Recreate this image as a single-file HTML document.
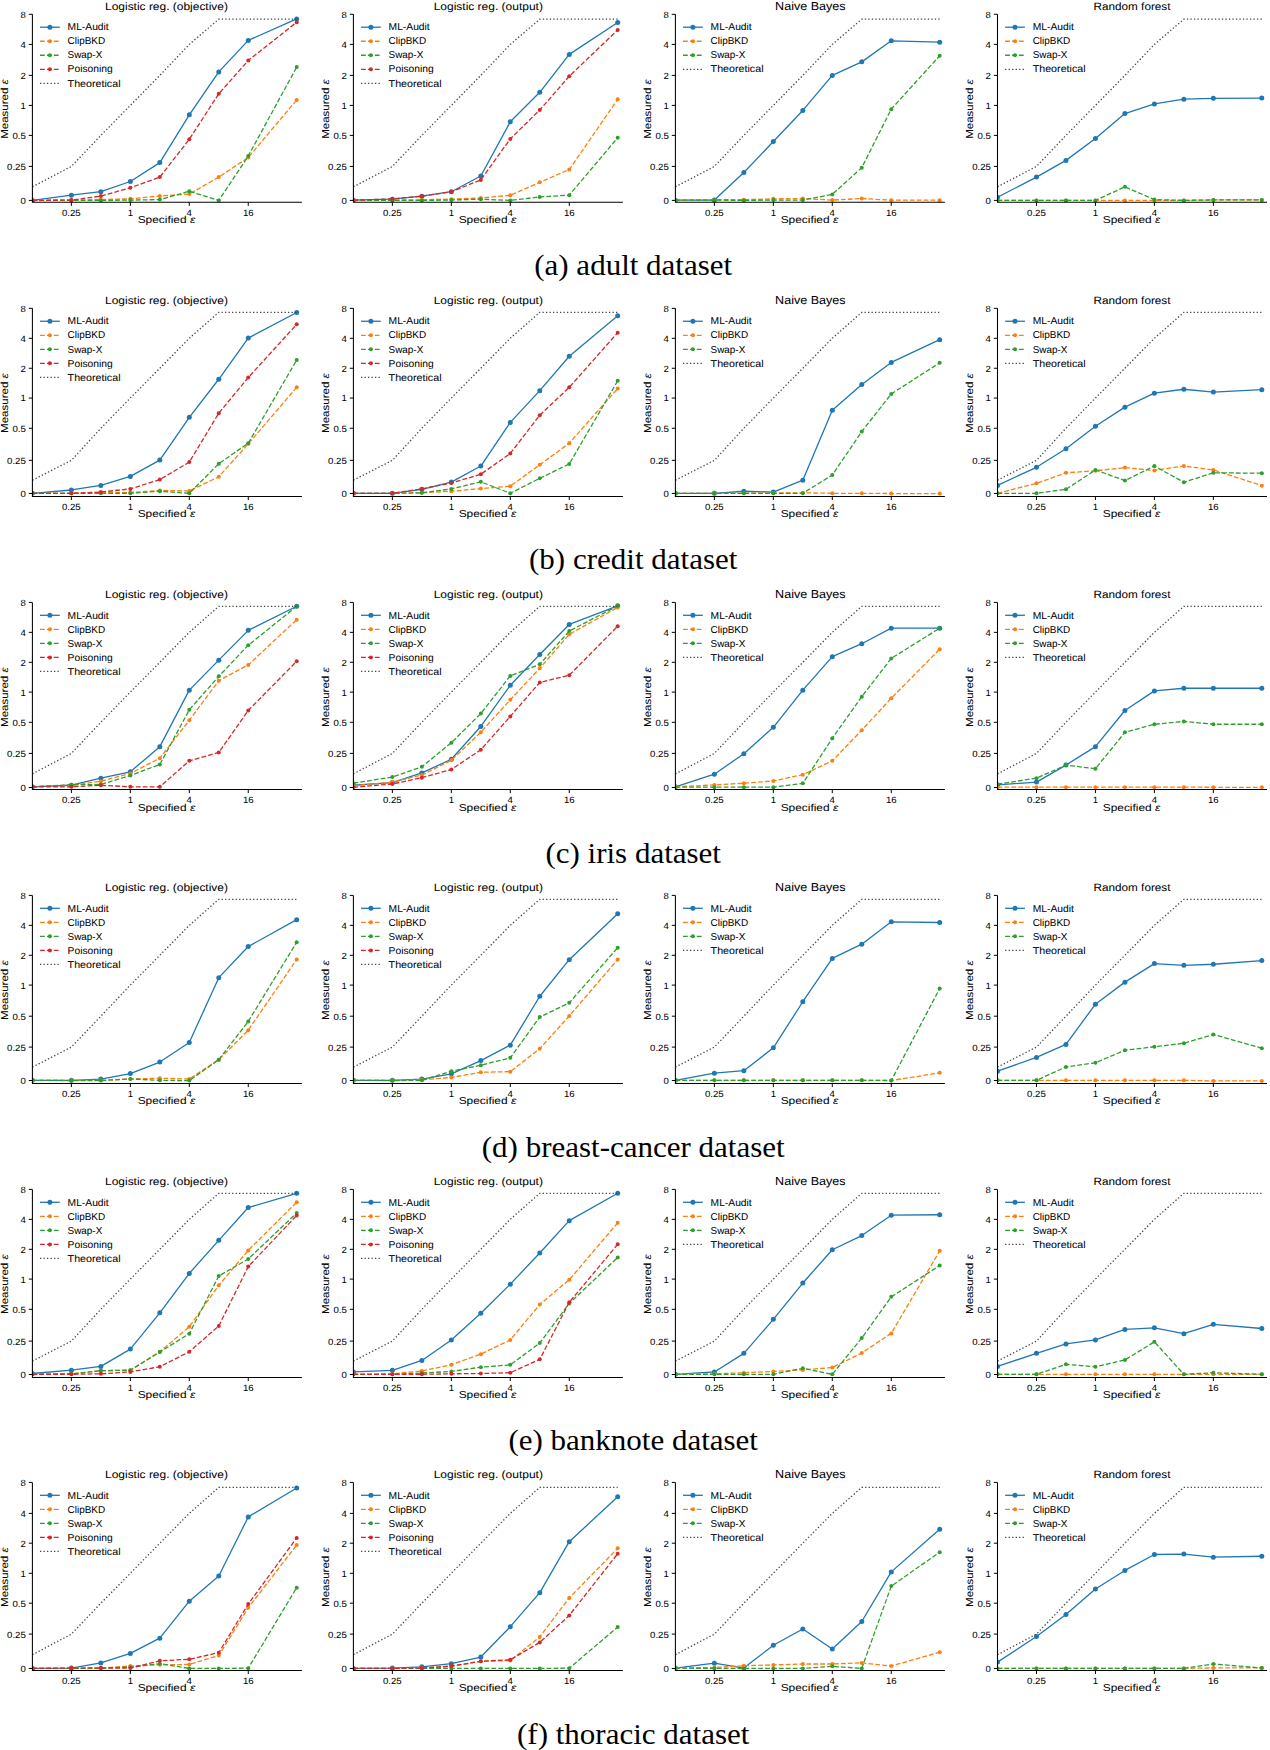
<!DOCTYPE html><html><head><meta charset="utf-8"><title>Figure</title><style>html,body{margin:0;padding:0;background:#fff;overflow:hidden}svg{display:block}.t text{stroke:#000;stroke-width:0.04px}</style></head><body>
<svg width="1270" height="1750" viewBox="0 0 1270 1750">
<rect width="1270" height="1750" fill="#fff"/>
<g class="t" font-family='"Liberation Sans", sans-serif' fill="#000" text-rendering="geometricPrecision"><clipPath id="k00"><rect x="32.4" y="14.3" width="269.5" height="188"/></clipPath><g clip-path="url(#k00)"><polyline points="32.4,200.4 71.37,195.2 100.85,191.7 130.33,181.5 159.81,162.6 189.29,114.8 218.77,71.9 248.25,40.4 296.71,18.9" fill="none" stroke="#1f77b4" stroke-width="1.3" stroke-linejoin="round"/><circle cx="32.4" cy="200.4" r="2.5" fill="#1f77b4"/><circle cx="71.37" cy="195.2" r="2.5" fill="#1f77b4"/><circle cx="100.85" cy="191.7" r="2.5" fill="#1f77b4"/><circle cx="130.33" cy="181.5" r="2.5" fill="#1f77b4"/><circle cx="159.81" cy="162.6" r="2.5" fill="#1f77b4"/><circle cx="189.29" cy="114.8" r="2.5" fill="#1f77b4"/><circle cx="218.77" cy="71.9" r="2.5" fill="#1f77b4"/><circle cx="248.25" cy="40.4" r="2.5" fill="#1f77b4"/><circle cx="296.71" cy="18.9" r="2.5" fill="#1f77b4"/><polyline points="32.4,200.4 71.37,200.1 100.85,199.6 130.33,198.8 159.81,196 189.29,194.1 218.77,177.1 248.25,157.5 296.71,99.9" fill="none" stroke="#ff7f0e" stroke-width="1.3" stroke-dasharray="4.8 2.1" stroke-linejoin="round"/><circle cx="32.4" cy="200.4" r="2.0" fill="#ff7f0e"/><circle cx="71.37" cy="200.1" r="2.0" fill="#ff7f0e"/><circle cx="100.85" cy="199.6" r="2.0" fill="#ff7f0e"/><circle cx="130.33" cy="198.8" r="2.0" fill="#ff7f0e"/><circle cx="159.81" cy="196" r="2.0" fill="#ff7f0e"/><circle cx="189.29" cy="194.1" r="2.0" fill="#ff7f0e"/><circle cx="218.77" cy="177.1" r="2.0" fill="#ff7f0e"/><circle cx="248.25" cy="157.5" r="2.0" fill="#ff7f0e"/><circle cx="296.71" cy="99.9" r="2.0" fill="#ff7f0e"/><polyline points="32.4,200.4 71.37,200.4 100.85,200.4 130.33,200.1 159.81,199.6 189.29,191.3 218.77,200.4 248.25,156 296.71,67.1" fill="none" stroke="#2ca02c" stroke-width="1.3" stroke-dasharray="4.8 2.1" stroke-linejoin="round"/><circle cx="32.4" cy="200.4" r="2.0" fill="#2ca02c"/><circle cx="71.37" cy="200.4" r="2.0" fill="#2ca02c"/><circle cx="100.85" cy="200.4" r="2.0" fill="#2ca02c"/><circle cx="130.33" cy="200.1" r="2.0" fill="#2ca02c"/><circle cx="159.81" cy="199.6" r="2.0" fill="#2ca02c"/><circle cx="189.29" cy="191.3" r="2.0" fill="#2ca02c"/><circle cx="218.77" cy="200.4" r="2.0" fill="#2ca02c"/><circle cx="248.25" cy="156" r="2.0" fill="#2ca02c"/><circle cx="296.71" cy="67.1" r="2.0" fill="#2ca02c"/><polyline points="32.4,200.4 71.37,200.1 100.85,196.1 130.33,187.8 159.81,177.1 189.29,139.3 218.77,93.8 248.25,60.5 296.71,22.2" fill="none" stroke="#d62728" stroke-width="1.3" stroke-dasharray="4.8 2.1" stroke-linejoin="round"/><circle cx="32.4" cy="200.4" r="2.0" fill="#d62728"/><circle cx="71.37" cy="200.1" r="2.0" fill="#d62728"/><circle cx="100.85" cy="196.1" r="2.0" fill="#d62728"/><circle cx="130.33" cy="187.8" r="2.0" fill="#d62728"/><circle cx="159.81" cy="177.1" r="2.0" fill="#d62728"/><circle cx="189.29" cy="139.3" r="2.0" fill="#d62728"/><circle cx="218.77" cy="93.8" r="2.0" fill="#d62728"/><circle cx="248.25" cy="60.5" r="2.0" fill="#d62728"/><circle cx="296.71" cy="22.2" r="2.0" fill="#d62728"/><polyline points="32.4,186.8 71.37,166.4 100.85,135.4 130.33,105.4 159.81,75.4 189.29,44.4 218.77,19.2 248.25,19.2 296.71,19.2" fill="none" stroke="#444444" stroke-width="1.3" stroke-dasharray="1.3 2.2"/></g><path d="M32.4,14.3V202.3H301.9" fill="none" stroke="#000" stroke-width="1.05"/><path d="M28.8,14.3H32.4M28.8,44.4H32.4M28.8,75.4H32.4M28.8,105.4H32.4M28.8,135.4H32.4M28.8,166.4H32.4M28.8,200.4H32.4M71.37,202.3V205.9M130.33,202.3V205.9M189.29,202.3V205.9M248.25,202.3V205.9" fill="none" stroke="#000" stroke-width="1"/><text x="25.8" y="17.7" text-anchor="end" font-size="9" textLength="5.34" lengthAdjust="spacingAndGlyphs">8</text><text x="25.8" y="47.8" text-anchor="end" font-size="9" textLength="5.34" lengthAdjust="spacingAndGlyphs">4</text><text x="25.8" y="78.8" text-anchor="end" font-size="9" textLength="5.34" lengthAdjust="spacingAndGlyphs">2</text><text x="25.8" y="108.8" text-anchor="end" font-size="9" textLength="5.34" lengthAdjust="spacingAndGlyphs">1</text><text x="25.8" y="138.8" text-anchor="end" font-size="9" textLength="13.36" lengthAdjust="spacingAndGlyphs">0.5</text><text x="25.8" y="169.8" text-anchor="end" font-size="9" textLength="18.70" lengthAdjust="spacingAndGlyphs">0.25</text><text x="25.8" y="203.8" text-anchor="end" font-size="9" textLength="5.34" lengthAdjust="spacingAndGlyphs">0</text><text x="71.37" y="215.6" text-anchor="middle" font-size="9" textLength="18.70" lengthAdjust="spacingAndGlyphs">0.25</text><text x="130.33" y="215.6" text-anchor="middle" font-size="9" textLength="5.34" lengthAdjust="spacingAndGlyphs">1</text><text x="189.29" y="215.6" text-anchor="middle" font-size="9" textLength="5.34" lengthAdjust="spacingAndGlyphs">4</text><text x="248.25" y="215.6" text-anchor="middle" font-size="9" textLength="10.69" lengthAdjust="spacingAndGlyphs">16</text><text x="166.5" y="9.8" text-anchor="middle" font-size="10.6" textLength="122.90" lengthAdjust="spacingAndGlyphs">Logistic reg. (objective)</text><text x="166.4" y="222.8" text-anchor="middle" font-size="10" textLength="57.50" lengthAdjust="spacingAndGlyphs">Specified <tspan font-style="italic">ε</tspan></text><text transform="translate(8,109.1) rotate(-90)" text-anchor="middle" font-size="10.2" textLength="59.50" lengthAdjust="spacingAndGlyphs">Measured <tspan font-style="italic">ε</tspan></text><path d="M40,27.2H59.8" stroke="#1f77b4" stroke-width="1.3"/><circle cx="49.9" cy="27.2" r="2.5" fill="#1f77b4"/><text x="67.6" y="30.4" font-size="10" textLength="41.11" lengthAdjust="spacingAndGlyphs">ML-Audit</text><path d="M40,41.23H59.8" stroke="#ff7f0e" stroke-width="1.3" stroke-dasharray="4.8 2.1"/><circle cx="49.9" cy="41.23" r="2.0" fill="#ff7f0e"/><text x="67.6" y="44.43" font-size="10" textLength="37.60" lengthAdjust="spacingAndGlyphs">ClipBKD</text><path d="M40,55.26H59.8" stroke="#2ca02c" stroke-width="1.3" stroke-dasharray="4.8 2.1"/><circle cx="49.9" cy="55.26" r="2.0" fill="#2ca02c"/><text x="67.6" y="58.46" font-size="10" textLength="34.67" lengthAdjust="spacingAndGlyphs">Swap-X</text><path d="M40,69.29H59.8" stroke="#d62728" stroke-width="1.3" stroke-dasharray="4.8 2.1"/><circle cx="49.9" cy="69.29" r="2.0" fill="#d62728"/><text x="67.6" y="72.49" font-size="10" textLength="45.03" lengthAdjust="spacingAndGlyphs">Poisoning</text><path d="M40,83.32H59.8" stroke="#444444" stroke-width="1.3" stroke-dasharray="1.3 2.2"/><text x="67.6" y="86.52" font-size="10" textLength="52.91" lengthAdjust="spacingAndGlyphs">Theoretical</text></g>
<g class="t" font-family='"Liberation Sans", sans-serif' fill="#000" text-rendering="geometricPrecision"><clipPath id="k01"><rect x="353.4" y="14.3" width="269.5" height="188"/></clipPath><g clip-path="url(#k01)"><polyline points="353.4,200.19 392.37,199.13 421.85,196.14 451.33,191.73 480.81,175.98 510.29,121.83 539.77,92.28 569.25,54.41 617.71,22.45" fill="none" stroke="#1f77b4" stroke-width="1.3" stroke-linejoin="round"/><circle cx="353.4" cy="200.19" r="2.5" fill="#1f77b4"/><circle cx="392.37" cy="199.13" r="2.5" fill="#1f77b4"/><circle cx="421.85" cy="196.14" r="2.5" fill="#1f77b4"/><circle cx="451.33" cy="191.73" r="2.5" fill="#1f77b4"/><circle cx="480.81" cy="175.98" r="2.5" fill="#1f77b4"/><circle cx="510.29" cy="121.83" r="2.5" fill="#1f77b4"/><circle cx="539.77" cy="92.28" r="2.5" fill="#1f77b4"/><circle cx="569.25" cy="54.41" r="2.5" fill="#1f77b4"/><circle cx="617.71" cy="22.45" r="2.5" fill="#1f77b4"/><polyline points="353.4,200.19 392.37,200.08 421.85,199.76 451.33,199.13 480.81,198.03 510.29,195.35 539.77,182.28 569.25,169.55 617.71,99.28" fill="none" stroke="#ff7f0e" stroke-width="1.3" stroke-dasharray="4.8 2.1" stroke-linejoin="round"/><circle cx="353.4" cy="200.19" r="2.0" fill="#ff7f0e"/><circle cx="392.37" cy="200.08" r="2.0" fill="#ff7f0e"/><circle cx="421.85" cy="199.76" r="2.0" fill="#ff7f0e"/><circle cx="451.33" cy="199.13" r="2.0" fill="#ff7f0e"/><circle cx="480.81" cy="198.03" r="2.0" fill="#ff7f0e"/><circle cx="510.29" cy="195.35" r="2.0" fill="#ff7f0e"/><circle cx="539.77" cy="182.28" r="2.0" fill="#ff7f0e"/><circle cx="569.25" cy="169.55" r="2.0" fill="#ff7f0e"/><circle cx="617.71" cy="99.28" r="2.0" fill="#ff7f0e"/><polyline points="353.4,200.19 392.37,200.39 421.85,200.39 451.33,200.08 480.81,199.13 510.29,200.39 539.77,196.93 569.25,195.16 617.71,137.81" fill="none" stroke="#2ca02c" stroke-width="1.3" stroke-dasharray="4.8 2.1" stroke-linejoin="round"/><circle cx="353.4" cy="200.19" r="2.0" fill="#2ca02c"/><circle cx="392.37" cy="200.39" r="2.0" fill="#2ca02c"/><circle cx="421.85" cy="200.39" r="2.0" fill="#2ca02c"/><circle cx="451.33" cy="200.08" r="2.0" fill="#2ca02c"/><circle cx="480.81" cy="199.13" r="2.0" fill="#2ca02c"/><circle cx="510.29" cy="200.39" r="2.0" fill="#2ca02c"/><circle cx="539.77" cy="196.93" r="2.0" fill="#2ca02c"/><circle cx="569.25" cy="195.16" r="2.0" fill="#2ca02c"/><circle cx="617.71" cy="137.81" r="2.0" fill="#2ca02c"/><polyline points="353.4,200.19 392.37,198.82 421.85,196.14 451.33,191.73 480.81,179.92 510.29,138.9 539.77,110.01 569.25,76.3 617.71,29.89" fill="none" stroke="#d62728" stroke-width="1.3" stroke-dasharray="4.8 2.1" stroke-linejoin="round"/><circle cx="353.4" cy="200.19" r="2.0" fill="#d62728"/><circle cx="392.37" cy="198.82" r="2.0" fill="#d62728"/><circle cx="421.85" cy="196.14" r="2.0" fill="#d62728"/><circle cx="451.33" cy="191.73" r="2.0" fill="#d62728"/><circle cx="480.81" cy="179.92" r="2.0" fill="#d62728"/><circle cx="510.29" cy="138.9" r="2.0" fill="#d62728"/><circle cx="539.77" cy="110.01" r="2.0" fill="#d62728"/><circle cx="569.25" cy="76.3" r="2.0" fill="#d62728"/><circle cx="617.71" cy="29.89" r="2.0" fill="#d62728"/><polyline points="353.4,186.8 392.37,166.4 421.85,135.4 451.33,105.4 480.81,75.4 510.29,44.4 539.77,19.2 569.25,19.2 617.71,19.2" fill="none" stroke="#444444" stroke-width="1.3" stroke-dasharray="1.3 2.2"/></g><path d="M353.4,14.3V202.3H622.9" fill="none" stroke="#000" stroke-width="1.05"/><path d="M349.8,14.3H353.4M349.8,44.4H353.4M349.8,75.4H353.4M349.8,105.4H353.4M349.8,135.4H353.4M349.8,166.4H353.4M349.8,200.4H353.4M392.37,202.3V205.9M451.33,202.3V205.9M510.29,202.3V205.9M569.25,202.3V205.9" fill="none" stroke="#000" stroke-width="1"/><text x="346.8" y="17.7" text-anchor="end" font-size="9" textLength="5.34" lengthAdjust="spacingAndGlyphs">8</text><text x="346.8" y="47.8" text-anchor="end" font-size="9" textLength="5.34" lengthAdjust="spacingAndGlyphs">4</text><text x="346.8" y="78.8" text-anchor="end" font-size="9" textLength="5.34" lengthAdjust="spacingAndGlyphs">2</text><text x="346.8" y="108.8" text-anchor="end" font-size="9" textLength="5.34" lengthAdjust="spacingAndGlyphs">1</text><text x="346.8" y="138.8" text-anchor="end" font-size="9" textLength="13.36" lengthAdjust="spacingAndGlyphs">0.5</text><text x="346.8" y="169.8" text-anchor="end" font-size="9" textLength="18.70" lengthAdjust="spacingAndGlyphs">0.25</text><text x="346.8" y="203.8" text-anchor="end" font-size="9" textLength="5.34" lengthAdjust="spacingAndGlyphs">0</text><text x="392.37" y="215.6" text-anchor="middle" font-size="9" textLength="18.70" lengthAdjust="spacingAndGlyphs">0.25</text><text x="451.33" y="215.6" text-anchor="middle" font-size="9" textLength="5.34" lengthAdjust="spacingAndGlyphs">1</text><text x="510.29" y="215.6" text-anchor="middle" font-size="9" textLength="5.34" lengthAdjust="spacingAndGlyphs">4</text><text x="569.25" y="215.6" text-anchor="middle" font-size="9" textLength="10.69" lengthAdjust="spacingAndGlyphs">16</text><text x="488.3" y="9.8" text-anchor="middle" font-size="10.6" textLength="109.30" lengthAdjust="spacingAndGlyphs">Logistic reg. (output)</text><text x="487.4" y="222.8" text-anchor="middle" font-size="10" textLength="57.50" lengthAdjust="spacingAndGlyphs">Specified <tspan font-style="italic">ε</tspan></text><text transform="translate(329,109.1) rotate(-90)" text-anchor="middle" font-size="10.2" textLength="59.50" lengthAdjust="spacingAndGlyphs">Measured <tspan font-style="italic">ε</tspan></text><path d="M361,27.2H380.8" stroke="#1f77b4" stroke-width="1.3"/><circle cx="370.9" cy="27.2" r="2.5" fill="#1f77b4"/><text x="388.6" y="30.4" font-size="10" textLength="41.11" lengthAdjust="spacingAndGlyphs">ML-Audit</text><path d="M361,41.23H380.8" stroke="#ff7f0e" stroke-width="1.3" stroke-dasharray="4.8 2.1"/><circle cx="370.9" cy="41.23" r="2.0" fill="#ff7f0e"/><text x="388.6" y="44.43" font-size="10" textLength="37.60" lengthAdjust="spacingAndGlyphs">ClipBKD</text><path d="M361,55.26H380.8" stroke="#2ca02c" stroke-width="1.3" stroke-dasharray="4.8 2.1"/><circle cx="370.9" cy="55.26" r="2.0" fill="#2ca02c"/><text x="388.6" y="58.46" font-size="10" textLength="34.67" lengthAdjust="spacingAndGlyphs">Swap-X</text><path d="M361,69.29H380.8" stroke="#d62728" stroke-width="1.3" stroke-dasharray="4.8 2.1"/><circle cx="370.9" cy="69.29" r="2.0" fill="#d62728"/><text x="388.6" y="72.49" font-size="10" textLength="45.03" lengthAdjust="spacingAndGlyphs">Poisoning</text><path d="M361,83.32H380.8" stroke="#444444" stroke-width="1.3" stroke-dasharray="1.3 2.2"/><text x="388.6" y="86.52" font-size="10" textLength="52.91" lengthAdjust="spacingAndGlyphs">Theoretical</text></g>
<g class="t" font-family='"Liberation Sans", sans-serif' fill="#000" text-rendering="geometricPrecision"><clipPath id="k02"><rect x="675.4" y="14.3" width="269.5" height="188"/></clipPath><g clip-path="url(#k02)"><polyline points="675.4,200.19 714.37,200.08 743.85,172.52 773.33,141.53 802.81,110.44 832.29,75.42 861.77,61.85 891.25,40.83 939.71,42.15" fill="none" stroke="#1f77b4" stroke-width="1.3" stroke-linejoin="round"/><circle cx="675.4" cy="200.19" r="2.5" fill="#1f77b4"/><circle cx="714.37" cy="200.08" r="2.5" fill="#1f77b4"/><circle cx="743.85" cy="172.52" r="2.5" fill="#1f77b4"/><circle cx="773.33" cy="141.53" r="2.5" fill="#1f77b4"/><circle cx="802.81" cy="110.44" r="2.5" fill="#1f77b4"/><circle cx="832.29" cy="75.42" r="2.5" fill="#1f77b4"/><circle cx="861.77" cy="61.85" r="2.5" fill="#1f77b4"/><circle cx="891.25" cy="40.83" r="2.5" fill="#1f77b4"/><circle cx="939.71" cy="42.15" r="2.5" fill="#1f77b4"/><polyline points="675.4,200.19 714.37,199.76 743.85,199.76 773.33,198.82 802.81,198.5 832.29,200.08 861.77,198.5 891.25,200.19 939.71,200.19" fill="none" stroke="#ff7f0e" stroke-width="1.3" stroke-dasharray="4.8 2.1" stroke-linejoin="round"/><circle cx="675.4" cy="200.19" r="2.0" fill="#ff7f0e"/><circle cx="714.37" cy="199.76" r="2.0" fill="#ff7f0e"/><circle cx="743.85" cy="199.76" r="2.0" fill="#ff7f0e"/><circle cx="773.33" cy="198.82" r="2.0" fill="#ff7f0e"/><circle cx="802.81" cy="198.5" r="2.0" fill="#ff7f0e"/><circle cx="832.29" cy="200.08" r="2.0" fill="#ff7f0e"/><circle cx="861.77" cy="198.5" r="2.0" fill="#ff7f0e"/><circle cx="891.25" cy="200.19" r="2.0" fill="#ff7f0e"/><circle cx="939.71" cy="200.19" r="2.0" fill="#ff7f0e"/><polyline points="675.4,200.08 714.37,200.08 743.85,200.39 773.33,200.08 802.81,200.08 832.29,194.41 861.77,167.64 891.25,109.13 939.71,55.72" fill="none" stroke="#2ca02c" stroke-width="1.3" stroke-dasharray="4.8 2.1" stroke-linejoin="round"/><circle cx="675.4" cy="200.08" r="2.0" fill="#2ca02c"/><circle cx="714.37" cy="200.08" r="2.0" fill="#2ca02c"/><circle cx="743.85" cy="200.39" r="2.0" fill="#2ca02c"/><circle cx="773.33" cy="200.08" r="2.0" fill="#2ca02c"/><circle cx="802.81" cy="200.08" r="2.0" fill="#2ca02c"/><circle cx="832.29" cy="194.41" r="2.0" fill="#2ca02c"/><circle cx="861.77" cy="167.64" r="2.0" fill="#2ca02c"/><circle cx="891.25" cy="109.13" r="2.0" fill="#2ca02c"/><circle cx="939.71" cy="55.72" r="2.0" fill="#2ca02c"/><polyline points="675.4,186.8 714.37,166.4 743.85,135.4 773.33,105.4 802.81,75.4 832.29,44.4 861.77,19.2 891.25,19.2 939.71,19.2" fill="none" stroke="#444444" stroke-width="1.3" stroke-dasharray="1.3 2.2"/></g><path d="M675.4,14.3V202.3H944.9" fill="none" stroke="#000" stroke-width="1.05"/><path d="M671.8,14.3H675.4M671.8,44.4H675.4M671.8,75.4H675.4M671.8,105.4H675.4M671.8,135.4H675.4M671.8,166.4H675.4M671.8,200.4H675.4M714.37,202.3V205.9M773.33,202.3V205.9M832.29,202.3V205.9M891.25,202.3V205.9" fill="none" stroke="#000" stroke-width="1"/><text x="668.8" y="17.7" text-anchor="end" font-size="9" textLength="5.34" lengthAdjust="spacingAndGlyphs">8</text><text x="668.8" y="47.8" text-anchor="end" font-size="9" textLength="5.34" lengthAdjust="spacingAndGlyphs">4</text><text x="668.8" y="78.8" text-anchor="end" font-size="9" textLength="5.34" lengthAdjust="spacingAndGlyphs">2</text><text x="668.8" y="108.8" text-anchor="end" font-size="9" textLength="5.34" lengthAdjust="spacingAndGlyphs">1</text><text x="668.8" y="138.8" text-anchor="end" font-size="9" textLength="13.36" lengthAdjust="spacingAndGlyphs">0.5</text><text x="668.8" y="169.8" text-anchor="end" font-size="9" textLength="18.70" lengthAdjust="spacingAndGlyphs">0.25</text><text x="668.8" y="203.8" text-anchor="end" font-size="9" textLength="5.34" lengthAdjust="spacingAndGlyphs">0</text><text x="714.37" y="215.6" text-anchor="middle" font-size="9" textLength="18.70" lengthAdjust="spacingAndGlyphs">0.25</text><text x="773.33" y="215.6" text-anchor="middle" font-size="9" textLength="5.34" lengthAdjust="spacingAndGlyphs">1</text><text x="832.29" y="215.6" text-anchor="middle" font-size="9" textLength="5.34" lengthAdjust="spacingAndGlyphs">4</text><text x="891.25" y="215.6" text-anchor="middle" font-size="9" textLength="10.69" lengthAdjust="spacingAndGlyphs">16</text><text x="810.35" y="9.8" text-anchor="middle" font-size="11.6" textLength="70.50" lengthAdjust="spacingAndGlyphs">Naive Bayes</text><text x="809.4" y="222.8" text-anchor="middle" font-size="10" textLength="57.50" lengthAdjust="spacingAndGlyphs">Specified <tspan font-style="italic">ε</tspan></text><text transform="translate(651,109.1) rotate(-90)" text-anchor="middle" font-size="10.2" textLength="59.50" lengthAdjust="spacingAndGlyphs">Measured <tspan font-style="italic">ε</tspan></text><path d="M683,27.2H702.8" stroke="#1f77b4" stroke-width="1.3"/><circle cx="692.9" cy="27.2" r="2.5" fill="#1f77b4"/><text x="710.6" y="30.4" font-size="10" textLength="41.11" lengthAdjust="spacingAndGlyphs">ML-Audit</text><path d="M683,41.23H702.8" stroke="#ff7f0e" stroke-width="1.3" stroke-dasharray="4.8 2.1"/><circle cx="692.9" cy="41.23" r="2.0" fill="#ff7f0e"/><text x="710.6" y="44.43" font-size="10" textLength="37.60" lengthAdjust="spacingAndGlyphs">ClipBKD</text><path d="M683,55.26H702.8" stroke="#2ca02c" stroke-width="1.3" stroke-dasharray="4.8 2.1"/><circle cx="692.9" cy="55.26" r="2.0" fill="#2ca02c"/><text x="710.6" y="58.46" font-size="10" textLength="34.67" lengthAdjust="spacingAndGlyphs">Swap-X</text><path d="M683,69.29H702.8" stroke="#444444" stroke-width="1.3" stroke-dasharray="1.3 2.2"/><text x="710.6" y="72.49" font-size="10" textLength="52.91" lengthAdjust="spacingAndGlyphs">Theoretical</text></g>
<g class="t" font-family='"Liberation Sans", sans-serif' fill="#000" text-rendering="geometricPrecision"><clipPath id="k03"><rect x="997.5" y="14.3" width="269.5" height="188"/></clipPath><g clip-path="url(#k03)"><polyline points="997.5,197.24 1036.47,177.09 1065.95,160.39 1095.43,138.43 1124.91,113.57 1154.39,103.97 1183.87,99.17 1213.35,98.3 1261.81,98.08" fill="none" stroke="#1f77b4" stroke-width="1.3" stroke-linejoin="round"/><circle cx="997.5" cy="197.24" r="2.5" fill="#1f77b4"/><circle cx="1036.47" cy="177.09" r="2.5" fill="#1f77b4"/><circle cx="1065.95" cy="160.39" r="2.5" fill="#1f77b4"/><circle cx="1095.43" cy="138.43" r="2.5" fill="#1f77b4"/><circle cx="1124.91" cy="113.57" r="2.5" fill="#1f77b4"/><circle cx="1154.39" cy="103.97" r="2.5" fill="#1f77b4"/><circle cx="1183.87" cy="99.17" r="2.5" fill="#1f77b4"/><circle cx="1213.35" cy="98.3" r="2.5" fill="#1f77b4"/><circle cx="1261.81" cy="98.08" r="2.5" fill="#1f77b4"/><polyline points="997.5,200.39 1036.47,200.39 1065.95,200.39 1095.43,200.39 1124.91,200.39 1154.39,200.39 1183.87,200.39 1213.35,199.94 1261.81,199.94" fill="none" stroke="#ff7f0e" stroke-width="1.3" stroke-dasharray="4.8 2.1" stroke-linejoin="round"/><circle cx="997.5" cy="200.39" r="2.0" fill="#ff7f0e"/><circle cx="1036.47" cy="200.39" r="2.0" fill="#ff7f0e"/><circle cx="1065.95" cy="200.39" r="2.0" fill="#ff7f0e"/><circle cx="1095.43" cy="200.39" r="2.0" fill="#ff7f0e"/><circle cx="1124.91" cy="200.39" r="2.0" fill="#ff7f0e"/><circle cx="1154.39" cy="200.39" r="2.0" fill="#ff7f0e"/><circle cx="1183.87" cy="200.39" r="2.0" fill="#ff7f0e"/><circle cx="1213.35" cy="199.94" r="2.0" fill="#ff7f0e"/><circle cx="1261.81" cy="199.94" r="2.0" fill="#ff7f0e"/><polyline points="997.5,200.39 1036.47,200.39 1065.95,200.39 1095.43,200.39 1124.91,186.85 1154.39,199.61 1183.87,200.39 1213.35,199.94 1261.81,199.94" fill="none" stroke="#2ca02c" stroke-width="1.3" stroke-dasharray="4.8 2.1" stroke-linejoin="round"/><circle cx="997.5" cy="200.39" r="2.0" fill="#2ca02c"/><circle cx="1036.47" cy="200.39" r="2.0" fill="#2ca02c"/><circle cx="1065.95" cy="200.39" r="2.0" fill="#2ca02c"/><circle cx="1095.43" cy="200.39" r="2.0" fill="#2ca02c"/><circle cx="1124.91" cy="186.85" r="2.0" fill="#2ca02c"/><circle cx="1154.39" cy="199.61" r="2.0" fill="#2ca02c"/><circle cx="1183.87" cy="200.39" r="2.0" fill="#2ca02c"/><circle cx="1213.35" cy="199.94" r="2.0" fill="#2ca02c"/><circle cx="1261.81" cy="199.94" r="2.0" fill="#2ca02c"/><polyline points="997.5,186.8 1036.47,166.4 1065.95,135.4 1095.43,105.4 1124.91,75.4 1154.39,44.4 1183.87,19.2 1213.35,19.2 1261.81,19.2" fill="none" stroke="#444444" stroke-width="1.3" stroke-dasharray="1.3 2.2"/></g><path d="M997.5,14.3V202.3H1267" fill="none" stroke="#000" stroke-width="1.05"/><path d="M993.9,14.3H997.5M993.9,44.4H997.5M993.9,75.4H997.5M993.9,105.4H997.5M993.9,135.4H997.5M993.9,166.4H997.5M993.9,200.4H997.5M1036.47,202.3V205.9M1095.43,202.3V205.9M1154.39,202.3V205.9M1213.35,202.3V205.9" fill="none" stroke="#000" stroke-width="1"/><text x="990.9" y="17.7" text-anchor="end" font-size="9" textLength="5.34" lengthAdjust="spacingAndGlyphs">8</text><text x="990.9" y="47.8" text-anchor="end" font-size="9" textLength="5.34" lengthAdjust="spacingAndGlyphs">4</text><text x="990.9" y="78.8" text-anchor="end" font-size="9" textLength="5.34" lengthAdjust="spacingAndGlyphs">2</text><text x="990.9" y="108.8" text-anchor="end" font-size="9" textLength="5.34" lengthAdjust="spacingAndGlyphs">1</text><text x="990.9" y="138.8" text-anchor="end" font-size="9" textLength="13.36" lengthAdjust="spacingAndGlyphs">0.5</text><text x="990.9" y="169.8" text-anchor="end" font-size="9" textLength="18.70" lengthAdjust="spacingAndGlyphs">0.25</text><text x="990.9" y="203.8" text-anchor="end" font-size="9" textLength="5.34" lengthAdjust="spacingAndGlyphs">0</text><text x="1036.47" y="215.6" text-anchor="middle" font-size="9" textLength="18.70" lengthAdjust="spacingAndGlyphs">0.25</text><text x="1095.43" y="215.6" text-anchor="middle" font-size="9" textLength="5.34" lengthAdjust="spacingAndGlyphs">1</text><text x="1154.39" y="215.6" text-anchor="middle" font-size="9" textLength="5.34" lengthAdjust="spacingAndGlyphs">4</text><text x="1213.35" y="215.6" text-anchor="middle" font-size="9" textLength="10.69" lengthAdjust="spacingAndGlyphs">16</text><text x="1132" y="9.8" text-anchor="middle" font-size="10.6" textLength="76.90" lengthAdjust="spacingAndGlyphs">Random forest</text><text x="1131.5" y="222.8" text-anchor="middle" font-size="10" textLength="57.50" lengthAdjust="spacingAndGlyphs">Specified <tspan font-style="italic">ε</tspan></text><text transform="translate(973.1,109.1) rotate(-90)" text-anchor="middle" font-size="10.2" textLength="59.50" lengthAdjust="spacingAndGlyphs">Measured <tspan font-style="italic">ε</tspan></text><path d="M1005.1,27.2H1024.9" stroke="#1f77b4" stroke-width="1.3"/><circle cx="1015" cy="27.2" r="2.5" fill="#1f77b4"/><text x="1032.7" y="30.4" font-size="10" textLength="41.11" lengthAdjust="spacingAndGlyphs">ML-Audit</text><path d="M1005.1,41.23H1024.9" stroke="#ff7f0e" stroke-width="1.3" stroke-dasharray="4.8 2.1"/><circle cx="1015" cy="41.23" r="2.0" fill="#ff7f0e"/><text x="1032.7" y="44.43" font-size="10" textLength="37.60" lengthAdjust="spacingAndGlyphs">ClipBKD</text><path d="M1005.1,55.26H1024.9" stroke="#2ca02c" stroke-width="1.3" stroke-dasharray="4.8 2.1"/><circle cx="1015" cy="55.26" r="2.0" fill="#2ca02c"/><text x="1032.7" y="58.46" font-size="10" textLength="34.67" lengthAdjust="spacingAndGlyphs">Swap-X</text><path d="M1005.1,69.29H1024.9" stroke="#444444" stroke-width="1.3" stroke-dasharray="1.3 2.2"/><text x="1032.7" y="72.49" font-size="10" textLength="52.91" lengthAdjust="spacingAndGlyphs">Theoretical</text></g>
<g class="t" font-family='"Liberation Sans", sans-serif' fill="#000" text-rendering="geometricPrecision"><clipPath id="k10"><rect x="32.4" y="308.35" width="269.5" height="188.07"/></clipPath><g clip-path="url(#k10)"><polyline points="32.4,493.29 71.37,489.98 100.85,485.42 130.33,476.44 159.81,460.06 189.29,417.36 218.77,379.27 248.25,338.12 296.71,312.51" fill="none" stroke="#1f77b4" stroke-width="1.3" stroke-linejoin="round"/><circle cx="32.4" cy="493.29" r="2.5" fill="#1f77b4"/><circle cx="71.37" cy="489.98" r="2.5" fill="#1f77b4"/><circle cx="100.85" cy="485.42" r="2.5" fill="#1f77b4"/><circle cx="130.33" cy="476.44" r="2.5" fill="#1f77b4"/><circle cx="159.81" cy="460.06" r="2.5" fill="#1f77b4"/><circle cx="189.29" cy="417.36" r="2.5" fill="#1f77b4"/><circle cx="218.77" cy="379.27" r="2.5" fill="#1f77b4"/><circle cx="248.25" cy="338.12" r="2.5" fill="#1f77b4"/><circle cx="296.71" cy="312.51" r="2.5" fill="#1f77b4"/><polyline points="32.4,493.29 71.37,493.29 100.85,492.82 130.33,492.5 159.81,490.46 189.29,490.93 218.77,476.76 248.25,443.85 296.71,387.37" fill="none" stroke="#ff7f0e" stroke-width="1.3" stroke-dasharray="4.8 2.1" stroke-linejoin="round"/><circle cx="32.4" cy="493.29" r="2.0" fill="#ff7f0e"/><circle cx="71.37" cy="493.29" r="2.0" fill="#ff7f0e"/><circle cx="100.85" cy="492.82" r="2.0" fill="#ff7f0e"/><circle cx="130.33" cy="492.5" r="2.0" fill="#ff7f0e"/><circle cx="159.81" cy="490.46" r="2.0" fill="#ff7f0e"/><circle cx="189.29" cy="490.93" r="2.0" fill="#ff7f0e"/><circle cx="218.77" cy="476.76" r="2.0" fill="#ff7f0e"/><circle cx="248.25" cy="443.85" r="2.0" fill="#ff7f0e"/><circle cx="296.71" cy="387.37" r="2.0" fill="#ff7f0e"/><polyline points="32.4,493.29 71.37,493.29 100.85,493.29 130.33,493.29 159.81,491.24 189.29,493.29 218.77,463.69 248.25,443.19 296.71,360.01" fill="none" stroke="#2ca02c" stroke-width="1.3" stroke-dasharray="4.8 2.1" stroke-linejoin="round"/><circle cx="32.4" cy="493.29" r="2.0" fill="#2ca02c"/><circle cx="71.37" cy="493.29" r="2.0" fill="#2ca02c"/><circle cx="100.85" cy="493.29" r="2.0" fill="#2ca02c"/><circle cx="130.33" cy="493.29" r="2.0" fill="#2ca02c"/><circle cx="159.81" cy="491.24" r="2.0" fill="#2ca02c"/><circle cx="189.29" cy="493.29" r="2.0" fill="#2ca02c"/><circle cx="218.77" cy="463.69" r="2.0" fill="#2ca02c"/><circle cx="248.25" cy="443.19" r="2.0" fill="#2ca02c"/><circle cx="296.71" cy="360.01" r="2.0" fill="#2ca02c"/><polyline points="32.4,493.29 71.37,493.29 100.85,492.03 130.33,488.88 159.81,479.59 189.29,462.11 218.77,413.2 248.25,377.52 296.71,324.33" fill="none" stroke="#d62728" stroke-width="1.3" stroke-dasharray="4.8 2.1" stroke-linejoin="round"/><circle cx="32.4" cy="493.29" r="2.0" fill="#d62728"/><circle cx="71.37" cy="493.29" r="2.0" fill="#d62728"/><circle cx="100.85" cy="492.03" r="2.0" fill="#d62728"/><circle cx="130.33" cy="488.88" r="2.0" fill="#d62728"/><circle cx="159.81" cy="479.59" r="2.0" fill="#d62728"/><circle cx="189.29" cy="462.11" r="2.0" fill="#d62728"/><circle cx="218.77" cy="413.2" r="2.0" fill="#d62728"/><circle cx="248.25" cy="377.52" r="2.0" fill="#d62728"/><circle cx="296.71" cy="324.33" r="2.0" fill="#d62728"/><polyline points="32.4,480.21 71.37,460.35 100.85,428.25 130.33,398.05 159.81,368.25 189.29,338.3 218.77,312.3 248.25,312.3 296.71,312.3" fill="none" stroke="#444444" stroke-width="1.3" stroke-dasharray="1.3 2.2"/></g><path d="M32.4,308.35V496.42H301.9" fill="none" stroke="#000" stroke-width="1.05"/><path d="M28.8,308.35H32.4M28.8,338.3H32.4M28.8,368.25H32.4M28.8,398.05H32.4M28.8,428.25H32.4M28.8,460.35H32.4M28.8,493.45H32.4M71.37,496.42V500.02M130.33,496.42V500.02M189.29,496.42V500.02M248.25,496.42V500.02" fill="none" stroke="#000" stroke-width="1"/><text x="25.8" y="311.75" text-anchor="end" font-size="9" textLength="5.34" lengthAdjust="spacingAndGlyphs">8</text><text x="25.8" y="341.7" text-anchor="end" font-size="9" textLength="5.34" lengthAdjust="spacingAndGlyphs">4</text><text x="25.8" y="371.65" text-anchor="end" font-size="9" textLength="5.34" lengthAdjust="spacingAndGlyphs">2</text><text x="25.8" y="401.45" text-anchor="end" font-size="9" textLength="5.34" lengthAdjust="spacingAndGlyphs">1</text><text x="25.8" y="431.65" text-anchor="end" font-size="9" textLength="13.36" lengthAdjust="spacingAndGlyphs">0.5</text><text x="25.8" y="463.75" text-anchor="end" font-size="9" textLength="18.70" lengthAdjust="spacingAndGlyphs">0.25</text><text x="25.8" y="496.85" text-anchor="end" font-size="9" textLength="5.34" lengthAdjust="spacingAndGlyphs">0</text><text x="71.37" y="509.72" text-anchor="middle" font-size="9" textLength="18.70" lengthAdjust="spacingAndGlyphs">0.25</text><text x="130.33" y="509.72" text-anchor="middle" font-size="9" textLength="5.34" lengthAdjust="spacingAndGlyphs">1</text><text x="189.29" y="509.72" text-anchor="middle" font-size="9" textLength="5.34" lengthAdjust="spacingAndGlyphs">4</text><text x="248.25" y="509.72" text-anchor="middle" font-size="9" textLength="10.69" lengthAdjust="spacingAndGlyphs">16</text><text x="166.5" y="303.85" text-anchor="middle" font-size="10.6" textLength="122.90" lengthAdjust="spacingAndGlyphs">Logistic reg. (objective)</text><text x="166.4" y="516.85" text-anchor="middle" font-size="10" textLength="57.50" lengthAdjust="spacingAndGlyphs">Specified <tspan font-style="italic">ε</tspan></text><text transform="translate(8,403.15) rotate(-90)" text-anchor="middle" font-size="10.2" textLength="59.50" lengthAdjust="spacingAndGlyphs">Measured <tspan font-style="italic">ε</tspan></text><path d="M40,321.25H59.8" stroke="#1f77b4" stroke-width="1.3"/><circle cx="49.9" cy="321.25" r="2.5" fill="#1f77b4"/><text x="67.6" y="324.45" font-size="10" textLength="41.11" lengthAdjust="spacingAndGlyphs">ML-Audit</text><path d="M40,335.28H59.8" stroke="#ff7f0e" stroke-width="1.3" stroke-dasharray="4.8 2.1"/><circle cx="49.9" cy="335.28" r="2.0" fill="#ff7f0e"/><text x="67.6" y="338.48" font-size="10" textLength="37.60" lengthAdjust="spacingAndGlyphs">ClipBKD</text><path d="M40,349.31H59.8" stroke="#2ca02c" stroke-width="1.3" stroke-dasharray="4.8 2.1"/><circle cx="49.9" cy="349.31" r="2.0" fill="#2ca02c"/><text x="67.6" y="352.51" font-size="10" textLength="34.67" lengthAdjust="spacingAndGlyphs">Swap-X</text><path d="M40,363.34H59.8" stroke="#d62728" stroke-width="1.3" stroke-dasharray="4.8 2.1"/><circle cx="49.9" cy="363.34" r="2.0" fill="#d62728"/><text x="67.6" y="366.54" font-size="10" textLength="45.03" lengthAdjust="spacingAndGlyphs">Poisoning</text><path d="M40,377.37H59.8" stroke="#444444" stroke-width="1.3" stroke-dasharray="1.3 2.2"/><text x="67.6" y="380.57" font-size="10" textLength="52.91" lengthAdjust="spacingAndGlyphs">Theoretical</text></g>
<g class="t" font-family='"Liberation Sans", sans-serif' fill="#000" text-rendering="geometricPrecision"><clipPath id="k11"><rect x="353.4" y="308.35" width="269.5" height="188.07"/></clipPath><g clip-path="url(#k11)"><polyline points="353.4,493.29 392.37,493.29 421.85,489.35 451.33,482.11 480.81,466.05 510.29,422.39 539.77,390.65 569.25,356.29 617.71,315.79" fill="none" stroke="#1f77b4" stroke-width="1.3" stroke-linejoin="round"/><circle cx="353.4" cy="493.29" r="2.5" fill="#1f77b4"/><circle cx="392.37" cy="493.29" r="2.5" fill="#1f77b4"/><circle cx="421.85" cy="489.35" r="2.5" fill="#1f77b4"/><circle cx="451.33" cy="482.11" r="2.5" fill="#1f77b4"/><circle cx="480.81" cy="466.05" r="2.5" fill="#1f77b4"/><circle cx="510.29" cy="422.39" r="2.5" fill="#1f77b4"/><circle cx="539.77" cy="390.65" r="2.5" fill="#1f77b4"/><circle cx="569.25" cy="356.29" r="2.5" fill="#1f77b4"/><circle cx="617.71" cy="315.79" r="2.5" fill="#1f77b4"/><polyline points="353.4,493.29 392.37,493.29 421.85,492.82 451.33,491.24 480.81,488.57 510.29,486.2 539.77,464.79 569.25,443.19 617.71,388.46" fill="none" stroke="#ff7f0e" stroke-width="1.3" stroke-dasharray="4.8 2.1" stroke-linejoin="round"/><circle cx="353.4" cy="493.29" r="2.0" fill="#ff7f0e"/><circle cx="392.37" cy="493.29" r="2.0" fill="#ff7f0e"/><circle cx="421.85" cy="492.82" r="2.0" fill="#ff7f0e"/><circle cx="451.33" cy="491.24" r="2.0" fill="#ff7f0e"/><circle cx="480.81" cy="488.57" r="2.0" fill="#ff7f0e"/><circle cx="510.29" cy="486.2" r="2.0" fill="#ff7f0e"/><circle cx="539.77" cy="464.79" r="2.0" fill="#ff7f0e"/><circle cx="569.25" cy="443.19" r="2.0" fill="#ff7f0e"/><circle cx="617.71" cy="388.46" r="2.0" fill="#ff7f0e"/><polyline points="353.4,493.29 392.37,493.29 421.85,492.82 451.33,488.88 480.81,481.8 510.29,493.29 539.77,478.33 569.25,463.98 617.71,380.8" fill="none" stroke="#2ca02c" stroke-width="1.3" stroke-dasharray="4.8 2.1" stroke-linejoin="round"/><circle cx="353.4" cy="493.29" r="2.0" fill="#2ca02c"/><circle cx="392.37" cy="493.29" r="2.0" fill="#2ca02c"/><circle cx="421.85" cy="492.82" r="2.0" fill="#2ca02c"/><circle cx="451.33" cy="488.88" r="2.0" fill="#2ca02c"/><circle cx="480.81" cy="481.8" r="2.0" fill="#2ca02c"/><circle cx="510.29" cy="493.29" r="2.0" fill="#2ca02c"/><circle cx="539.77" cy="478.33" r="2.0" fill="#2ca02c"/><circle cx="569.25" cy="463.98" r="2.0" fill="#2ca02c"/><circle cx="617.71" cy="380.8" r="2.0" fill="#2ca02c"/><polyline points="353.4,493.29 392.37,493.29 421.85,488.88 451.33,483.06 480.81,474.24 510.29,453.45 539.77,415.17 569.25,387.37 617.71,332.65" fill="none" stroke="#d62728" stroke-width="1.3" stroke-dasharray="4.8 2.1" stroke-linejoin="round"/><circle cx="353.4" cy="493.29" r="2.0" fill="#d62728"/><circle cx="392.37" cy="493.29" r="2.0" fill="#d62728"/><circle cx="421.85" cy="488.88" r="2.0" fill="#d62728"/><circle cx="451.33" cy="483.06" r="2.0" fill="#d62728"/><circle cx="480.81" cy="474.24" r="2.0" fill="#d62728"/><circle cx="510.29" cy="453.45" r="2.0" fill="#d62728"/><circle cx="539.77" cy="415.17" r="2.0" fill="#d62728"/><circle cx="569.25" cy="387.37" r="2.0" fill="#d62728"/><circle cx="617.71" cy="332.65" r="2.0" fill="#d62728"/><polyline points="353.4,480.21 392.37,460.35 421.85,428.25 451.33,398.05 480.81,368.25 510.29,338.3 539.77,312.3 569.25,312.3 617.71,312.3" fill="none" stroke="#444444" stroke-width="1.3" stroke-dasharray="1.3 2.2"/></g><path d="M353.4,308.35V496.42H622.9" fill="none" stroke="#000" stroke-width="1.05"/><path d="M349.8,308.35H353.4M349.8,338.3H353.4M349.8,368.25H353.4M349.8,398.05H353.4M349.8,428.25H353.4M349.8,460.35H353.4M349.8,493.45H353.4M392.37,496.42V500.02M451.33,496.42V500.02M510.29,496.42V500.02M569.25,496.42V500.02" fill="none" stroke="#000" stroke-width="1"/><text x="346.8" y="311.75" text-anchor="end" font-size="9" textLength="5.34" lengthAdjust="spacingAndGlyphs">8</text><text x="346.8" y="341.7" text-anchor="end" font-size="9" textLength="5.34" lengthAdjust="spacingAndGlyphs">4</text><text x="346.8" y="371.65" text-anchor="end" font-size="9" textLength="5.34" lengthAdjust="spacingAndGlyphs">2</text><text x="346.8" y="401.45" text-anchor="end" font-size="9" textLength="5.34" lengthAdjust="spacingAndGlyphs">1</text><text x="346.8" y="431.65" text-anchor="end" font-size="9" textLength="13.36" lengthAdjust="spacingAndGlyphs">0.5</text><text x="346.8" y="463.75" text-anchor="end" font-size="9" textLength="18.70" lengthAdjust="spacingAndGlyphs">0.25</text><text x="346.8" y="496.85" text-anchor="end" font-size="9" textLength="5.34" lengthAdjust="spacingAndGlyphs">0</text><text x="392.37" y="509.72" text-anchor="middle" font-size="9" textLength="18.70" lengthAdjust="spacingAndGlyphs">0.25</text><text x="451.33" y="509.72" text-anchor="middle" font-size="9" textLength="5.34" lengthAdjust="spacingAndGlyphs">1</text><text x="510.29" y="509.72" text-anchor="middle" font-size="9" textLength="5.34" lengthAdjust="spacingAndGlyphs">4</text><text x="569.25" y="509.72" text-anchor="middle" font-size="9" textLength="10.69" lengthAdjust="spacingAndGlyphs">16</text><text x="488.3" y="303.85" text-anchor="middle" font-size="10.6" textLength="109.30" lengthAdjust="spacingAndGlyphs">Logistic reg. (output)</text><text x="487.4" y="516.85" text-anchor="middle" font-size="10" textLength="57.50" lengthAdjust="spacingAndGlyphs">Specified <tspan font-style="italic">ε</tspan></text><text transform="translate(329,403.15) rotate(-90)" text-anchor="middle" font-size="10.2" textLength="59.50" lengthAdjust="spacingAndGlyphs">Measured <tspan font-style="italic">ε</tspan></text><path d="M361,321.25H380.8" stroke="#1f77b4" stroke-width="1.3"/><circle cx="370.9" cy="321.25" r="2.5" fill="#1f77b4"/><text x="388.6" y="324.45" font-size="10" textLength="41.11" lengthAdjust="spacingAndGlyphs">ML-Audit</text><path d="M361,335.28H380.8" stroke="#ff7f0e" stroke-width="1.3" stroke-dasharray="4.8 2.1"/><circle cx="370.9" cy="335.28" r="2.0" fill="#ff7f0e"/><text x="388.6" y="338.48" font-size="10" textLength="37.60" lengthAdjust="spacingAndGlyphs">ClipBKD</text><path d="M361,349.31H380.8" stroke="#2ca02c" stroke-width="1.3" stroke-dasharray="4.8 2.1"/><circle cx="370.9" cy="349.31" r="2.0" fill="#2ca02c"/><text x="388.6" y="352.51" font-size="10" textLength="34.67" lengthAdjust="spacingAndGlyphs">Swap-X</text><path d="M361,363.34H380.8" stroke="#d62728" stroke-width="1.3" stroke-dasharray="4.8 2.1"/><circle cx="370.9" cy="363.34" r="2.0" fill="#d62728"/><text x="388.6" y="366.54" font-size="10" textLength="45.03" lengthAdjust="spacingAndGlyphs">Poisoning</text><path d="M361,377.37H380.8" stroke="#444444" stroke-width="1.3" stroke-dasharray="1.3 2.2"/><text x="388.6" y="380.57" font-size="10" textLength="52.91" lengthAdjust="spacingAndGlyphs">Theoretical</text></g>
<g class="t" font-family='"Liberation Sans", sans-serif' fill="#000" text-rendering="geometricPrecision"><clipPath id="k12"><rect x="675.4" y="308.35" width="269.5" height="188.07"/></clipPath><g clip-path="url(#k12)"><polyline points="675.4,493.29 714.37,493.29 743.85,491.24 773.33,492.03 802.81,480.22 832.29,410.35 861.77,384.52 891.25,362.42 939.71,339.65" fill="none" stroke="#1f77b4" stroke-width="1.3" stroke-linejoin="round"/><circle cx="675.4" cy="493.29" r="2.5" fill="#1f77b4"/><circle cx="714.37" cy="493.29" r="2.5" fill="#1f77b4"/><circle cx="743.85" cy="491.24" r="2.5" fill="#1f77b4"/><circle cx="773.33" cy="492.03" r="2.5" fill="#1f77b4"/><circle cx="802.81" cy="480.22" r="2.5" fill="#1f77b4"/><circle cx="832.29" cy="410.35" r="2.5" fill="#1f77b4"/><circle cx="861.77" cy="384.52" r="2.5" fill="#1f77b4"/><circle cx="891.25" cy="362.42" r="2.5" fill="#1f77b4"/><circle cx="939.71" cy="339.65" r="2.5" fill="#1f77b4"/><polyline points="675.4,493.29 714.37,493.29 743.85,493.29 773.33,492.98 802.81,492.82 832.29,493.29 861.77,493.29 891.25,493.54 939.71,493.54" fill="none" stroke="#ff7f0e" stroke-width="1.3" stroke-dasharray="4.8 2.1" stroke-linejoin="round"/><circle cx="675.4" cy="493.29" r="2.0" fill="#ff7f0e"/><circle cx="714.37" cy="493.29" r="2.0" fill="#ff7f0e"/><circle cx="743.85" cy="493.29" r="2.0" fill="#ff7f0e"/><circle cx="773.33" cy="492.98" r="2.0" fill="#ff7f0e"/><circle cx="802.81" cy="492.82" r="2.0" fill="#ff7f0e"/><circle cx="832.29" cy="493.29" r="2.0" fill="#ff7f0e"/><circle cx="861.77" cy="493.29" r="2.0" fill="#ff7f0e"/><circle cx="891.25" cy="493.54" r="2.0" fill="#ff7f0e"/><circle cx="939.71" cy="493.54" r="2.0" fill="#ff7f0e"/><polyline points="675.4,493.29 714.37,493.29 743.85,493.29 773.33,493.29 802.81,493.29 832.29,475.02 861.77,431.59 891.25,393.94 939.71,362.85" fill="none" stroke="#2ca02c" stroke-width="1.3" stroke-dasharray="4.8 2.1" stroke-linejoin="round"/><circle cx="675.4" cy="493.29" r="2.0" fill="#2ca02c"/><circle cx="714.37" cy="493.29" r="2.0" fill="#2ca02c"/><circle cx="743.85" cy="493.29" r="2.0" fill="#2ca02c"/><circle cx="773.33" cy="493.29" r="2.0" fill="#2ca02c"/><circle cx="802.81" cy="493.29" r="2.0" fill="#2ca02c"/><circle cx="832.29" cy="475.02" r="2.0" fill="#2ca02c"/><circle cx="861.77" cy="431.59" r="2.0" fill="#2ca02c"/><circle cx="891.25" cy="393.94" r="2.0" fill="#2ca02c"/><circle cx="939.71" cy="362.85" r="2.0" fill="#2ca02c"/><polyline points="675.4,480.21 714.37,460.35 743.85,428.25 773.33,398.05 802.81,368.25 832.29,338.3 861.77,312.3 891.25,312.3 939.71,312.3" fill="none" stroke="#444444" stroke-width="1.3" stroke-dasharray="1.3 2.2"/></g><path d="M675.4,308.35V496.42H944.9" fill="none" stroke="#000" stroke-width="1.05"/><path d="M671.8,308.35H675.4M671.8,338.3H675.4M671.8,368.25H675.4M671.8,398.05H675.4M671.8,428.25H675.4M671.8,460.35H675.4M671.8,493.45H675.4M714.37,496.42V500.02M773.33,496.42V500.02M832.29,496.42V500.02M891.25,496.42V500.02" fill="none" stroke="#000" stroke-width="1"/><text x="668.8" y="311.75" text-anchor="end" font-size="9" textLength="5.34" lengthAdjust="spacingAndGlyphs">8</text><text x="668.8" y="341.7" text-anchor="end" font-size="9" textLength="5.34" lengthAdjust="spacingAndGlyphs">4</text><text x="668.8" y="371.65" text-anchor="end" font-size="9" textLength="5.34" lengthAdjust="spacingAndGlyphs">2</text><text x="668.8" y="401.45" text-anchor="end" font-size="9" textLength="5.34" lengthAdjust="spacingAndGlyphs">1</text><text x="668.8" y="431.65" text-anchor="end" font-size="9" textLength="13.36" lengthAdjust="spacingAndGlyphs">0.5</text><text x="668.8" y="463.75" text-anchor="end" font-size="9" textLength="18.70" lengthAdjust="spacingAndGlyphs">0.25</text><text x="668.8" y="496.85" text-anchor="end" font-size="9" textLength="5.34" lengthAdjust="spacingAndGlyphs">0</text><text x="714.37" y="509.72" text-anchor="middle" font-size="9" textLength="18.70" lengthAdjust="spacingAndGlyphs">0.25</text><text x="773.33" y="509.72" text-anchor="middle" font-size="9" textLength="5.34" lengthAdjust="spacingAndGlyphs">1</text><text x="832.29" y="509.72" text-anchor="middle" font-size="9" textLength="5.34" lengthAdjust="spacingAndGlyphs">4</text><text x="891.25" y="509.72" text-anchor="middle" font-size="9" textLength="10.69" lengthAdjust="spacingAndGlyphs">16</text><text x="810.35" y="303.85" text-anchor="middle" font-size="11.6" textLength="70.50" lengthAdjust="spacingAndGlyphs">Naive Bayes</text><text x="809.4" y="516.85" text-anchor="middle" font-size="10" textLength="57.50" lengthAdjust="spacingAndGlyphs">Specified <tspan font-style="italic">ε</tspan></text><text transform="translate(651,403.15) rotate(-90)" text-anchor="middle" font-size="10.2" textLength="59.50" lengthAdjust="spacingAndGlyphs">Measured <tspan font-style="italic">ε</tspan></text><path d="M683,321.25H702.8" stroke="#1f77b4" stroke-width="1.3"/><circle cx="692.9" cy="321.25" r="2.5" fill="#1f77b4"/><text x="710.6" y="324.45" font-size="10" textLength="41.11" lengthAdjust="spacingAndGlyphs">ML-Audit</text><path d="M683,335.28H702.8" stroke="#ff7f0e" stroke-width="1.3" stroke-dasharray="4.8 2.1"/><circle cx="692.9" cy="335.28" r="2.0" fill="#ff7f0e"/><text x="710.6" y="338.48" font-size="10" textLength="37.60" lengthAdjust="spacingAndGlyphs">ClipBKD</text><path d="M683,349.31H702.8" stroke="#2ca02c" stroke-width="1.3" stroke-dasharray="4.8 2.1"/><circle cx="692.9" cy="349.31" r="2.0" fill="#2ca02c"/><text x="710.6" y="352.51" font-size="10" textLength="34.67" lengthAdjust="spacingAndGlyphs">Swap-X</text><path d="M683,363.34H702.8" stroke="#444444" stroke-width="1.3" stroke-dasharray="1.3 2.2"/><text x="710.6" y="366.54" font-size="10" textLength="52.91" lengthAdjust="spacingAndGlyphs">Theoretical</text></g>
<g class="t" font-family='"Liberation Sans", sans-serif' fill="#000" text-rendering="geometricPrecision"><clipPath id="k13"><rect x="997.5" y="308.35" width="269.5" height="188.07"/></clipPath><g clip-path="url(#k13)"><polyline points="997.5,485.42 1036.47,467.31 1065.95,448.72 1095.43,426.32 1124.91,407.13 1154.39,393.17 1183.87,389.24 1213.35,392.08 1261.81,389.68" fill="none" stroke="#1f77b4" stroke-width="1.3" stroke-linejoin="round"/><circle cx="997.5" cy="485.42" r="2.5" fill="#1f77b4"/><circle cx="1036.47" cy="467.31" r="2.5" fill="#1f77b4"/><circle cx="1065.95" cy="448.72" r="2.5" fill="#1f77b4"/><circle cx="1095.43" cy="426.32" r="2.5" fill="#1f77b4"/><circle cx="1124.91" cy="407.13" r="2.5" fill="#1f77b4"/><circle cx="1154.39" cy="393.17" r="2.5" fill="#1f77b4"/><circle cx="1183.87" cy="389.24" r="2.5" fill="#1f77b4"/><circle cx="1213.35" cy="392.08" r="2.5" fill="#1f77b4"/><circle cx="1261.81" cy="389.68" r="2.5" fill="#1f77b4"/><polyline points="997.5,493.29 1036.47,483.37 1065.95,472.82 1095.43,470.77 1124.91,467.62 1154.39,470.46 1183.87,466.05 1213.35,469.94 1261.81,485.65" fill="none" stroke="#ff7f0e" stroke-width="1.3" stroke-dasharray="4.8 2.1" stroke-linejoin="round"/><circle cx="997.5" cy="493.29" r="2.0" fill="#ff7f0e"/><circle cx="1036.47" cy="483.37" r="2.0" fill="#ff7f0e"/><circle cx="1065.95" cy="472.82" r="2.0" fill="#ff7f0e"/><circle cx="1095.43" cy="470.77" r="2.0" fill="#ff7f0e"/><circle cx="1124.91" cy="467.62" r="2.0" fill="#ff7f0e"/><circle cx="1154.39" cy="470.46" r="2.0" fill="#ff7f0e"/><circle cx="1183.87" cy="466.05" r="2.0" fill="#ff7f0e"/><circle cx="1213.35" cy="469.94" r="2.0" fill="#ff7f0e"/><circle cx="1261.81" cy="485.65" r="2.0" fill="#ff7f0e"/><polyline points="997.5,493.29 1036.47,493.29 1065.95,489.35 1095.43,469.98 1124.91,480.54 1154.39,466.05 1183.87,482.27 1213.35,472.78 1261.81,473.22" fill="none" stroke="#2ca02c" stroke-width="1.3" stroke-dasharray="4.8 2.1" stroke-linejoin="round"/><circle cx="997.5" cy="493.29" r="2.0" fill="#2ca02c"/><circle cx="1036.47" cy="493.29" r="2.0" fill="#2ca02c"/><circle cx="1065.95" cy="489.35" r="2.0" fill="#2ca02c"/><circle cx="1095.43" cy="469.98" r="2.0" fill="#2ca02c"/><circle cx="1124.91" cy="480.54" r="2.0" fill="#2ca02c"/><circle cx="1154.39" cy="466.05" r="2.0" fill="#2ca02c"/><circle cx="1183.87" cy="482.27" r="2.0" fill="#2ca02c"/><circle cx="1213.35" cy="472.78" r="2.0" fill="#2ca02c"/><circle cx="1261.81" cy="473.22" r="2.0" fill="#2ca02c"/><polyline points="997.5,480.21 1036.47,460.35 1065.95,428.25 1095.43,398.05 1124.91,368.25 1154.39,338.3 1183.87,312.3 1213.35,312.3 1261.81,312.3" fill="none" stroke="#444444" stroke-width="1.3" stroke-dasharray="1.3 2.2"/></g><path d="M997.5,308.35V496.42H1267" fill="none" stroke="#000" stroke-width="1.05"/><path d="M993.9,308.35H997.5M993.9,338.3H997.5M993.9,368.25H997.5M993.9,398.05H997.5M993.9,428.25H997.5M993.9,460.35H997.5M993.9,493.45H997.5M1036.47,496.42V500.02M1095.43,496.42V500.02M1154.39,496.42V500.02M1213.35,496.42V500.02" fill="none" stroke="#000" stroke-width="1"/><text x="990.9" y="311.75" text-anchor="end" font-size="9" textLength="5.34" lengthAdjust="spacingAndGlyphs">8</text><text x="990.9" y="341.7" text-anchor="end" font-size="9" textLength="5.34" lengthAdjust="spacingAndGlyphs">4</text><text x="990.9" y="371.65" text-anchor="end" font-size="9" textLength="5.34" lengthAdjust="spacingAndGlyphs">2</text><text x="990.9" y="401.45" text-anchor="end" font-size="9" textLength="5.34" lengthAdjust="spacingAndGlyphs">1</text><text x="990.9" y="431.65" text-anchor="end" font-size="9" textLength="13.36" lengthAdjust="spacingAndGlyphs">0.5</text><text x="990.9" y="463.75" text-anchor="end" font-size="9" textLength="18.70" lengthAdjust="spacingAndGlyphs">0.25</text><text x="990.9" y="496.85" text-anchor="end" font-size="9" textLength="5.34" lengthAdjust="spacingAndGlyphs">0</text><text x="1036.47" y="509.72" text-anchor="middle" font-size="9" textLength="18.70" lengthAdjust="spacingAndGlyphs">0.25</text><text x="1095.43" y="509.72" text-anchor="middle" font-size="9" textLength="5.34" lengthAdjust="spacingAndGlyphs">1</text><text x="1154.39" y="509.72" text-anchor="middle" font-size="9" textLength="5.34" lengthAdjust="spacingAndGlyphs">4</text><text x="1213.35" y="509.72" text-anchor="middle" font-size="9" textLength="10.69" lengthAdjust="spacingAndGlyphs">16</text><text x="1132" y="303.85" text-anchor="middle" font-size="10.6" textLength="76.90" lengthAdjust="spacingAndGlyphs">Random forest</text><text x="1131.5" y="516.85" text-anchor="middle" font-size="10" textLength="57.50" lengthAdjust="spacingAndGlyphs">Specified <tspan font-style="italic">ε</tspan></text><text transform="translate(973.1,403.15) rotate(-90)" text-anchor="middle" font-size="10.2" textLength="59.50" lengthAdjust="spacingAndGlyphs">Measured <tspan font-style="italic">ε</tspan></text><path d="M1005.1,321.25H1024.9" stroke="#1f77b4" stroke-width="1.3"/><circle cx="1015" cy="321.25" r="2.5" fill="#1f77b4"/><text x="1032.7" y="324.45" font-size="10" textLength="41.11" lengthAdjust="spacingAndGlyphs">ML-Audit</text><path d="M1005.1,335.28H1024.9" stroke="#ff7f0e" stroke-width="1.3" stroke-dasharray="4.8 2.1"/><circle cx="1015" cy="335.28" r="2.0" fill="#ff7f0e"/><text x="1032.7" y="338.48" font-size="10" textLength="37.60" lengthAdjust="spacingAndGlyphs">ClipBKD</text><path d="M1005.1,349.31H1024.9" stroke="#2ca02c" stroke-width="1.3" stroke-dasharray="4.8 2.1"/><circle cx="1015" cy="349.31" r="2.0" fill="#2ca02c"/><text x="1032.7" y="352.51" font-size="10" textLength="34.67" lengthAdjust="spacingAndGlyphs">Swap-X</text><path d="M1005.1,363.34H1024.9" stroke="#444444" stroke-width="1.3" stroke-dasharray="1.3 2.2"/><text x="1032.7" y="366.54" font-size="10" textLength="52.91" lengthAdjust="spacingAndGlyphs">Theoretical</text></g>
<g class="t" font-family='"Liberation Sans", sans-serif' fill="#000" text-rendering="geometricPrecision"><clipPath id="k20"><rect x="32.4" y="602.4" width="269.5" height="187.1"/></clipPath><g clip-path="url(#k20)"><polyline points="32.4,786.82 71.37,785.24 100.85,778.16 130.33,771.86 159.81,746.66 189.29,690.13 218.77,660.14 248.25,630.37 296.71,606.29" fill="none" stroke="#1f77b4" stroke-width="1.3" stroke-linejoin="round"/><circle cx="32.4" cy="786.82" r="2.5" fill="#1f77b4"/><circle cx="71.37" cy="785.24" r="2.5" fill="#1f77b4"/><circle cx="100.85" cy="778.16" r="2.5" fill="#1f77b4"/><circle cx="130.33" cy="771.86" r="2.5" fill="#1f77b4"/><circle cx="159.81" cy="746.66" r="2.5" fill="#1f77b4"/><circle cx="189.29" cy="690.13" r="2.5" fill="#1f77b4"/><circle cx="218.77" cy="660.14" r="2.5" fill="#1f77b4"/><circle cx="248.25" cy="630.37" r="2.5" fill="#1f77b4"/><circle cx="296.71" cy="606.29" r="2.5" fill="#1f77b4"/><polyline points="32.4,786.5 71.37,785.24 100.85,781.31 130.33,773.43 159.81,758.16 189.29,720.33 218.77,680.71 248.25,664.95 296.71,619.64" fill="none" stroke="#ff7f0e" stroke-width="1.3" stroke-dasharray="4.8 2.1" stroke-linejoin="round"/><circle cx="32.4" cy="786.5" r="2.0" fill="#ff7f0e"/><circle cx="71.37" cy="785.24" r="2.0" fill="#ff7f0e"/><circle cx="100.85" cy="781.31" r="2.0" fill="#ff7f0e"/><circle cx="130.33" cy="773.43" r="2.0" fill="#ff7f0e"/><circle cx="159.81" cy="758.16" r="2.0" fill="#ff7f0e"/><circle cx="189.29" cy="720.33" r="2.0" fill="#ff7f0e"/><circle cx="218.77" cy="680.71" r="2.0" fill="#ff7f0e"/><circle cx="248.25" cy="664.95" r="2.0" fill="#ff7f0e"/><circle cx="296.71" cy="619.64" r="2.0" fill="#ff7f0e"/><polyline points="32.4,786.82 71.37,784.77 100.85,784.46 130.33,775.48 159.81,764.46 189.29,709.83 218.77,676.34 248.25,645.25 296.71,606.29" fill="none" stroke="#2ca02c" stroke-width="1.3" stroke-dasharray="4.8 2.1" stroke-linejoin="round"/><circle cx="32.4" cy="786.82" r="2.0" fill="#2ca02c"/><circle cx="71.37" cy="784.77" r="2.0" fill="#2ca02c"/><circle cx="100.85" cy="784.46" r="2.0" fill="#2ca02c"/><circle cx="130.33" cy="775.48" r="2.0" fill="#2ca02c"/><circle cx="159.81" cy="764.46" r="2.0" fill="#2ca02c"/><circle cx="189.29" cy="709.83" r="2.0" fill="#2ca02c"/><circle cx="218.77" cy="676.34" r="2.0" fill="#2ca02c"/><circle cx="248.25" cy="645.25" r="2.0" fill="#2ca02c"/><circle cx="296.71" cy="606.29" r="2.0" fill="#2ca02c"/><polyline points="32.4,786.82 71.37,786.82 100.85,785.24 130.33,786.82 159.81,786.82 189.29,760.83 218.77,752.49 248.25,710.48 296.71,661.23" fill="none" stroke="#d62728" stroke-width="1.3" stroke-dasharray="4.8 2.1" stroke-linejoin="round"/><circle cx="32.4" cy="786.82" r="2.0" fill="#d62728"/><circle cx="71.37" cy="786.82" r="2.0" fill="#d62728"/><circle cx="100.85" cy="785.24" r="2.0" fill="#d62728"/><circle cx="130.33" cy="786.82" r="2.0" fill="#d62728"/><circle cx="159.81" cy="786.82" r="2.0" fill="#d62728"/><circle cx="189.29" cy="760.83" r="2.0" fill="#d62728"/><circle cx="218.77" cy="752.49" r="2.0" fill="#d62728"/><circle cx="248.25" cy="710.48" r="2.0" fill="#d62728"/><circle cx="296.71" cy="661.23" r="2.0" fill="#d62728"/><polyline points="32.4,773.86 71.37,753.4 100.85,722.3 130.33,692.1 159.81,662.3 189.29,632.35 218.77,606.3 248.25,606.3 296.71,606.3" fill="none" stroke="#444444" stroke-width="1.3" stroke-dasharray="1.3 2.2"/></g><path d="M32.4,602.4V789.5H301.9" fill="none" stroke="#000" stroke-width="1.05"/><path d="M28.8,602.4H32.4M28.8,632.35H32.4M28.8,662.3H32.4M28.8,692.1H32.4M28.8,722.3H32.4M28.8,753.4H32.4M28.8,787.5H32.4M71.37,789.5V793.1M130.33,789.5V793.1M189.29,789.5V793.1M248.25,789.5V793.1" fill="none" stroke="#000" stroke-width="1"/><text x="25.8" y="605.8" text-anchor="end" font-size="9" textLength="5.34" lengthAdjust="spacingAndGlyphs">8</text><text x="25.8" y="635.75" text-anchor="end" font-size="9" textLength="5.34" lengthAdjust="spacingAndGlyphs">4</text><text x="25.8" y="665.7" text-anchor="end" font-size="9" textLength="5.34" lengthAdjust="spacingAndGlyphs">2</text><text x="25.8" y="695.5" text-anchor="end" font-size="9" textLength="5.34" lengthAdjust="spacingAndGlyphs">1</text><text x="25.8" y="725.7" text-anchor="end" font-size="9" textLength="13.36" lengthAdjust="spacingAndGlyphs">0.5</text><text x="25.8" y="756.8" text-anchor="end" font-size="9" textLength="18.70" lengthAdjust="spacingAndGlyphs">0.25</text><text x="25.8" y="790.9" text-anchor="end" font-size="9" textLength="5.34" lengthAdjust="spacingAndGlyphs">0</text><text x="71.37" y="802.8" text-anchor="middle" font-size="9" textLength="18.70" lengthAdjust="spacingAndGlyphs">0.25</text><text x="130.33" y="802.8" text-anchor="middle" font-size="9" textLength="5.34" lengthAdjust="spacingAndGlyphs">1</text><text x="189.29" y="802.8" text-anchor="middle" font-size="9" textLength="5.34" lengthAdjust="spacingAndGlyphs">4</text><text x="248.25" y="802.8" text-anchor="middle" font-size="9" textLength="10.69" lengthAdjust="spacingAndGlyphs">16</text><text x="166.5" y="597.9" text-anchor="middle" font-size="10.6" textLength="122.90" lengthAdjust="spacingAndGlyphs">Logistic reg. (objective)</text><text x="166.4" y="810.9" text-anchor="middle" font-size="10" textLength="57.50" lengthAdjust="spacingAndGlyphs">Specified <tspan font-style="italic">ε</tspan></text><text transform="translate(8,697.2) rotate(-90)" text-anchor="middle" font-size="10.2" textLength="59.50" lengthAdjust="spacingAndGlyphs">Measured <tspan font-style="italic">ε</tspan></text><path d="M40,615.3H59.8" stroke="#1f77b4" stroke-width="1.3"/><circle cx="49.9" cy="615.3" r="2.5" fill="#1f77b4"/><text x="67.6" y="618.5" font-size="10" textLength="41.11" lengthAdjust="spacingAndGlyphs">ML-Audit</text><path d="M40,629.33H59.8" stroke="#ff7f0e" stroke-width="1.3" stroke-dasharray="4.8 2.1"/><circle cx="49.9" cy="629.33" r="2.0" fill="#ff7f0e"/><text x="67.6" y="632.53" font-size="10" textLength="37.60" lengthAdjust="spacingAndGlyphs">ClipBKD</text><path d="M40,643.36H59.8" stroke="#2ca02c" stroke-width="1.3" stroke-dasharray="4.8 2.1"/><circle cx="49.9" cy="643.36" r="2.0" fill="#2ca02c"/><text x="67.6" y="646.56" font-size="10" textLength="34.67" lengthAdjust="spacingAndGlyphs">Swap-X</text><path d="M40,657.39H59.8" stroke="#d62728" stroke-width="1.3" stroke-dasharray="4.8 2.1"/><circle cx="49.9" cy="657.39" r="2.0" fill="#d62728"/><text x="67.6" y="660.59" font-size="10" textLength="45.03" lengthAdjust="spacingAndGlyphs">Poisoning</text><path d="M40,671.42H59.8" stroke="#444444" stroke-width="1.3" stroke-dasharray="1.3 2.2"/><text x="67.6" y="674.62" font-size="10" textLength="52.91" lengthAdjust="spacingAndGlyphs">Theoretical</text></g>
<g class="t" font-family='"Liberation Sans", sans-serif' fill="#000" text-rendering="geometricPrecision"><clipPath id="k21"><rect x="353.4" y="602.4" width="269.5" height="187.1"/></clipPath><g clip-path="url(#k21)"><polyline points="353.4,785.24 392.37,782.57 421.85,772.96 451.33,759.26 480.81,726.46 510.29,685.31 539.77,654.45 569.25,624.46 617.71,605.85" fill="none" stroke="#1f77b4" stroke-width="1.3" stroke-linejoin="round"/><circle cx="353.4" cy="785.24" r="2.5" fill="#1f77b4"/><circle cx="392.37" cy="782.57" r="2.5" fill="#1f77b4"/><circle cx="421.85" cy="772.96" r="2.5" fill="#1f77b4"/><circle cx="451.33" cy="759.26" r="2.5" fill="#1f77b4"/><circle cx="480.81" cy="726.46" r="2.5" fill="#1f77b4"/><circle cx="510.29" cy="685.31" r="2.5" fill="#1f77b4"/><circle cx="539.77" cy="654.45" r="2.5" fill="#1f77b4"/><circle cx="569.25" cy="624.46" r="2.5" fill="#1f77b4"/><circle cx="617.71" cy="605.85" r="2.5" fill="#1f77b4"/><polyline points="353.4,785.72 392.37,782.09 421.85,775.01 451.33,760.36 480.81,732.15 510.29,699.76 539.77,668.24 569.25,634.31 617.71,607.38" fill="none" stroke="#ff7f0e" stroke-width="1.3" stroke-dasharray="4.8 2.1" stroke-linejoin="round"/><circle cx="353.4" cy="785.72" r="2.0" fill="#ff7f0e"/><circle cx="392.37" cy="782.09" r="2.0" fill="#ff7f0e"/><circle cx="421.85" cy="775.01" r="2.0" fill="#ff7f0e"/><circle cx="451.33" cy="760.36" r="2.0" fill="#ff7f0e"/><circle cx="480.81" cy="732.15" r="2.0" fill="#ff7f0e"/><circle cx="510.29" cy="699.76" r="2.0" fill="#ff7f0e"/><circle cx="539.77" cy="668.24" r="2.0" fill="#ff7f0e"/><circle cx="569.25" cy="634.31" r="2.0" fill="#ff7f0e"/><circle cx="617.71" cy="607.38" r="2.0" fill="#ff7f0e"/><polyline points="353.4,783.2 392.37,777.06 421.85,766.82 451.33,742.72 480.81,713.55 510.29,675.9 539.77,664.3 569.25,631.02 617.71,605.85" fill="none" stroke="#2ca02c" stroke-width="1.3" stroke-dasharray="4.8 2.1" stroke-linejoin="round"/><circle cx="353.4" cy="783.2" r="2.0" fill="#2ca02c"/><circle cx="392.37" cy="777.06" r="2.0" fill="#2ca02c"/><circle cx="421.85" cy="766.82" r="2.0" fill="#2ca02c"/><circle cx="451.33" cy="742.72" r="2.0" fill="#2ca02c"/><circle cx="480.81" cy="713.55" r="2.0" fill="#2ca02c"/><circle cx="510.29" cy="675.9" r="2.0" fill="#2ca02c"/><circle cx="539.77" cy="664.3" r="2.0" fill="#2ca02c"/><circle cx="569.25" cy="631.02" r="2.0" fill="#2ca02c"/><circle cx="617.71" cy="605.85" r="2.0" fill="#2ca02c"/><polyline points="353.4,787.29 392.37,783.98 421.85,777.69 451.33,769.5 480.81,749.81 510.29,716.39 539.77,682.46 569.25,675.24 617.71,626.21" fill="none" stroke="#d62728" stroke-width="1.3" stroke-dasharray="4.8 2.1" stroke-linejoin="round"/><circle cx="353.4" cy="787.29" r="2.0" fill="#d62728"/><circle cx="392.37" cy="783.98" r="2.0" fill="#d62728"/><circle cx="421.85" cy="777.69" r="2.0" fill="#d62728"/><circle cx="451.33" cy="769.5" r="2.0" fill="#d62728"/><circle cx="480.81" cy="749.81" r="2.0" fill="#d62728"/><circle cx="510.29" cy="716.39" r="2.0" fill="#d62728"/><circle cx="539.77" cy="682.46" r="2.0" fill="#d62728"/><circle cx="569.25" cy="675.24" r="2.0" fill="#d62728"/><circle cx="617.71" cy="626.21" r="2.0" fill="#d62728"/><polyline points="353.4,773.86 392.37,753.4 421.85,722.3 451.33,692.1 480.81,662.3 510.29,632.35 539.77,606.3 569.25,606.3 617.71,606.3" fill="none" stroke="#444444" stroke-width="1.3" stroke-dasharray="1.3 2.2"/></g><path d="M353.4,602.4V789.5H622.9" fill="none" stroke="#000" stroke-width="1.05"/><path d="M349.8,602.4H353.4M349.8,632.35H353.4M349.8,662.3H353.4M349.8,692.1H353.4M349.8,722.3H353.4M349.8,753.4H353.4M349.8,787.5H353.4M392.37,789.5V793.1M451.33,789.5V793.1M510.29,789.5V793.1M569.25,789.5V793.1" fill="none" stroke="#000" stroke-width="1"/><text x="346.8" y="605.8" text-anchor="end" font-size="9" textLength="5.34" lengthAdjust="spacingAndGlyphs">8</text><text x="346.8" y="635.75" text-anchor="end" font-size="9" textLength="5.34" lengthAdjust="spacingAndGlyphs">4</text><text x="346.8" y="665.7" text-anchor="end" font-size="9" textLength="5.34" lengthAdjust="spacingAndGlyphs">2</text><text x="346.8" y="695.5" text-anchor="end" font-size="9" textLength="5.34" lengthAdjust="spacingAndGlyphs">1</text><text x="346.8" y="725.7" text-anchor="end" font-size="9" textLength="13.36" lengthAdjust="spacingAndGlyphs">0.5</text><text x="346.8" y="756.8" text-anchor="end" font-size="9" textLength="18.70" lengthAdjust="spacingAndGlyphs">0.25</text><text x="346.8" y="790.9" text-anchor="end" font-size="9" textLength="5.34" lengthAdjust="spacingAndGlyphs">0</text><text x="392.37" y="802.8" text-anchor="middle" font-size="9" textLength="18.70" lengthAdjust="spacingAndGlyphs">0.25</text><text x="451.33" y="802.8" text-anchor="middle" font-size="9" textLength="5.34" lengthAdjust="spacingAndGlyphs">1</text><text x="510.29" y="802.8" text-anchor="middle" font-size="9" textLength="5.34" lengthAdjust="spacingAndGlyphs">4</text><text x="569.25" y="802.8" text-anchor="middle" font-size="9" textLength="10.69" lengthAdjust="spacingAndGlyphs">16</text><text x="488.3" y="597.9" text-anchor="middle" font-size="10.6" textLength="109.30" lengthAdjust="spacingAndGlyphs">Logistic reg. (output)</text><text x="487.4" y="810.9" text-anchor="middle" font-size="10" textLength="57.50" lengthAdjust="spacingAndGlyphs">Specified <tspan font-style="italic">ε</tspan></text><text transform="translate(329,697.2) rotate(-90)" text-anchor="middle" font-size="10.2" textLength="59.50" lengthAdjust="spacingAndGlyphs">Measured <tspan font-style="italic">ε</tspan></text><path d="M361,615.3H380.8" stroke="#1f77b4" stroke-width="1.3"/><circle cx="370.9" cy="615.3" r="2.5" fill="#1f77b4"/><text x="388.6" y="618.5" font-size="10" textLength="41.11" lengthAdjust="spacingAndGlyphs">ML-Audit</text><path d="M361,629.33H380.8" stroke="#ff7f0e" stroke-width="1.3" stroke-dasharray="4.8 2.1"/><circle cx="370.9" cy="629.33" r="2.0" fill="#ff7f0e"/><text x="388.6" y="632.53" font-size="10" textLength="37.60" lengthAdjust="spacingAndGlyphs">ClipBKD</text><path d="M361,643.36H380.8" stroke="#2ca02c" stroke-width="1.3" stroke-dasharray="4.8 2.1"/><circle cx="370.9" cy="643.36" r="2.0" fill="#2ca02c"/><text x="388.6" y="646.56" font-size="10" textLength="34.67" lengthAdjust="spacingAndGlyphs">Swap-X</text><path d="M361,657.39H380.8" stroke="#d62728" stroke-width="1.3" stroke-dasharray="4.8 2.1"/><circle cx="370.9" cy="657.39" r="2.0" fill="#d62728"/><text x="388.6" y="660.59" font-size="10" textLength="45.03" lengthAdjust="spacingAndGlyphs">Poisoning</text><path d="M361,671.42H380.8" stroke="#444444" stroke-width="1.3" stroke-dasharray="1.3 2.2"/><text x="388.6" y="674.62" font-size="10" textLength="52.91" lengthAdjust="spacingAndGlyphs">Theoretical</text></g>
<g class="t" font-family='"Liberation Sans", sans-serif' fill="#000" text-rendering="geometricPrecision"><clipPath id="k22"><rect x="675.4" y="602.4" width="269.5" height="187.1"/></clipPath><g clip-path="url(#k22)"><polyline points="675.4,786.82 714.37,774.22 743.85,753.75 773.33,727.34 802.81,690.13 832.29,656.63 861.77,643.72 891.25,628.18 939.71,628.18" fill="none" stroke="#1f77b4" stroke-width="1.3" stroke-linejoin="round"/><circle cx="675.4" cy="786.82" r="2.5" fill="#1f77b4"/><circle cx="714.37" cy="774.22" r="2.5" fill="#1f77b4"/><circle cx="743.85" cy="753.75" r="2.5" fill="#1f77b4"/><circle cx="773.33" cy="727.34" r="2.5" fill="#1f77b4"/><circle cx="802.81" cy="690.13" r="2.5" fill="#1f77b4"/><circle cx="832.29" cy="656.63" r="2.5" fill="#1f77b4"/><circle cx="861.77" cy="643.72" r="2.5" fill="#1f77b4"/><circle cx="891.25" cy="628.18" r="2.5" fill="#1f77b4"/><circle cx="939.71" cy="628.18" r="2.5" fill="#1f77b4"/><polyline points="675.4,786.82 714.37,784.93 743.85,783.2 773.33,780.99 802.81,774.69 832.29,760.83 861.77,730.18 891.25,698.23 939.71,649.19" fill="none" stroke="#ff7f0e" stroke-width="1.3" stroke-dasharray="4.8 2.1" stroke-linejoin="round"/><circle cx="675.4" cy="786.82" r="2.0" fill="#ff7f0e"/><circle cx="714.37" cy="784.93" r="2.0" fill="#ff7f0e"/><circle cx="743.85" cy="783.2" r="2.0" fill="#ff7f0e"/><circle cx="773.33" cy="780.99" r="2.0" fill="#ff7f0e"/><circle cx="802.81" cy="774.69" r="2.0" fill="#ff7f0e"/><circle cx="832.29" cy="760.83" r="2.0" fill="#ff7f0e"/><circle cx="861.77" cy="730.18" r="2.0" fill="#ff7f0e"/><circle cx="891.25" cy="698.23" r="2.0" fill="#ff7f0e"/><circle cx="939.71" cy="649.19" r="2.0" fill="#ff7f0e"/><polyline points="675.4,787.13 714.37,787.13 743.85,787.13 773.33,787.13 802.81,783.35 832.29,738.28 861.77,696.69 891.25,658.39 939.71,628.18" fill="none" stroke="#2ca02c" stroke-width="1.3" stroke-dasharray="4.8 2.1" stroke-linejoin="round"/><circle cx="675.4" cy="787.13" r="2.0" fill="#2ca02c"/><circle cx="714.37" cy="787.13" r="2.0" fill="#2ca02c"/><circle cx="743.85" cy="787.13" r="2.0" fill="#2ca02c"/><circle cx="773.33" cy="787.13" r="2.0" fill="#2ca02c"/><circle cx="802.81" cy="783.35" r="2.0" fill="#2ca02c"/><circle cx="832.29" cy="738.28" r="2.0" fill="#2ca02c"/><circle cx="861.77" cy="696.69" r="2.0" fill="#2ca02c"/><circle cx="891.25" cy="658.39" r="2.0" fill="#2ca02c"/><circle cx="939.71" cy="628.18" r="2.0" fill="#2ca02c"/><polyline points="675.4,773.86 714.37,753.4 743.85,722.3 773.33,692.1 802.81,662.3 832.29,632.35 861.77,606.3 891.25,606.3 939.71,606.3" fill="none" stroke="#444444" stroke-width="1.3" stroke-dasharray="1.3 2.2"/></g><path d="M675.4,602.4V789.5H944.9" fill="none" stroke="#000" stroke-width="1.05"/><path d="M671.8,602.4H675.4M671.8,632.35H675.4M671.8,662.3H675.4M671.8,692.1H675.4M671.8,722.3H675.4M671.8,753.4H675.4M671.8,787.5H675.4M714.37,789.5V793.1M773.33,789.5V793.1M832.29,789.5V793.1M891.25,789.5V793.1" fill="none" stroke="#000" stroke-width="1"/><text x="668.8" y="605.8" text-anchor="end" font-size="9" textLength="5.34" lengthAdjust="spacingAndGlyphs">8</text><text x="668.8" y="635.75" text-anchor="end" font-size="9" textLength="5.34" lengthAdjust="spacingAndGlyphs">4</text><text x="668.8" y="665.7" text-anchor="end" font-size="9" textLength="5.34" lengthAdjust="spacingAndGlyphs">2</text><text x="668.8" y="695.5" text-anchor="end" font-size="9" textLength="5.34" lengthAdjust="spacingAndGlyphs">1</text><text x="668.8" y="725.7" text-anchor="end" font-size="9" textLength="13.36" lengthAdjust="spacingAndGlyphs">0.5</text><text x="668.8" y="756.8" text-anchor="end" font-size="9" textLength="18.70" lengthAdjust="spacingAndGlyphs">0.25</text><text x="668.8" y="790.9" text-anchor="end" font-size="9" textLength="5.34" lengthAdjust="spacingAndGlyphs">0</text><text x="714.37" y="802.8" text-anchor="middle" font-size="9" textLength="18.70" lengthAdjust="spacingAndGlyphs">0.25</text><text x="773.33" y="802.8" text-anchor="middle" font-size="9" textLength="5.34" lengthAdjust="spacingAndGlyphs">1</text><text x="832.29" y="802.8" text-anchor="middle" font-size="9" textLength="5.34" lengthAdjust="spacingAndGlyphs">4</text><text x="891.25" y="802.8" text-anchor="middle" font-size="9" textLength="10.69" lengthAdjust="spacingAndGlyphs">16</text><text x="810.35" y="597.9" text-anchor="middle" font-size="11.6" textLength="70.50" lengthAdjust="spacingAndGlyphs">Naive Bayes</text><text x="809.4" y="810.9" text-anchor="middle" font-size="10" textLength="57.50" lengthAdjust="spacingAndGlyphs">Specified <tspan font-style="italic">ε</tspan></text><text transform="translate(651,697.2) rotate(-90)" text-anchor="middle" font-size="10.2" textLength="59.50" lengthAdjust="spacingAndGlyphs">Measured <tspan font-style="italic">ε</tspan></text><path d="M683,615.3H702.8" stroke="#1f77b4" stroke-width="1.3"/><circle cx="692.9" cy="615.3" r="2.5" fill="#1f77b4"/><text x="710.6" y="618.5" font-size="10" textLength="41.11" lengthAdjust="spacingAndGlyphs">ML-Audit</text><path d="M683,629.33H702.8" stroke="#ff7f0e" stroke-width="1.3" stroke-dasharray="4.8 2.1"/><circle cx="692.9" cy="629.33" r="2.0" fill="#ff7f0e"/><text x="710.6" y="632.53" font-size="10" textLength="37.60" lengthAdjust="spacingAndGlyphs">ClipBKD</text><path d="M683,643.36H702.8" stroke="#2ca02c" stroke-width="1.3" stroke-dasharray="4.8 2.1"/><circle cx="692.9" cy="643.36" r="2.0" fill="#2ca02c"/><text x="710.6" y="646.56" font-size="10" textLength="34.67" lengthAdjust="spacingAndGlyphs">Swap-X</text><path d="M683,657.39H702.8" stroke="#444444" stroke-width="1.3" stroke-dasharray="1.3 2.2"/><text x="710.6" y="660.59" font-size="10" textLength="52.91" lengthAdjust="spacingAndGlyphs">Theoretical</text></g>
<g class="t" font-family='"Liberation Sans", sans-serif' fill="#000" text-rendering="geometricPrecision"><clipPath id="k23"><rect x="997.5" y="602.4" width="269.5" height="187.1"/></clipPath><g clip-path="url(#k23)"><polyline points="997.5,784.93 1036.47,782.09 1065.95,765.09 1095.43,746.66 1124.91,710.51 1154.39,690.88 1183.87,688.26 1213.35,688.26 1261.81,688.26" fill="none" stroke="#1f77b4" stroke-width="1.3" stroke-linejoin="round"/><circle cx="997.5" cy="784.93" r="2.5" fill="#1f77b4"/><circle cx="1036.47" cy="782.09" r="2.5" fill="#1f77b4"/><circle cx="1065.95" cy="765.09" r="2.5" fill="#1f77b4"/><circle cx="1095.43" cy="746.66" r="2.5" fill="#1f77b4"/><circle cx="1124.91" cy="710.51" r="2.5" fill="#1f77b4"/><circle cx="1154.39" cy="690.88" r="2.5" fill="#1f77b4"/><circle cx="1183.87" cy="688.26" r="2.5" fill="#1f77b4"/><circle cx="1213.35" cy="688.26" r="2.5" fill="#1f77b4"/><circle cx="1261.81" cy="688.26" r="2.5" fill="#1f77b4"/><polyline points="997.5,787.13 1036.47,787.13 1065.95,787.13 1095.43,787.13 1124.91,787.13 1154.39,787.13 1183.87,787.13 1213.35,787.28 1261.81,787.28" fill="none" stroke="#ff7f0e" stroke-width="1.3" stroke-dasharray="4.8 2.1" stroke-linejoin="round"/><circle cx="997.5" cy="787.13" r="2.0" fill="#ff7f0e"/><circle cx="1036.47" cy="787.13" r="2.0" fill="#ff7f0e"/><circle cx="1065.95" cy="787.13" r="2.0" fill="#ff7f0e"/><circle cx="1095.43" cy="787.13" r="2.0" fill="#ff7f0e"/><circle cx="1124.91" cy="787.13" r="2.0" fill="#ff7f0e"/><circle cx="1154.39" cy="787.13" r="2.0" fill="#ff7f0e"/><circle cx="1183.87" cy="787.13" r="2.0" fill="#ff7f0e"/><circle cx="1213.35" cy="787.28" r="2.0" fill="#ff7f0e"/><circle cx="1261.81" cy="787.28" r="2.0" fill="#ff7f0e"/><polyline points="997.5,784.14 1036.47,778.16 1065.95,765.09 1095.43,768.71 1124.91,732.32 1154.39,724.25 1183.87,721.41 1213.35,724.25 1261.81,724.25" fill="none" stroke="#2ca02c" stroke-width="1.3" stroke-dasharray="4.8 2.1" stroke-linejoin="round"/><circle cx="997.5" cy="784.14" r="2.0" fill="#2ca02c"/><circle cx="1036.47" cy="778.16" r="2.0" fill="#2ca02c"/><circle cx="1065.95" cy="765.09" r="2.0" fill="#2ca02c"/><circle cx="1095.43" cy="768.71" r="2.0" fill="#2ca02c"/><circle cx="1124.91" cy="732.32" r="2.0" fill="#2ca02c"/><circle cx="1154.39" cy="724.25" r="2.0" fill="#2ca02c"/><circle cx="1183.87" cy="721.41" r="2.0" fill="#2ca02c"/><circle cx="1213.35" cy="724.25" r="2.0" fill="#2ca02c"/><circle cx="1261.81" cy="724.25" r="2.0" fill="#2ca02c"/><polyline points="997.5,773.86 1036.47,753.4 1065.95,722.3 1095.43,692.1 1124.91,662.3 1154.39,632.35 1183.87,606.3 1213.35,606.3 1261.81,606.3" fill="none" stroke="#444444" stroke-width="1.3" stroke-dasharray="1.3 2.2"/></g><path d="M997.5,602.4V789.5H1267" fill="none" stroke="#000" stroke-width="1.05"/><path d="M993.9,602.4H997.5M993.9,632.35H997.5M993.9,662.3H997.5M993.9,692.1H997.5M993.9,722.3H997.5M993.9,753.4H997.5M993.9,787.5H997.5M1036.47,789.5V793.1M1095.43,789.5V793.1M1154.39,789.5V793.1M1213.35,789.5V793.1" fill="none" stroke="#000" stroke-width="1"/><text x="990.9" y="605.8" text-anchor="end" font-size="9" textLength="5.34" lengthAdjust="spacingAndGlyphs">8</text><text x="990.9" y="635.75" text-anchor="end" font-size="9" textLength="5.34" lengthAdjust="spacingAndGlyphs">4</text><text x="990.9" y="665.7" text-anchor="end" font-size="9" textLength="5.34" lengthAdjust="spacingAndGlyphs">2</text><text x="990.9" y="695.5" text-anchor="end" font-size="9" textLength="5.34" lengthAdjust="spacingAndGlyphs">1</text><text x="990.9" y="725.7" text-anchor="end" font-size="9" textLength="13.36" lengthAdjust="spacingAndGlyphs">0.5</text><text x="990.9" y="756.8" text-anchor="end" font-size="9" textLength="18.70" lengthAdjust="spacingAndGlyphs">0.25</text><text x="990.9" y="790.9" text-anchor="end" font-size="9" textLength="5.34" lengthAdjust="spacingAndGlyphs">0</text><text x="1036.47" y="802.8" text-anchor="middle" font-size="9" textLength="18.70" lengthAdjust="spacingAndGlyphs">0.25</text><text x="1095.43" y="802.8" text-anchor="middle" font-size="9" textLength="5.34" lengthAdjust="spacingAndGlyphs">1</text><text x="1154.39" y="802.8" text-anchor="middle" font-size="9" textLength="5.34" lengthAdjust="spacingAndGlyphs">4</text><text x="1213.35" y="802.8" text-anchor="middle" font-size="9" textLength="10.69" lengthAdjust="spacingAndGlyphs">16</text><text x="1132" y="597.9" text-anchor="middle" font-size="10.6" textLength="76.90" lengthAdjust="spacingAndGlyphs">Random forest</text><text x="1131.5" y="810.9" text-anchor="middle" font-size="10" textLength="57.50" lengthAdjust="spacingAndGlyphs">Specified <tspan font-style="italic">ε</tspan></text><text transform="translate(973.1,697.2) rotate(-90)" text-anchor="middle" font-size="10.2" textLength="59.50" lengthAdjust="spacingAndGlyphs">Measured <tspan font-style="italic">ε</tspan></text><path d="M1005.1,615.3H1024.9" stroke="#1f77b4" stroke-width="1.3"/><circle cx="1015" cy="615.3" r="2.5" fill="#1f77b4"/><text x="1032.7" y="618.5" font-size="10" textLength="41.11" lengthAdjust="spacingAndGlyphs">ML-Audit</text><path d="M1005.1,629.33H1024.9" stroke="#ff7f0e" stroke-width="1.3" stroke-dasharray="4.8 2.1"/><circle cx="1015" cy="629.33" r="2.0" fill="#ff7f0e"/><text x="1032.7" y="632.53" font-size="10" textLength="37.60" lengthAdjust="spacingAndGlyphs">ClipBKD</text><path d="M1005.1,643.36H1024.9" stroke="#2ca02c" stroke-width="1.3" stroke-dasharray="4.8 2.1"/><circle cx="1015" cy="643.36" r="2.0" fill="#2ca02c"/><text x="1032.7" y="646.56" font-size="10" textLength="34.67" lengthAdjust="spacingAndGlyphs">Swap-X</text><path d="M1005.1,657.39H1024.9" stroke="#444444" stroke-width="1.3" stroke-dasharray="1.3 2.2"/><text x="1032.7" y="660.59" font-size="10" textLength="52.91" lengthAdjust="spacingAndGlyphs">Theoretical</text></g>
<g class="t" font-family='"Liberation Sans", sans-serif' fill="#000" text-rendering="geometricPrecision"><clipPath id="k30"><rect x="32.4" y="895.4" width="269.5" height="188.07"/></clipPath><g clip-path="url(#k30)"><polyline points="32.4,1080.29 71.37,1080.29 100.85,1079.03 130.33,1073.52 159.81,1062.02 189.29,1042.5 218.77,977.65 248.25,946.57 296.71,919.65" fill="none" stroke="#1f77b4" stroke-width="1.3" stroke-linejoin="round"/><circle cx="32.4" cy="1080.29" r="2.5" fill="#1f77b4"/><circle cx="71.37" cy="1080.29" r="2.5" fill="#1f77b4"/><circle cx="100.85" cy="1079.03" r="2.5" fill="#1f77b4"/><circle cx="130.33" cy="1073.52" r="2.5" fill="#1f77b4"/><circle cx="159.81" cy="1062.02" r="2.5" fill="#1f77b4"/><circle cx="189.29" cy="1042.5" r="2.5" fill="#1f77b4"/><circle cx="218.77" cy="977.65" r="2.5" fill="#1f77b4"/><circle cx="248.25" cy="946.57" r="2.5" fill="#1f77b4"/><circle cx="296.71" cy="919.65" r="2.5" fill="#1f77b4"/><polyline points="32.4,1080.29 71.37,1080.29 100.85,1080.29 130.33,1079.03 159.81,1078.24 189.29,1079.03 218.77,1059.66 248.25,1030.19 296.71,959.49" fill="none" stroke="#ff7f0e" stroke-width="1.3" stroke-dasharray="4.8 2.1" stroke-linejoin="round"/><circle cx="32.4" cy="1080.29" r="2.0" fill="#ff7f0e"/><circle cx="71.37" cy="1080.29" r="2.0" fill="#ff7f0e"/><circle cx="100.85" cy="1080.29" r="2.0" fill="#ff7f0e"/><circle cx="130.33" cy="1079.03" r="2.0" fill="#ff7f0e"/><circle cx="159.81" cy="1078.24" r="2.0" fill="#ff7f0e"/><circle cx="189.29" cy="1079.03" r="2.0" fill="#ff7f0e"/><circle cx="218.77" cy="1059.66" r="2.0" fill="#ff7f0e"/><circle cx="248.25" cy="1030.19" r="2.0" fill="#ff7f0e"/><circle cx="296.71" cy="959.49" r="2.0" fill="#ff7f0e"/><polyline points="32.4,1080.29 71.37,1080.61 100.85,1080.61 130.33,1079.03 159.81,1080.29 189.29,1080.61 218.77,1059.66 248.25,1021.43 296.71,942.19" fill="none" stroke="#2ca02c" stroke-width="1.3" stroke-dasharray="4.8 2.1" stroke-linejoin="round"/><circle cx="32.4" cy="1080.29" r="2.0" fill="#2ca02c"/><circle cx="71.37" cy="1080.61" r="2.0" fill="#2ca02c"/><circle cx="100.85" cy="1080.61" r="2.0" fill="#2ca02c"/><circle cx="130.33" cy="1079.03" r="2.0" fill="#2ca02c"/><circle cx="159.81" cy="1080.29" r="2.0" fill="#2ca02c"/><circle cx="189.29" cy="1080.61" r="2.0" fill="#2ca02c"/><circle cx="218.77" cy="1059.66" r="2.0" fill="#2ca02c"/><circle cx="248.25" cy="1021.43" r="2.0" fill="#2ca02c"/><circle cx="296.71" cy="942.19" r="2.0" fill="#2ca02c"/><polyline points="32.4,1067.14 71.37,1047.1 100.85,1016.2 130.33,985.1 159.81,955.3 189.29,925.35 218.77,899.3 248.25,899.3 296.71,899.3" fill="none" stroke="#444444" stroke-width="1.3" stroke-dasharray="1.3 2.2"/></g><path d="M32.4,895.4V1083.47H301.9" fill="none" stroke="#000" stroke-width="1.05"/><path d="M28.8,895.4H32.4M28.8,925.35H32.4M28.8,955.3H32.4M28.8,985.1H32.4M28.8,1016.2H32.4M28.8,1047.1H32.4M28.8,1080.5H32.4M71.37,1083.47V1087.07M130.33,1083.47V1087.07M189.29,1083.47V1087.07M248.25,1083.47V1087.07" fill="none" stroke="#000" stroke-width="1"/><text x="25.8" y="898.8" text-anchor="end" font-size="9" textLength="5.34" lengthAdjust="spacingAndGlyphs">8</text><text x="25.8" y="928.75" text-anchor="end" font-size="9" textLength="5.34" lengthAdjust="spacingAndGlyphs">4</text><text x="25.8" y="958.7" text-anchor="end" font-size="9" textLength="5.34" lengthAdjust="spacingAndGlyphs">2</text><text x="25.8" y="988.5" text-anchor="end" font-size="9" textLength="5.34" lengthAdjust="spacingAndGlyphs">1</text><text x="25.8" y="1019.6" text-anchor="end" font-size="9" textLength="13.36" lengthAdjust="spacingAndGlyphs">0.5</text><text x="25.8" y="1050.5" text-anchor="end" font-size="9" textLength="18.70" lengthAdjust="spacingAndGlyphs">0.25</text><text x="25.8" y="1083.9" text-anchor="end" font-size="9" textLength="5.34" lengthAdjust="spacingAndGlyphs">0</text><text x="71.37" y="1096.77" text-anchor="middle" font-size="9" textLength="18.70" lengthAdjust="spacingAndGlyphs">0.25</text><text x="130.33" y="1096.77" text-anchor="middle" font-size="9" textLength="5.34" lengthAdjust="spacingAndGlyphs">1</text><text x="189.29" y="1096.77" text-anchor="middle" font-size="9" textLength="5.34" lengthAdjust="spacingAndGlyphs">4</text><text x="248.25" y="1096.77" text-anchor="middle" font-size="9" textLength="10.69" lengthAdjust="spacingAndGlyphs">16</text><text x="166.5" y="890.9" text-anchor="middle" font-size="10.6" textLength="122.90" lengthAdjust="spacingAndGlyphs">Logistic reg. (objective)</text><text x="166.4" y="1103.9" text-anchor="middle" font-size="10" textLength="57.50" lengthAdjust="spacingAndGlyphs">Specified <tspan font-style="italic">ε</tspan></text><text transform="translate(8,990.2) rotate(-90)" text-anchor="middle" font-size="10.2" textLength="59.50" lengthAdjust="spacingAndGlyphs">Measured <tspan font-style="italic">ε</tspan></text><path d="M40,908.3H59.8" stroke="#1f77b4" stroke-width="1.3"/><circle cx="49.9" cy="908.3" r="2.5" fill="#1f77b4"/><text x="67.6" y="911.5" font-size="10" textLength="41.11" lengthAdjust="spacingAndGlyphs">ML-Audit</text><path d="M40,922.33H59.8" stroke="#ff7f0e" stroke-width="1.3" stroke-dasharray="4.8 2.1"/><circle cx="49.9" cy="922.33" r="2.0" fill="#ff7f0e"/><text x="67.6" y="925.53" font-size="10" textLength="37.60" lengthAdjust="spacingAndGlyphs">ClipBKD</text><path d="M40,936.36H59.8" stroke="#2ca02c" stroke-width="1.3" stroke-dasharray="4.8 2.1"/><circle cx="49.9" cy="936.36" r="2.0" fill="#2ca02c"/><text x="67.6" y="939.56" font-size="10" textLength="34.67" lengthAdjust="spacingAndGlyphs">Swap-X</text><path d="M40,950.39H59.8" stroke="#d62728" stroke-width="1.3" stroke-dasharray="4.8 2.1"/><circle cx="49.9" cy="950.39" r="2.0" fill="#d62728"/><text x="67.6" y="953.59" font-size="10" textLength="45.03" lengthAdjust="spacingAndGlyphs">Poisoning</text><path d="M40,964.42H59.8" stroke="#444444" stroke-width="1.3" stroke-dasharray="1.3 2.2"/><text x="67.6" y="967.62" font-size="10" textLength="52.91" lengthAdjust="spacingAndGlyphs">Theoretical</text></g>
<g class="t" font-family='"Liberation Sans", sans-serif' fill="#000" text-rendering="geometricPrecision"><clipPath id="k31"><rect x="353.4" y="895.4" width="269.5" height="188.07"/></clipPath><g clip-path="url(#k31)"><polyline points="353.4,1080.29 392.37,1080.29 421.85,1079.03 451.33,1073.83 480.81,1060.61 510.29,1045.17 539.77,996.26 569.25,959.7 617.71,913.74" fill="none" stroke="#1f77b4" stroke-width="1.3" stroke-linejoin="round"/><circle cx="353.4" cy="1080.29" r="2.5" fill="#1f77b4"/><circle cx="392.37" cy="1080.29" r="2.5" fill="#1f77b4"/><circle cx="421.85" cy="1079.03" r="2.5" fill="#1f77b4"/><circle cx="451.33" cy="1073.83" r="2.5" fill="#1f77b4"/><circle cx="480.81" cy="1060.61" r="2.5" fill="#1f77b4"/><circle cx="510.29" cy="1045.17" r="2.5" fill="#1f77b4"/><circle cx="539.77" cy="996.26" r="2.5" fill="#1f77b4"/><circle cx="569.25" cy="959.7" r="2.5" fill="#1f77b4"/><circle cx="617.71" cy="913.74" r="2.5" fill="#1f77b4"/><polyline points="353.4,1080.29 392.37,1080.29 421.85,1079.82 451.33,1077.46 480.81,1072.26 510.29,1071.63 539.77,1048.64 569.25,1015.96 617.71,959.49" fill="none" stroke="#ff7f0e" stroke-width="1.3" stroke-dasharray="4.8 2.1" stroke-linejoin="round"/><circle cx="353.4" cy="1080.29" r="2.0" fill="#ff7f0e"/><circle cx="392.37" cy="1080.29" r="2.0" fill="#ff7f0e"/><circle cx="421.85" cy="1079.82" r="2.0" fill="#ff7f0e"/><circle cx="451.33" cy="1077.46" r="2.0" fill="#ff7f0e"/><circle cx="480.81" cy="1072.26" r="2.0" fill="#ff7f0e"/><circle cx="510.29" cy="1071.63" r="2.0" fill="#ff7f0e"/><circle cx="539.77" cy="1048.64" r="2.0" fill="#ff7f0e"/><circle cx="569.25" cy="1015.96" r="2.0" fill="#ff7f0e"/><circle cx="617.71" cy="959.49" r="2.0" fill="#ff7f0e"/><polyline points="353.4,1080.29 392.37,1080.61 421.85,1080.29 451.33,1071.16 480.81,1065.33 510.29,1057.77 539.77,1017.06 569.25,1002.83 617.71,947.66" fill="none" stroke="#2ca02c" stroke-width="1.3" stroke-dasharray="4.8 2.1" stroke-linejoin="round"/><circle cx="353.4" cy="1080.29" r="2.0" fill="#2ca02c"/><circle cx="392.37" cy="1080.61" r="2.0" fill="#2ca02c"/><circle cx="421.85" cy="1080.29" r="2.0" fill="#2ca02c"/><circle cx="451.33" cy="1071.16" r="2.0" fill="#2ca02c"/><circle cx="480.81" cy="1065.33" r="2.0" fill="#2ca02c"/><circle cx="510.29" cy="1057.77" r="2.0" fill="#2ca02c"/><circle cx="539.77" cy="1017.06" r="2.0" fill="#2ca02c"/><circle cx="569.25" cy="1002.83" r="2.0" fill="#2ca02c"/><circle cx="617.71" cy="947.66" r="2.0" fill="#2ca02c"/><polyline points="353.4,1067.14 392.37,1047.1 421.85,1016.2 451.33,985.1 480.81,955.3 510.29,925.35 539.77,899.3 569.25,899.3 617.71,899.3" fill="none" stroke="#444444" stroke-width="1.3" stroke-dasharray="1.3 2.2"/></g><path d="M353.4,895.4V1083.47H622.9" fill="none" stroke="#000" stroke-width="1.05"/><path d="M349.8,895.4H353.4M349.8,925.35H353.4M349.8,955.3H353.4M349.8,985.1H353.4M349.8,1016.2H353.4M349.8,1047.1H353.4M349.8,1080.5H353.4M392.37,1083.47V1087.07M451.33,1083.47V1087.07M510.29,1083.47V1087.07M569.25,1083.47V1087.07" fill="none" stroke="#000" stroke-width="1"/><text x="346.8" y="898.8" text-anchor="end" font-size="9" textLength="5.34" lengthAdjust="spacingAndGlyphs">8</text><text x="346.8" y="928.75" text-anchor="end" font-size="9" textLength="5.34" lengthAdjust="spacingAndGlyphs">4</text><text x="346.8" y="958.7" text-anchor="end" font-size="9" textLength="5.34" lengthAdjust="spacingAndGlyphs">2</text><text x="346.8" y="988.5" text-anchor="end" font-size="9" textLength="5.34" lengthAdjust="spacingAndGlyphs">1</text><text x="346.8" y="1019.6" text-anchor="end" font-size="9" textLength="13.36" lengthAdjust="spacingAndGlyphs">0.5</text><text x="346.8" y="1050.5" text-anchor="end" font-size="9" textLength="18.70" lengthAdjust="spacingAndGlyphs">0.25</text><text x="346.8" y="1083.9" text-anchor="end" font-size="9" textLength="5.34" lengthAdjust="spacingAndGlyphs">0</text><text x="392.37" y="1096.77" text-anchor="middle" font-size="9" textLength="18.70" lengthAdjust="spacingAndGlyphs">0.25</text><text x="451.33" y="1096.77" text-anchor="middle" font-size="9" textLength="5.34" lengthAdjust="spacingAndGlyphs">1</text><text x="510.29" y="1096.77" text-anchor="middle" font-size="9" textLength="5.34" lengthAdjust="spacingAndGlyphs">4</text><text x="569.25" y="1096.77" text-anchor="middle" font-size="9" textLength="10.69" lengthAdjust="spacingAndGlyphs">16</text><text x="488.3" y="890.9" text-anchor="middle" font-size="10.6" textLength="109.30" lengthAdjust="spacingAndGlyphs">Logistic reg. (output)</text><text x="487.4" y="1103.9" text-anchor="middle" font-size="10" textLength="57.50" lengthAdjust="spacingAndGlyphs">Specified <tspan font-style="italic">ε</tspan></text><text transform="translate(329,990.2) rotate(-90)" text-anchor="middle" font-size="10.2" textLength="59.50" lengthAdjust="spacingAndGlyphs">Measured <tspan font-style="italic">ε</tspan></text><path d="M361,908.3H380.8" stroke="#1f77b4" stroke-width="1.3"/><circle cx="370.9" cy="908.3" r="2.5" fill="#1f77b4"/><text x="388.6" y="911.5" font-size="10" textLength="41.11" lengthAdjust="spacingAndGlyphs">ML-Audit</text><path d="M361,922.33H380.8" stroke="#ff7f0e" stroke-width="1.3" stroke-dasharray="4.8 2.1"/><circle cx="370.9" cy="922.33" r="2.0" fill="#ff7f0e"/><text x="388.6" y="925.53" font-size="10" textLength="37.60" lengthAdjust="spacingAndGlyphs">ClipBKD</text><path d="M361,936.36H380.8" stroke="#2ca02c" stroke-width="1.3" stroke-dasharray="4.8 2.1"/><circle cx="370.9" cy="936.36" r="2.0" fill="#2ca02c"/><text x="388.6" y="939.56" font-size="10" textLength="34.67" lengthAdjust="spacingAndGlyphs">Swap-X</text><path d="M361,950.39H380.8" stroke="#d62728" stroke-width="1.3" stroke-dasharray="4.8 2.1"/><circle cx="370.9" cy="950.39" r="2.0" fill="#d62728"/><text x="388.6" y="953.59" font-size="10" textLength="45.03" lengthAdjust="spacingAndGlyphs">Poisoning</text><path d="M361,964.42H380.8" stroke="#444444" stroke-width="1.3" stroke-dasharray="1.3 2.2"/><text x="388.6" y="967.62" font-size="10" textLength="52.91" lengthAdjust="spacingAndGlyphs">Theoretical</text></g>
<g class="t" font-family='"Liberation Sans", sans-serif' fill="#000" text-rendering="geometricPrecision"><clipPath id="k32"><rect x="675.4" y="895.4" width="269.5" height="188.07"/></clipPath><g clip-path="url(#k32)"><polyline points="675.4,1080.29 714.37,1073.2 743.85,1070.69 773.33,1047.85 802.81,1001.73 832.29,958.39 861.77,944.16 891.25,921.83 939.71,922.49" fill="none" stroke="#1f77b4" stroke-width="1.3" stroke-linejoin="round"/><circle cx="675.4" cy="1080.29" r="2.5" fill="#1f77b4"/><circle cx="714.37" cy="1073.2" r="2.5" fill="#1f77b4"/><circle cx="743.85" cy="1070.69" r="2.5" fill="#1f77b4"/><circle cx="773.33" cy="1047.85" r="2.5" fill="#1f77b4"/><circle cx="802.81" cy="1001.73" r="2.5" fill="#1f77b4"/><circle cx="832.29" cy="958.39" r="2.5" fill="#1f77b4"/><circle cx="861.77" cy="944.16" r="2.5" fill="#1f77b4"/><circle cx="891.25" cy="921.83" r="2.5" fill="#1f77b4"/><circle cx="939.71" cy="922.49" r="2.5" fill="#1f77b4"/><polyline points="675.4,1080.29 714.37,1080.29 743.85,1080.29 773.33,1080.29 802.81,1080.29 832.29,1080.29 861.77,1080.29 891.25,1080.54 939.71,1072.87" fill="none" stroke="#ff7f0e" stroke-width="1.3" stroke-dasharray="4.8 2.1" stroke-linejoin="round"/><circle cx="675.4" cy="1080.29" r="2.0" fill="#ff7f0e"/><circle cx="714.37" cy="1080.29" r="2.0" fill="#ff7f0e"/><circle cx="743.85" cy="1080.29" r="2.0" fill="#ff7f0e"/><circle cx="773.33" cy="1080.29" r="2.0" fill="#ff7f0e"/><circle cx="802.81" cy="1080.29" r="2.0" fill="#ff7f0e"/><circle cx="832.29" cy="1080.29" r="2.0" fill="#ff7f0e"/><circle cx="861.77" cy="1080.29" r="2.0" fill="#ff7f0e"/><circle cx="891.25" cy="1080.54" r="2.0" fill="#ff7f0e"/><circle cx="939.71" cy="1072.87" r="2.0" fill="#ff7f0e"/><polyline points="675.4,1080.29 714.37,1080.29 743.85,1080.29 773.33,1080.29 802.81,1080.29 832.29,1080.29 861.77,1080.29 891.25,1080.54 939.71,988.6" fill="none" stroke="#2ca02c" stroke-width="1.3" stroke-dasharray="4.8 2.1" stroke-linejoin="round"/><circle cx="675.4" cy="1080.29" r="2.0" fill="#2ca02c"/><circle cx="714.37" cy="1080.29" r="2.0" fill="#2ca02c"/><circle cx="743.85" cy="1080.29" r="2.0" fill="#2ca02c"/><circle cx="773.33" cy="1080.29" r="2.0" fill="#2ca02c"/><circle cx="802.81" cy="1080.29" r="2.0" fill="#2ca02c"/><circle cx="832.29" cy="1080.29" r="2.0" fill="#2ca02c"/><circle cx="861.77" cy="1080.29" r="2.0" fill="#2ca02c"/><circle cx="891.25" cy="1080.54" r="2.0" fill="#2ca02c"/><circle cx="939.71" cy="988.6" r="2.0" fill="#2ca02c"/><polyline points="675.4,1067.14 714.37,1047.1 743.85,1016.2 773.33,985.1 802.81,955.3 832.29,925.35 861.77,899.3 891.25,899.3 939.71,899.3" fill="none" stroke="#444444" stroke-width="1.3" stroke-dasharray="1.3 2.2"/></g><path d="M675.4,895.4V1083.47H944.9" fill="none" stroke="#000" stroke-width="1.05"/><path d="M671.8,895.4H675.4M671.8,925.35H675.4M671.8,955.3H675.4M671.8,985.1H675.4M671.8,1016.2H675.4M671.8,1047.1H675.4M671.8,1080.5H675.4M714.37,1083.47V1087.07M773.33,1083.47V1087.07M832.29,1083.47V1087.07M891.25,1083.47V1087.07" fill="none" stroke="#000" stroke-width="1"/><text x="668.8" y="898.8" text-anchor="end" font-size="9" textLength="5.34" lengthAdjust="spacingAndGlyphs">8</text><text x="668.8" y="928.75" text-anchor="end" font-size="9" textLength="5.34" lengthAdjust="spacingAndGlyphs">4</text><text x="668.8" y="958.7" text-anchor="end" font-size="9" textLength="5.34" lengthAdjust="spacingAndGlyphs">2</text><text x="668.8" y="988.5" text-anchor="end" font-size="9" textLength="5.34" lengthAdjust="spacingAndGlyphs">1</text><text x="668.8" y="1019.6" text-anchor="end" font-size="9" textLength="13.36" lengthAdjust="spacingAndGlyphs">0.5</text><text x="668.8" y="1050.5" text-anchor="end" font-size="9" textLength="18.70" lengthAdjust="spacingAndGlyphs">0.25</text><text x="668.8" y="1083.9" text-anchor="end" font-size="9" textLength="5.34" lengthAdjust="spacingAndGlyphs">0</text><text x="714.37" y="1096.77" text-anchor="middle" font-size="9" textLength="18.70" lengthAdjust="spacingAndGlyphs">0.25</text><text x="773.33" y="1096.77" text-anchor="middle" font-size="9" textLength="5.34" lengthAdjust="spacingAndGlyphs">1</text><text x="832.29" y="1096.77" text-anchor="middle" font-size="9" textLength="5.34" lengthAdjust="spacingAndGlyphs">4</text><text x="891.25" y="1096.77" text-anchor="middle" font-size="9" textLength="10.69" lengthAdjust="spacingAndGlyphs">16</text><text x="810.35" y="890.9" text-anchor="middle" font-size="11.6" textLength="70.50" lengthAdjust="spacingAndGlyphs">Naive Bayes</text><text x="809.4" y="1103.9" text-anchor="middle" font-size="10" textLength="57.50" lengthAdjust="spacingAndGlyphs">Specified <tspan font-style="italic">ε</tspan></text><text transform="translate(651,990.2) rotate(-90)" text-anchor="middle" font-size="10.2" textLength="59.50" lengthAdjust="spacingAndGlyphs">Measured <tspan font-style="italic">ε</tspan></text><path d="M683,908.3H702.8" stroke="#1f77b4" stroke-width="1.3"/><circle cx="692.9" cy="908.3" r="2.5" fill="#1f77b4"/><text x="710.6" y="911.5" font-size="10" textLength="41.11" lengthAdjust="spacingAndGlyphs">ML-Audit</text><path d="M683,922.33H702.8" stroke="#ff7f0e" stroke-width="1.3" stroke-dasharray="4.8 2.1"/><circle cx="692.9" cy="922.33" r="2.0" fill="#ff7f0e"/><text x="710.6" y="925.53" font-size="10" textLength="37.60" lengthAdjust="spacingAndGlyphs">ClipBKD</text><path d="M683,936.36H702.8" stroke="#2ca02c" stroke-width="1.3" stroke-dasharray="4.8 2.1"/><circle cx="692.9" cy="936.36" r="2.0" fill="#2ca02c"/><text x="710.6" y="939.56" font-size="10" textLength="34.67" lengthAdjust="spacingAndGlyphs">Swap-X</text><path d="M683,950.39H702.8" stroke="#444444" stroke-width="1.3" stroke-dasharray="1.3 2.2"/><text x="710.6" y="953.59" font-size="10" textLength="52.91" lengthAdjust="spacingAndGlyphs">Theoretical</text></g>
<g class="t" font-family='"Liberation Sans", sans-serif' fill="#000" text-rendering="geometricPrecision"><clipPath id="k33"><rect x="997.5" y="895.4" width="269.5" height="188.07"/></clipPath><g clip-path="url(#k33)"><polyline points="997.5,1071.16 1036.47,1057.46 1065.95,1044.39 1095.43,1004.16 1124.91,982.13 1154.39,963.59 1183.87,965.34 1213.35,964.25 1261.81,960.54" fill="none" stroke="#1f77b4" stroke-width="1.3" stroke-linejoin="round"/><circle cx="997.5" cy="1071.16" r="2.5" fill="#1f77b4"/><circle cx="1036.47" cy="1057.46" r="2.5" fill="#1f77b4"/><circle cx="1065.95" cy="1044.39" r="2.5" fill="#1f77b4"/><circle cx="1095.43" cy="1004.16" r="2.5" fill="#1f77b4"/><circle cx="1124.91" cy="982.13" r="2.5" fill="#1f77b4"/><circle cx="1154.39" cy="963.59" r="2.5" fill="#1f77b4"/><circle cx="1183.87" cy="965.34" r="2.5" fill="#1f77b4"/><circle cx="1213.35" cy="964.25" r="2.5" fill="#1f77b4"/><circle cx="1261.81" cy="960.54" r="2.5" fill="#1f77b4"/><polyline points="997.5,1080.29 1036.47,1080.29 1065.95,1080.29 1095.43,1080.29 1124.91,1080.29 1154.39,1080.29 1183.87,1080.29 1213.35,1080.94 1261.81,1080.94" fill="none" stroke="#ff7f0e" stroke-width="1.3" stroke-dasharray="4.8 2.1" stroke-linejoin="round"/><circle cx="997.5" cy="1080.29" r="2.0" fill="#ff7f0e"/><circle cx="1036.47" cy="1080.29" r="2.0" fill="#ff7f0e"/><circle cx="1065.95" cy="1080.29" r="2.0" fill="#ff7f0e"/><circle cx="1095.43" cy="1080.29" r="2.0" fill="#ff7f0e"/><circle cx="1124.91" cy="1080.29" r="2.0" fill="#ff7f0e"/><circle cx="1154.39" cy="1080.29" r="2.0" fill="#ff7f0e"/><circle cx="1183.87" cy="1080.29" r="2.0" fill="#ff7f0e"/><circle cx="1213.35" cy="1080.94" r="2.0" fill="#ff7f0e"/><circle cx="1261.81" cy="1080.94" r="2.0" fill="#ff7f0e"/><polyline points="997.5,1080.29 1036.47,1080.29 1065.95,1066.91 1095.43,1062.81 1124.91,1050.21 1154.39,1046.75 1183.87,1043.28 1213.35,1034.48 1261.81,1048.22" fill="none" stroke="#2ca02c" stroke-width="1.3" stroke-dasharray="4.8 2.1" stroke-linejoin="round"/><circle cx="997.5" cy="1080.29" r="2.0" fill="#2ca02c"/><circle cx="1036.47" cy="1080.29" r="2.0" fill="#2ca02c"/><circle cx="1065.95" cy="1066.91" r="2.0" fill="#2ca02c"/><circle cx="1095.43" cy="1062.81" r="2.0" fill="#2ca02c"/><circle cx="1124.91" cy="1050.21" r="2.0" fill="#2ca02c"/><circle cx="1154.39" cy="1046.75" r="2.0" fill="#2ca02c"/><circle cx="1183.87" cy="1043.28" r="2.0" fill="#2ca02c"/><circle cx="1213.35" cy="1034.48" r="2.0" fill="#2ca02c"/><circle cx="1261.81" cy="1048.22" r="2.0" fill="#2ca02c"/><polyline points="997.5,1067.14 1036.47,1047.1 1065.95,1016.2 1095.43,985.1 1124.91,955.3 1154.39,925.35 1183.87,899.3 1213.35,899.3 1261.81,899.3" fill="none" stroke="#444444" stroke-width="1.3" stroke-dasharray="1.3 2.2"/></g><path d="M997.5,895.4V1083.47H1267" fill="none" stroke="#000" stroke-width="1.05"/><path d="M993.9,895.4H997.5M993.9,925.35H997.5M993.9,955.3H997.5M993.9,985.1H997.5M993.9,1016.2H997.5M993.9,1047.1H997.5M993.9,1080.5H997.5M1036.47,1083.47V1087.07M1095.43,1083.47V1087.07M1154.39,1083.47V1087.07M1213.35,1083.47V1087.07" fill="none" stroke="#000" stroke-width="1"/><text x="990.9" y="898.8" text-anchor="end" font-size="9" textLength="5.34" lengthAdjust="spacingAndGlyphs">8</text><text x="990.9" y="928.75" text-anchor="end" font-size="9" textLength="5.34" lengthAdjust="spacingAndGlyphs">4</text><text x="990.9" y="958.7" text-anchor="end" font-size="9" textLength="5.34" lengthAdjust="spacingAndGlyphs">2</text><text x="990.9" y="988.5" text-anchor="end" font-size="9" textLength="5.34" lengthAdjust="spacingAndGlyphs">1</text><text x="990.9" y="1019.6" text-anchor="end" font-size="9" textLength="13.36" lengthAdjust="spacingAndGlyphs">0.5</text><text x="990.9" y="1050.5" text-anchor="end" font-size="9" textLength="18.70" lengthAdjust="spacingAndGlyphs">0.25</text><text x="990.9" y="1083.9" text-anchor="end" font-size="9" textLength="5.34" lengthAdjust="spacingAndGlyphs">0</text><text x="1036.47" y="1096.77" text-anchor="middle" font-size="9" textLength="18.70" lengthAdjust="spacingAndGlyphs">0.25</text><text x="1095.43" y="1096.77" text-anchor="middle" font-size="9" textLength="5.34" lengthAdjust="spacingAndGlyphs">1</text><text x="1154.39" y="1096.77" text-anchor="middle" font-size="9" textLength="5.34" lengthAdjust="spacingAndGlyphs">4</text><text x="1213.35" y="1096.77" text-anchor="middle" font-size="9" textLength="10.69" lengthAdjust="spacingAndGlyphs">16</text><text x="1132" y="890.9" text-anchor="middle" font-size="10.6" textLength="76.90" lengthAdjust="spacingAndGlyphs">Random forest</text><text x="1131.5" y="1103.9" text-anchor="middle" font-size="10" textLength="57.50" lengthAdjust="spacingAndGlyphs">Specified <tspan font-style="italic">ε</tspan></text><text transform="translate(973.1,990.2) rotate(-90)" text-anchor="middle" font-size="10.2" textLength="59.50" lengthAdjust="spacingAndGlyphs">Measured <tspan font-style="italic">ε</tspan></text><path d="M1005.1,908.3H1024.9" stroke="#1f77b4" stroke-width="1.3"/><circle cx="1015" cy="908.3" r="2.5" fill="#1f77b4"/><text x="1032.7" y="911.5" font-size="10" textLength="41.11" lengthAdjust="spacingAndGlyphs">ML-Audit</text><path d="M1005.1,922.33H1024.9" stroke="#ff7f0e" stroke-width="1.3" stroke-dasharray="4.8 2.1"/><circle cx="1015" cy="922.33" r="2.0" fill="#ff7f0e"/><text x="1032.7" y="925.53" font-size="10" textLength="37.60" lengthAdjust="spacingAndGlyphs">ClipBKD</text><path d="M1005.1,936.36H1024.9" stroke="#2ca02c" stroke-width="1.3" stroke-dasharray="4.8 2.1"/><circle cx="1015" cy="936.36" r="2.0" fill="#2ca02c"/><text x="1032.7" y="939.56" font-size="10" textLength="34.67" lengthAdjust="spacingAndGlyphs">Swap-X</text><path d="M1005.1,950.39H1024.9" stroke="#444444" stroke-width="1.3" stroke-dasharray="1.3 2.2"/><text x="1032.7" y="953.59" font-size="10" textLength="52.91" lengthAdjust="spacingAndGlyphs">Theoretical</text></g>
<g class="t" font-family='"Liberation Sans", sans-serif' fill="#000" text-rendering="geometricPrecision"><clipPath id="k40"><rect x="32.4" y="1189.4" width="269.5" height="188.07"/></clipPath><g clip-path="url(#k40)"><polyline points="32.4,1373.5 71.37,1370.2 100.85,1366.42 130.33,1349.09 159.81,1312.81 189.29,1273.4 218.77,1240.35 248.25,1207.52 296.71,1193.29" fill="none" stroke="#1f77b4" stroke-width="1.3" stroke-linejoin="round"/><circle cx="32.4" cy="1373.5" r="2.5" fill="#1f77b4"/><circle cx="71.37" cy="1370.2" r="2.5" fill="#1f77b4"/><circle cx="100.85" cy="1366.42" r="2.5" fill="#1f77b4"/><circle cx="130.33" cy="1349.09" r="2.5" fill="#1f77b4"/><circle cx="159.81" cy="1312.81" r="2.5" fill="#1f77b4"/><circle cx="189.29" cy="1273.4" r="2.5" fill="#1f77b4"/><circle cx="218.77" cy="1240.35" r="2.5" fill="#1f77b4"/><circle cx="248.25" cy="1207.52" r="2.5" fill="#1f77b4"/><circle cx="296.71" cy="1193.29" r="2.5" fill="#1f77b4"/><polyline points="32.4,1374.29 71.37,1373.82 100.85,1370.67 130.33,1370.2 159.81,1351.77 189.29,1326.82 218.77,1285.23 248.25,1250.42 296.71,1202.26" fill="none" stroke="#ff7f0e" stroke-width="1.3" stroke-dasharray="4.8 2.1" stroke-linejoin="round"/><circle cx="32.4" cy="1374.29" r="2.0" fill="#ff7f0e"/><circle cx="71.37" cy="1373.82" r="2.0" fill="#ff7f0e"/><circle cx="100.85" cy="1370.67" r="2.0" fill="#ff7f0e"/><circle cx="130.33" cy="1370.2" r="2.0" fill="#ff7f0e"/><circle cx="159.81" cy="1351.77" r="2.0" fill="#ff7f0e"/><circle cx="189.29" cy="1326.82" r="2.0" fill="#ff7f0e"/><circle cx="218.77" cy="1285.23" r="2.0" fill="#ff7f0e"/><circle cx="248.25" cy="1250.42" r="2.0" fill="#ff7f0e"/><circle cx="296.71" cy="1202.26" r="2.0" fill="#ff7f0e"/><polyline points="32.4,1374.29 71.37,1373.82 100.85,1370.67 130.33,1370.2 159.81,1352.09 189.29,1333.66 218.77,1276.03 248.25,1258.96 296.71,1212.99" fill="none" stroke="#2ca02c" stroke-width="1.3" stroke-dasharray="4.8 2.1" stroke-linejoin="round"/><circle cx="32.4" cy="1374.29" r="2.0" fill="#2ca02c"/><circle cx="71.37" cy="1373.82" r="2.0" fill="#2ca02c"/><circle cx="100.85" cy="1370.67" r="2.0" fill="#2ca02c"/><circle cx="130.33" cy="1370.2" r="2.0" fill="#2ca02c"/><circle cx="159.81" cy="1352.09" r="2.0" fill="#2ca02c"/><circle cx="189.29" cy="1333.66" r="2.0" fill="#2ca02c"/><circle cx="218.77" cy="1276.03" r="2.0" fill="#2ca02c"/><circle cx="248.25" cy="1258.96" r="2.0" fill="#2ca02c"/><circle cx="296.71" cy="1212.99" r="2.0" fill="#2ca02c"/><polyline points="32.4,1374.29 71.37,1374.29 100.85,1373.82 130.33,1371.93 159.81,1366.73 189.29,1351.77 218.77,1325.94 248.25,1266.62 296.71,1215.4" fill="none" stroke="#d62728" stroke-width="1.3" stroke-dasharray="4.8 2.1" stroke-linejoin="round"/><circle cx="32.4" cy="1374.29" r="2.0" fill="#d62728"/><circle cx="71.37" cy="1374.29" r="2.0" fill="#d62728"/><circle cx="100.85" cy="1373.82" r="2.0" fill="#d62728"/><circle cx="130.33" cy="1371.93" r="2.0" fill="#d62728"/><circle cx="159.81" cy="1366.73" r="2.0" fill="#d62728"/><circle cx="189.29" cy="1351.77" r="2.0" fill="#d62728"/><circle cx="218.77" cy="1325.94" r="2.0" fill="#d62728"/><circle cx="248.25" cy="1266.62" r="2.0" fill="#d62728"/><circle cx="296.71" cy="1215.4" r="2.0" fill="#d62728"/><polyline points="32.4,1361.14 71.37,1341.1 100.85,1309.3 130.33,1279.1 159.81,1249.3 189.29,1219.35 218.77,1193.3 248.25,1193.3 296.71,1193.3" fill="none" stroke="#444444" stroke-width="1.3" stroke-dasharray="1.3 2.2"/></g><path d="M32.4,1189.4V1377.47H301.9" fill="none" stroke="#000" stroke-width="1.05"/><path d="M28.8,1189.4H32.4M28.8,1219.35H32.4M28.8,1249.3H32.4M28.8,1279.1H32.4M28.8,1309.3H32.4M28.8,1341.1H32.4M28.8,1374.5H32.4M71.37,1377.47V1381.07M130.33,1377.47V1381.07M189.29,1377.47V1381.07M248.25,1377.47V1381.07" fill="none" stroke="#000" stroke-width="1"/><text x="25.8" y="1192.8" text-anchor="end" font-size="9" textLength="5.34" lengthAdjust="spacingAndGlyphs">8</text><text x="25.8" y="1222.75" text-anchor="end" font-size="9" textLength="5.34" lengthAdjust="spacingAndGlyphs">4</text><text x="25.8" y="1252.7" text-anchor="end" font-size="9" textLength="5.34" lengthAdjust="spacingAndGlyphs">2</text><text x="25.8" y="1282.5" text-anchor="end" font-size="9" textLength="5.34" lengthAdjust="spacingAndGlyphs">1</text><text x="25.8" y="1312.7" text-anchor="end" font-size="9" textLength="13.36" lengthAdjust="spacingAndGlyphs">0.5</text><text x="25.8" y="1344.5" text-anchor="end" font-size="9" textLength="18.70" lengthAdjust="spacingAndGlyphs">0.25</text><text x="25.8" y="1377.9" text-anchor="end" font-size="9" textLength="5.34" lengthAdjust="spacingAndGlyphs">0</text><text x="71.37" y="1390.77" text-anchor="middle" font-size="9" textLength="18.70" lengthAdjust="spacingAndGlyphs">0.25</text><text x="130.33" y="1390.77" text-anchor="middle" font-size="9" textLength="5.34" lengthAdjust="spacingAndGlyphs">1</text><text x="189.29" y="1390.77" text-anchor="middle" font-size="9" textLength="5.34" lengthAdjust="spacingAndGlyphs">4</text><text x="248.25" y="1390.77" text-anchor="middle" font-size="9" textLength="10.69" lengthAdjust="spacingAndGlyphs">16</text><text x="166.5" y="1184.9" text-anchor="middle" font-size="10.6" textLength="122.90" lengthAdjust="spacingAndGlyphs">Logistic reg. (objective)</text><text x="166.4" y="1397.9" text-anchor="middle" font-size="10" textLength="57.50" lengthAdjust="spacingAndGlyphs">Specified <tspan font-style="italic">ε</tspan></text><text transform="translate(8,1284.2) rotate(-90)" text-anchor="middle" font-size="10.2" textLength="59.50" lengthAdjust="spacingAndGlyphs">Measured <tspan font-style="italic">ε</tspan></text><path d="M40,1202.3H59.8" stroke="#1f77b4" stroke-width="1.3"/><circle cx="49.9" cy="1202.3" r="2.5" fill="#1f77b4"/><text x="67.6" y="1205.5" font-size="10" textLength="41.11" lengthAdjust="spacingAndGlyphs">ML-Audit</text><path d="M40,1216.33H59.8" stroke="#ff7f0e" stroke-width="1.3" stroke-dasharray="4.8 2.1"/><circle cx="49.9" cy="1216.33" r="2.0" fill="#ff7f0e"/><text x="67.6" y="1219.53" font-size="10" textLength="37.60" lengthAdjust="spacingAndGlyphs">ClipBKD</text><path d="M40,1230.36H59.8" stroke="#2ca02c" stroke-width="1.3" stroke-dasharray="4.8 2.1"/><circle cx="49.9" cy="1230.36" r="2.0" fill="#2ca02c"/><text x="67.6" y="1233.56" font-size="10" textLength="34.67" lengthAdjust="spacingAndGlyphs">Swap-X</text><path d="M40,1244.39H59.8" stroke="#d62728" stroke-width="1.3" stroke-dasharray="4.8 2.1"/><circle cx="49.9" cy="1244.39" r="2.0" fill="#d62728"/><text x="67.6" y="1247.59" font-size="10" textLength="45.03" lengthAdjust="spacingAndGlyphs">Poisoning</text><path d="M40,1258.42H59.8" stroke="#444444" stroke-width="1.3" stroke-dasharray="1.3 2.2"/><text x="67.6" y="1261.62" font-size="10" textLength="52.91" lengthAdjust="spacingAndGlyphs">Theoretical</text></g>
<g class="t" font-family='"Liberation Sans", sans-serif' fill="#000" text-rendering="geometricPrecision"><clipPath id="k41"><rect x="353.4" y="1189.4" width="269.5" height="188.07"/></clipPath><g clip-path="url(#k41)"><polyline points="353.4,1371.93 392.37,1370.35 421.85,1360.43 451.33,1339.96 480.81,1313.24 510.29,1284.13 539.77,1253.05 569.25,1220.65 617.71,1193.29" fill="none" stroke="#1f77b4" stroke-width="1.3" stroke-linejoin="round"/><circle cx="353.4" cy="1371.93" r="2.5" fill="#1f77b4"/><circle cx="392.37" cy="1370.35" r="2.5" fill="#1f77b4"/><circle cx="421.85" cy="1360.43" r="2.5" fill="#1f77b4"/><circle cx="451.33" cy="1339.96" r="2.5" fill="#1f77b4"/><circle cx="480.81" cy="1313.24" r="2.5" fill="#1f77b4"/><circle cx="510.29" cy="1284.13" r="2.5" fill="#1f77b4"/><circle cx="539.77" cy="1253.05" r="2.5" fill="#1f77b4"/><circle cx="569.25" cy="1220.65" r="2.5" fill="#1f77b4"/><circle cx="617.71" cy="1193.29" r="2.5" fill="#1f77b4"/><polyline points="353.4,1374.29 392.37,1373.82 421.85,1370.98 451.33,1364.69 480.81,1354.13 510.29,1339.96 539.77,1304.49 569.25,1279.75 617.71,1222.84" fill="none" stroke="#ff7f0e" stroke-width="1.3" stroke-dasharray="4.8 2.1" stroke-linejoin="round"/><circle cx="353.4" cy="1374.29" r="2.0" fill="#ff7f0e"/><circle cx="392.37" cy="1373.82" r="2.0" fill="#ff7f0e"/><circle cx="421.85" cy="1370.98" r="2.0" fill="#ff7f0e"/><circle cx="451.33" cy="1364.69" r="2.0" fill="#ff7f0e"/><circle cx="480.81" cy="1354.13" r="2.0" fill="#ff7f0e"/><circle cx="510.29" cy="1339.96" r="2.0" fill="#ff7f0e"/><circle cx="539.77" cy="1304.49" r="2.0" fill="#ff7f0e"/><circle cx="569.25" cy="1279.75" r="2.0" fill="#ff7f0e"/><circle cx="617.71" cy="1222.84" r="2.0" fill="#ff7f0e"/><polyline points="353.4,1374.29 392.37,1374.29 421.85,1373.03 451.33,1371.46 480.81,1367.2 510.29,1364.84 539.77,1343.11 569.25,1303.39 617.71,1257.43" fill="none" stroke="#2ca02c" stroke-width="1.3" stroke-dasharray="4.8 2.1" stroke-linejoin="round"/><circle cx="353.4" cy="1374.29" r="2.0" fill="#2ca02c"/><circle cx="392.37" cy="1374.29" r="2.0" fill="#2ca02c"/><circle cx="421.85" cy="1373.03" r="2.0" fill="#2ca02c"/><circle cx="451.33" cy="1371.46" r="2.0" fill="#2ca02c"/><circle cx="480.81" cy="1367.2" r="2.0" fill="#2ca02c"/><circle cx="510.29" cy="1364.84" r="2.0" fill="#2ca02c"/><circle cx="539.77" cy="1343.11" r="2.0" fill="#2ca02c"/><circle cx="569.25" cy="1303.39" r="2.0" fill="#2ca02c"/><circle cx="617.71" cy="1257.43" r="2.0" fill="#2ca02c"/><polyline points="353.4,1374.29 392.37,1374.29 421.85,1374.29 451.33,1373.82 480.81,1373.5 510.29,1372.72 539.77,1359.33 569.25,1302.3 617.71,1244.29" fill="none" stroke="#d62728" stroke-width="1.3" stroke-dasharray="4.8 2.1" stroke-linejoin="round"/><circle cx="353.4" cy="1374.29" r="2.0" fill="#d62728"/><circle cx="392.37" cy="1374.29" r="2.0" fill="#d62728"/><circle cx="421.85" cy="1374.29" r="2.0" fill="#d62728"/><circle cx="451.33" cy="1373.82" r="2.0" fill="#d62728"/><circle cx="480.81" cy="1373.5" r="2.0" fill="#d62728"/><circle cx="510.29" cy="1372.72" r="2.0" fill="#d62728"/><circle cx="539.77" cy="1359.33" r="2.0" fill="#d62728"/><circle cx="569.25" cy="1302.3" r="2.0" fill="#d62728"/><circle cx="617.71" cy="1244.29" r="2.0" fill="#d62728"/><polyline points="353.4,1361.14 392.37,1341.1 421.85,1309.3 451.33,1279.1 480.81,1249.3 510.29,1219.35 539.77,1193.3 569.25,1193.3 617.71,1193.3" fill="none" stroke="#444444" stroke-width="1.3" stroke-dasharray="1.3 2.2"/></g><path d="M353.4,1189.4V1377.47H622.9" fill="none" stroke="#000" stroke-width="1.05"/><path d="M349.8,1189.4H353.4M349.8,1219.35H353.4M349.8,1249.3H353.4M349.8,1279.1H353.4M349.8,1309.3H353.4M349.8,1341.1H353.4M349.8,1374.5H353.4M392.37,1377.47V1381.07M451.33,1377.47V1381.07M510.29,1377.47V1381.07M569.25,1377.47V1381.07" fill="none" stroke="#000" stroke-width="1"/><text x="346.8" y="1192.8" text-anchor="end" font-size="9" textLength="5.34" lengthAdjust="spacingAndGlyphs">8</text><text x="346.8" y="1222.75" text-anchor="end" font-size="9" textLength="5.34" lengthAdjust="spacingAndGlyphs">4</text><text x="346.8" y="1252.7" text-anchor="end" font-size="9" textLength="5.34" lengthAdjust="spacingAndGlyphs">2</text><text x="346.8" y="1282.5" text-anchor="end" font-size="9" textLength="5.34" lengthAdjust="spacingAndGlyphs">1</text><text x="346.8" y="1312.7" text-anchor="end" font-size="9" textLength="13.36" lengthAdjust="spacingAndGlyphs">0.5</text><text x="346.8" y="1344.5" text-anchor="end" font-size="9" textLength="18.70" lengthAdjust="spacingAndGlyphs">0.25</text><text x="346.8" y="1377.9" text-anchor="end" font-size="9" textLength="5.34" lengthAdjust="spacingAndGlyphs">0</text><text x="392.37" y="1390.77" text-anchor="middle" font-size="9" textLength="18.70" lengthAdjust="spacingAndGlyphs">0.25</text><text x="451.33" y="1390.77" text-anchor="middle" font-size="9" textLength="5.34" lengthAdjust="spacingAndGlyphs">1</text><text x="510.29" y="1390.77" text-anchor="middle" font-size="9" textLength="5.34" lengthAdjust="spacingAndGlyphs">4</text><text x="569.25" y="1390.77" text-anchor="middle" font-size="9" textLength="10.69" lengthAdjust="spacingAndGlyphs">16</text><text x="488.3" y="1184.9" text-anchor="middle" font-size="10.6" textLength="109.30" lengthAdjust="spacingAndGlyphs">Logistic reg. (output)</text><text x="487.4" y="1397.9" text-anchor="middle" font-size="10" textLength="57.50" lengthAdjust="spacingAndGlyphs">Specified <tspan font-style="italic">ε</tspan></text><text transform="translate(329,1284.2) rotate(-90)" text-anchor="middle" font-size="10.2" textLength="59.50" lengthAdjust="spacingAndGlyphs">Measured <tspan font-style="italic">ε</tspan></text><path d="M361,1202.3H380.8" stroke="#1f77b4" stroke-width="1.3"/><circle cx="370.9" cy="1202.3" r="2.5" fill="#1f77b4"/><text x="388.6" y="1205.5" font-size="10" textLength="41.11" lengthAdjust="spacingAndGlyphs">ML-Audit</text><path d="M361,1216.33H380.8" stroke="#ff7f0e" stroke-width="1.3" stroke-dasharray="4.8 2.1"/><circle cx="370.9" cy="1216.33" r="2.0" fill="#ff7f0e"/><text x="388.6" y="1219.53" font-size="10" textLength="37.60" lengthAdjust="spacingAndGlyphs">ClipBKD</text><path d="M361,1230.36H380.8" stroke="#2ca02c" stroke-width="1.3" stroke-dasharray="4.8 2.1"/><circle cx="370.9" cy="1230.36" r="2.0" fill="#2ca02c"/><text x="388.6" y="1233.56" font-size="10" textLength="34.67" lengthAdjust="spacingAndGlyphs">Swap-X</text><path d="M361,1244.39H380.8" stroke="#d62728" stroke-width="1.3" stroke-dasharray="4.8 2.1"/><circle cx="370.9" cy="1244.39" r="2.0" fill="#d62728"/><text x="388.6" y="1247.59" font-size="10" textLength="45.03" lengthAdjust="spacingAndGlyphs">Poisoning</text><path d="M361,1258.42H380.8" stroke="#444444" stroke-width="1.3" stroke-dasharray="1.3 2.2"/><text x="388.6" y="1261.62" font-size="10" textLength="52.91" lengthAdjust="spacingAndGlyphs">Theoretical</text></g>
<g class="t" font-family='"Liberation Sans", sans-serif' fill="#000" text-rendering="geometricPrecision"><clipPath id="k42"><rect x="675.4" y="1189.4" width="269.5" height="188.07"/></clipPath><g clip-path="url(#k42)"><polyline points="675.4,1374.29 714.37,1371.93 743.85,1353.35 773.33,1319.37 802.81,1283.04 832.29,1249.76 861.77,1235.54 891.25,1215.18 939.71,1214.74" fill="none" stroke="#1f77b4" stroke-width="1.3" stroke-linejoin="round"/><circle cx="675.4" cy="1374.29" r="2.5" fill="#1f77b4"/><circle cx="714.37" cy="1371.93" r="2.5" fill="#1f77b4"/><circle cx="743.85" cy="1353.35" r="2.5" fill="#1f77b4"/><circle cx="773.33" cy="1319.37" r="2.5" fill="#1f77b4"/><circle cx="802.81" cy="1283.04" r="2.5" fill="#1f77b4"/><circle cx="832.29" cy="1249.76" r="2.5" fill="#1f77b4"/><circle cx="861.77" cy="1235.54" r="2.5" fill="#1f77b4"/><circle cx="891.25" cy="1215.18" r="2.5" fill="#1f77b4"/><circle cx="939.71" cy="1214.74" r="2.5" fill="#1f77b4"/><polyline points="675.4,1374.29 714.37,1373.82 743.85,1372.72 773.33,1371.46 802.81,1369.88 832.29,1367.52 861.77,1353.03 891.25,1333.38 939.71,1250.86" fill="none" stroke="#ff7f0e" stroke-width="1.3" stroke-dasharray="4.8 2.1" stroke-linejoin="round"/><circle cx="675.4" cy="1374.29" r="2.0" fill="#ff7f0e"/><circle cx="714.37" cy="1373.82" r="2.0" fill="#ff7f0e"/><circle cx="743.85" cy="1372.72" r="2.0" fill="#ff7f0e"/><circle cx="773.33" cy="1371.46" r="2.0" fill="#ff7f0e"/><circle cx="802.81" cy="1369.88" r="2.0" fill="#ff7f0e"/><circle cx="832.29" cy="1367.52" r="2.0" fill="#ff7f0e"/><circle cx="861.77" cy="1353.03" r="2.0" fill="#ff7f0e"/><circle cx="891.25" cy="1333.38" r="2.0" fill="#ff7f0e"/><circle cx="939.71" cy="1250.86" r="2.0" fill="#ff7f0e"/><polyline points="675.4,1374.29 714.37,1374.29 743.85,1374.29 773.33,1374.29 802.81,1368.31 832.29,1374.29 861.77,1338.07 891.25,1296.83 939.71,1265.52" fill="none" stroke="#2ca02c" stroke-width="1.3" stroke-dasharray="4.8 2.1" stroke-linejoin="round"/><circle cx="675.4" cy="1374.29" r="2.0" fill="#2ca02c"/><circle cx="714.37" cy="1374.29" r="2.0" fill="#2ca02c"/><circle cx="743.85" cy="1374.29" r="2.0" fill="#2ca02c"/><circle cx="773.33" cy="1374.29" r="2.0" fill="#2ca02c"/><circle cx="802.81" cy="1368.31" r="2.0" fill="#2ca02c"/><circle cx="832.29" cy="1374.29" r="2.0" fill="#2ca02c"/><circle cx="861.77" cy="1338.07" r="2.0" fill="#2ca02c"/><circle cx="891.25" cy="1296.83" r="2.0" fill="#2ca02c"/><circle cx="939.71" cy="1265.52" r="2.0" fill="#2ca02c"/><polyline points="675.4,1361.14 714.37,1341.1 743.85,1309.3 773.33,1279.1 802.81,1249.3 832.29,1219.35 861.77,1193.3 891.25,1193.3 939.71,1193.3" fill="none" stroke="#444444" stroke-width="1.3" stroke-dasharray="1.3 2.2"/></g><path d="M675.4,1189.4V1377.47H944.9" fill="none" stroke="#000" stroke-width="1.05"/><path d="M671.8,1189.4H675.4M671.8,1219.35H675.4M671.8,1249.3H675.4M671.8,1279.1H675.4M671.8,1309.3H675.4M671.8,1341.1H675.4M671.8,1374.5H675.4M714.37,1377.47V1381.07M773.33,1377.47V1381.07M832.29,1377.47V1381.07M891.25,1377.47V1381.07" fill="none" stroke="#000" stroke-width="1"/><text x="668.8" y="1192.8" text-anchor="end" font-size="9" textLength="5.34" lengthAdjust="spacingAndGlyphs">8</text><text x="668.8" y="1222.75" text-anchor="end" font-size="9" textLength="5.34" lengthAdjust="spacingAndGlyphs">4</text><text x="668.8" y="1252.7" text-anchor="end" font-size="9" textLength="5.34" lengthAdjust="spacingAndGlyphs">2</text><text x="668.8" y="1282.5" text-anchor="end" font-size="9" textLength="5.34" lengthAdjust="spacingAndGlyphs">1</text><text x="668.8" y="1312.7" text-anchor="end" font-size="9" textLength="13.36" lengthAdjust="spacingAndGlyphs">0.5</text><text x="668.8" y="1344.5" text-anchor="end" font-size="9" textLength="18.70" lengthAdjust="spacingAndGlyphs">0.25</text><text x="668.8" y="1377.9" text-anchor="end" font-size="9" textLength="5.34" lengthAdjust="spacingAndGlyphs">0</text><text x="714.37" y="1390.77" text-anchor="middle" font-size="9" textLength="18.70" lengthAdjust="spacingAndGlyphs">0.25</text><text x="773.33" y="1390.77" text-anchor="middle" font-size="9" textLength="5.34" lengthAdjust="spacingAndGlyphs">1</text><text x="832.29" y="1390.77" text-anchor="middle" font-size="9" textLength="5.34" lengthAdjust="spacingAndGlyphs">4</text><text x="891.25" y="1390.77" text-anchor="middle" font-size="9" textLength="10.69" lengthAdjust="spacingAndGlyphs">16</text><text x="810.35" y="1184.9" text-anchor="middle" font-size="11.6" textLength="70.50" lengthAdjust="spacingAndGlyphs">Naive Bayes</text><text x="809.4" y="1397.9" text-anchor="middle" font-size="10" textLength="57.50" lengthAdjust="spacingAndGlyphs">Specified <tspan font-style="italic">ε</tspan></text><text transform="translate(651,1284.2) rotate(-90)" text-anchor="middle" font-size="10.2" textLength="59.50" lengthAdjust="spacingAndGlyphs">Measured <tspan font-style="italic">ε</tspan></text><path d="M683,1202.3H702.8" stroke="#1f77b4" stroke-width="1.3"/><circle cx="692.9" cy="1202.3" r="2.5" fill="#1f77b4"/><text x="710.6" y="1205.5" font-size="10" textLength="41.11" lengthAdjust="spacingAndGlyphs">ML-Audit</text><path d="M683,1216.33H702.8" stroke="#ff7f0e" stroke-width="1.3" stroke-dasharray="4.8 2.1"/><circle cx="692.9" cy="1216.33" r="2.0" fill="#ff7f0e"/><text x="710.6" y="1219.53" font-size="10" textLength="37.60" lengthAdjust="spacingAndGlyphs">ClipBKD</text><path d="M683,1230.36H702.8" stroke="#2ca02c" stroke-width="1.3" stroke-dasharray="4.8 2.1"/><circle cx="692.9" cy="1230.36" r="2.0" fill="#2ca02c"/><text x="710.6" y="1233.56" font-size="10" textLength="34.67" lengthAdjust="spacingAndGlyphs">Swap-X</text><path d="M683,1244.39H702.8" stroke="#444444" stroke-width="1.3" stroke-dasharray="1.3 2.2"/><text x="710.6" y="1247.59" font-size="10" textLength="52.91" lengthAdjust="spacingAndGlyphs">Theoretical</text></g>
<g class="t" font-family='"Liberation Sans", sans-serif' fill="#000" text-rendering="geometricPrecision"><clipPath id="k43"><rect x="997.5" y="1189.4" width="269.5" height="188.07"/></clipPath><g clip-path="url(#k43)"><polyline points="997.5,1366.42 1036.47,1353.35 1065.95,1343.9 1095.43,1339.96 1124.91,1329.41 1154.39,1327.83 1183.87,1333.66 1213.35,1324.34 1261.81,1328.48" fill="none" stroke="#1f77b4" stroke-width="1.3" stroke-linejoin="round"/><circle cx="997.5" cy="1366.42" r="2.5" fill="#1f77b4"/><circle cx="1036.47" cy="1353.35" r="2.5" fill="#1f77b4"/><circle cx="1065.95" cy="1343.9" r="2.5" fill="#1f77b4"/><circle cx="1095.43" cy="1339.96" r="2.5" fill="#1f77b4"/><circle cx="1124.91" cy="1329.41" r="2.5" fill="#1f77b4"/><circle cx="1154.39" cy="1327.83" r="2.5" fill="#1f77b4"/><circle cx="1183.87" cy="1333.66" r="2.5" fill="#1f77b4"/><circle cx="1213.35" cy="1324.34" r="2.5" fill="#1f77b4"/><circle cx="1261.81" cy="1328.48" r="2.5" fill="#1f77b4"/><polyline points="997.5,1374.29 1036.47,1374.29 1065.95,1374.29 1095.43,1374.29 1124.91,1374.29 1154.39,1374.29 1183.87,1374.29 1213.35,1374.28 1261.81,1374.28" fill="none" stroke="#ff7f0e" stroke-width="1.3" stroke-dasharray="4.8 2.1" stroke-linejoin="round"/><circle cx="997.5" cy="1374.29" r="2.0" fill="#ff7f0e"/><circle cx="1036.47" cy="1374.29" r="2.0" fill="#ff7f0e"/><circle cx="1065.95" cy="1374.29" r="2.0" fill="#ff7f0e"/><circle cx="1095.43" cy="1374.29" r="2.0" fill="#ff7f0e"/><circle cx="1124.91" cy="1374.29" r="2.0" fill="#ff7f0e"/><circle cx="1154.39" cy="1374.29" r="2.0" fill="#ff7f0e"/><circle cx="1183.87" cy="1374.29" r="2.0" fill="#ff7f0e"/><circle cx="1213.35" cy="1374.28" r="2.0" fill="#ff7f0e"/><circle cx="1261.81" cy="1374.28" r="2.0" fill="#ff7f0e"/><polyline points="997.5,1374.29 1036.47,1374.29 1065.95,1364.37 1095.43,1366.73 1124.91,1359.96 1154.39,1341.85 1183.87,1374.29 1213.35,1372.76 1261.81,1374.28" fill="none" stroke="#2ca02c" stroke-width="1.3" stroke-dasharray="4.8 2.1" stroke-linejoin="round"/><circle cx="997.5" cy="1374.29" r="2.0" fill="#2ca02c"/><circle cx="1036.47" cy="1374.29" r="2.0" fill="#2ca02c"/><circle cx="1065.95" cy="1364.37" r="2.0" fill="#2ca02c"/><circle cx="1095.43" cy="1366.73" r="2.0" fill="#2ca02c"/><circle cx="1124.91" cy="1359.96" r="2.0" fill="#2ca02c"/><circle cx="1154.39" cy="1341.85" r="2.0" fill="#2ca02c"/><circle cx="1183.87" cy="1374.29" r="2.0" fill="#2ca02c"/><circle cx="1213.35" cy="1372.76" r="2.0" fill="#2ca02c"/><circle cx="1261.81" cy="1374.28" r="2.0" fill="#2ca02c"/><polyline points="997.5,1361.14 1036.47,1341.1 1065.95,1309.3 1095.43,1279.1 1124.91,1249.3 1154.39,1219.35 1183.87,1193.3 1213.35,1193.3 1261.81,1193.3" fill="none" stroke="#444444" stroke-width="1.3" stroke-dasharray="1.3 2.2"/></g><path d="M997.5,1189.4V1377.47H1267" fill="none" stroke="#000" stroke-width="1.05"/><path d="M993.9,1189.4H997.5M993.9,1219.35H997.5M993.9,1249.3H997.5M993.9,1279.1H997.5M993.9,1309.3H997.5M993.9,1341.1H997.5M993.9,1374.5H997.5M1036.47,1377.47V1381.07M1095.43,1377.47V1381.07M1154.39,1377.47V1381.07M1213.35,1377.47V1381.07" fill="none" stroke="#000" stroke-width="1"/><text x="990.9" y="1192.8" text-anchor="end" font-size="9" textLength="5.34" lengthAdjust="spacingAndGlyphs">8</text><text x="990.9" y="1222.75" text-anchor="end" font-size="9" textLength="5.34" lengthAdjust="spacingAndGlyphs">4</text><text x="990.9" y="1252.7" text-anchor="end" font-size="9" textLength="5.34" lengthAdjust="spacingAndGlyphs">2</text><text x="990.9" y="1282.5" text-anchor="end" font-size="9" textLength="5.34" lengthAdjust="spacingAndGlyphs">1</text><text x="990.9" y="1312.7" text-anchor="end" font-size="9" textLength="13.36" lengthAdjust="spacingAndGlyphs">0.5</text><text x="990.9" y="1344.5" text-anchor="end" font-size="9" textLength="18.70" lengthAdjust="spacingAndGlyphs">0.25</text><text x="990.9" y="1377.9" text-anchor="end" font-size="9" textLength="5.34" lengthAdjust="spacingAndGlyphs">0</text><text x="1036.47" y="1390.77" text-anchor="middle" font-size="9" textLength="18.70" lengthAdjust="spacingAndGlyphs">0.25</text><text x="1095.43" y="1390.77" text-anchor="middle" font-size="9" textLength="5.34" lengthAdjust="spacingAndGlyphs">1</text><text x="1154.39" y="1390.77" text-anchor="middle" font-size="9" textLength="5.34" lengthAdjust="spacingAndGlyphs">4</text><text x="1213.35" y="1390.77" text-anchor="middle" font-size="9" textLength="10.69" lengthAdjust="spacingAndGlyphs">16</text><text x="1132" y="1184.9" text-anchor="middle" font-size="10.6" textLength="76.90" lengthAdjust="spacingAndGlyphs">Random forest</text><text x="1131.5" y="1397.9" text-anchor="middle" font-size="10" textLength="57.50" lengthAdjust="spacingAndGlyphs">Specified <tspan font-style="italic">ε</tspan></text><text transform="translate(973.1,1284.2) rotate(-90)" text-anchor="middle" font-size="10.2" textLength="59.50" lengthAdjust="spacingAndGlyphs">Measured <tspan font-style="italic">ε</tspan></text><path d="M1005.1,1202.3H1024.9" stroke="#1f77b4" stroke-width="1.3"/><circle cx="1015" cy="1202.3" r="2.5" fill="#1f77b4"/><text x="1032.7" y="1205.5" font-size="10" textLength="41.11" lengthAdjust="spacingAndGlyphs">ML-Audit</text><path d="M1005.1,1216.33H1024.9" stroke="#ff7f0e" stroke-width="1.3" stroke-dasharray="4.8 2.1"/><circle cx="1015" cy="1216.33" r="2.0" fill="#ff7f0e"/><text x="1032.7" y="1219.53" font-size="10" textLength="37.60" lengthAdjust="spacingAndGlyphs">ClipBKD</text><path d="M1005.1,1230.36H1024.9" stroke="#2ca02c" stroke-width="1.3" stroke-dasharray="4.8 2.1"/><circle cx="1015" cy="1230.36" r="2.0" fill="#2ca02c"/><text x="1032.7" y="1233.56" font-size="10" textLength="34.67" lengthAdjust="spacingAndGlyphs">Swap-X</text><path d="M1005.1,1244.39H1024.9" stroke="#444444" stroke-width="1.3" stroke-dasharray="1.3 2.2"/><text x="1032.7" y="1247.59" font-size="10" textLength="52.91" lengthAdjust="spacingAndGlyphs">Theoretical</text></g>
<g class="t" font-family='"Liberation Sans", sans-serif' fill="#000" text-rendering="geometricPrecision"><clipPath id="k50"><rect x="32.4" y="1482.4" width="269.5" height="188.02"/></clipPath><g clip-path="url(#k50)"><polyline points="32.4,1668.39 71.37,1668.08 100.85,1662.88 130.33,1653.43 159.81,1638.16 189.29,1601.21 218.77,1576.04 248.25,1516.93 296.71,1488.04" fill="none" stroke="#1f77b4" stroke-width="1.3" stroke-linejoin="round"/><circle cx="32.4" cy="1668.39" r="2.5" fill="#1f77b4"/><circle cx="71.37" cy="1668.08" r="2.5" fill="#1f77b4"/><circle cx="100.85" cy="1662.88" r="2.5" fill="#1f77b4"/><circle cx="130.33" cy="1653.43" r="2.5" fill="#1f77b4"/><circle cx="159.81" cy="1638.16" r="2.5" fill="#1f77b4"/><circle cx="189.29" cy="1601.21" r="2.5" fill="#1f77b4"/><circle cx="218.77" cy="1576.04" r="2.5" fill="#1f77b4"/><circle cx="248.25" cy="1516.93" r="2.5" fill="#1f77b4"/><circle cx="296.71" cy="1488.04" r="2.5" fill="#1f77b4"/><polyline points="32.4,1668.39 71.37,1668.39 100.85,1668.08 130.33,1666.03 159.81,1664.77 189.29,1664.46 218.77,1655.48 248.25,1607.78 296.71,1544.95" fill="none" stroke="#ff7f0e" stroke-width="1.3" stroke-dasharray="4.8 2.1" stroke-linejoin="round"/><circle cx="32.4" cy="1668.39" r="2.0" fill="#ff7f0e"/><circle cx="71.37" cy="1668.39" r="2.0" fill="#ff7f0e"/><circle cx="100.85" cy="1668.08" r="2.0" fill="#ff7f0e"/><circle cx="130.33" cy="1666.03" r="2.0" fill="#ff7f0e"/><circle cx="159.81" cy="1664.77" r="2.0" fill="#ff7f0e"/><circle cx="189.29" cy="1664.46" r="2.0" fill="#ff7f0e"/><circle cx="218.77" cy="1655.48" r="2.0" fill="#ff7f0e"/><circle cx="248.25" cy="1607.78" r="2.0" fill="#ff7f0e"/><circle cx="296.71" cy="1544.95" r="2.0" fill="#ff7f0e"/><polyline points="32.4,1668.39 71.37,1668.39 100.85,1668.08 130.33,1667.13 159.81,1663.67 189.29,1668.39 218.77,1668.39 248.25,1668.19 296.71,1587.64" fill="none" stroke="#2ca02c" stroke-width="1.3" stroke-dasharray="4.8 2.1" stroke-linejoin="round"/><circle cx="32.4" cy="1668.39" r="2.0" fill="#2ca02c"/><circle cx="71.37" cy="1668.39" r="2.0" fill="#2ca02c"/><circle cx="100.85" cy="1668.08" r="2.0" fill="#2ca02c"/><circle cx="130.33" cy="1667.13" r="2.0" fill="#2ca02c"/><circle cx="159.81" cy="1663.67" r="2.0" fill="#2ca02c"/><circle cx="189.29" cy="1668.39" r="2.0" fill="#2ca02c"/><circle cx="218.77" cy="1668.39" r="2.0" fill="#2ca02c"/><circle cx="248.25" cy="1668.19" r="2.0" fill="#2ca02c"/><circle cx="296.71" cy="1587.64" r="2.0" fill="#2ca02c"/><polyline points="32.4,1668.39 71.37,1668.08 100.85,1668.08 130.33,1668.08 159.81,1660.83 189.29,1659.26 218.77,1652.65 248.25,1604.06 296.71,1537.95" fill="none" stroke="#d62728" stroke-width="1.3" stroke-dasharray="4.8 2.1" stroke-linejoin="round"/><circle cx="32.4" cy="1668.39" r="2.0" fill="#d62728"/><circle cx="71.37" cy="1668.08" r="2.0" fill="#d62728"/><circle cx="100.85" cy="1668.08" r="2.0" fill="#d62728"/><circle cx="130.33" cy="1668.08" r="2.0" fill="#d62728"/><circle cx="159.81" cy="1660.83" r="2.0" fill="#d62728"/><circle cx="189.29" cy="1659.26" r="2.0" fill="#d62728"/><circle cx="218.77" cy="1652.65" r="2.0" fill="#d62728"/><circle cx="248.25" cy="1604.06" r="2.0" fill="#d62728"/><circle cx="296.71" cy="1537.95" r="2.0" fill="#d62728"/><polyline points="32.4,1654.72 71.37,1634.1 100.85,1603.2 130.33,1573.3 159.81,1543.2 189.29,1513.4 218.77,1487.4 248.25,1487.4 296.71,1487.4" fill="none" stroke="#444444" stroke-width="1.3" stroke-dasharray="1.3 2.2"/></g><path d="M32.4,1482.4V1670.42H301.9" fill="none" stroke="#000" stroke-width="1.05"/><path d="M28.8,1482.4H32.4M28.8,1513.4H32.4M28.8,1543.2H32.4M28.8,1573.3H32.4M28.8,1603.2H32.4M28.8,1634.1H32.4M28.8,1668.46H32.4M71.37,1670.42V1674.02M130.33,1670.42V1674.02M189.29,1670.42V1674.02M248.25,1670.42V1674.02" fill="none" stroke="#000" stroke-width="1"/><text x="25.8" y="1485.8" text-anchor="end" font-size="9" textLength="5.34" lengthAdjust="spacingAndGlyphs">8</text><text x="25.8" y="1516.8" text-anchor="end" font-size="9" textLength="5.34" lengthAdjust="spacingAndGlyphs">4</text><text x="25.8" y="1546.6" text-anchor="end" font-size="9" textLength="5.34" lengthAdjust="spacingAndGlyphs">2</text><text x="25.8" y="1576.7" text-anchor="end" font-size="9" textLength="5.34" lengthAdjust="spacingAndGlyphs">1</text><text x="25.8" y="1606.6" text-anchor="end" font-size="9" textLength="13.36" lengthAdjust="spacingAndGlyphs">0.5</text><text x="25.8" y="1637.5" text-anchor="end" font-size="9" textLength="18.70" lengthAdjust="spacingAndGlyphs">0.25</text><text x="25.8" y="1671.86" text-anchor="end" font-size="9" textLength="5.34" lengthAdjust="spacingAndGlyphs">0</text><text x="71.37" y="1683.72" text-anchor="middle" font-size="9" textLength="18.70" lengthAdjust="spacingAndGlyphs">0.25</text><text x="130.33" y="1683.72" text-anchor="middle" font-size="9" textLength="5.34" lengthAdjust="spacingAndGlyphs">1</text><text x="189.29" y="1683.72" text-anchor="middle" font-size="9" textLength="5.34" lengthAdjust="spacingAndGlyphs">4</text><text x="248.25" y="1683.72" text-anchor="middle" font-size="9" textLength="10.69" lengthAdjust="spacingAndGlyphs">16</text><text x="166.5" y="1477.9" text-anchor="middle" font-size="10.6" textLength="122.90" lengthAdjust="spacingAndGlyphs">Logistic reg. (objective)</text><text x="166.4" y="1690.9" text-anchor="middle" font-size="10" textLength="57.50" lengthAdjust="spacingAndGlyphs">Specified <tspan font-style="italic">ε</tspan></text><text transform="translate(8,1577.2) rotate(-90)" text-anchor="middle" font-size="10.2" textLength="59.50" lengthAdjust="spacingAndGlyphs">Measured <tspan font-style="italic">ε</tspan></text><path d="M40,1495.3H59.8" stroke="#1f77b4" stroke-width="1.3"/><circle cx="49.9" cy="1495.3" r="2.5" fill="#1f77b4"/><text x="67.6" y="1498.5" font-size="10" textLength="41.11" lengthAdjust="spacingAndGlyphs">ML-Audit</text><path d="M40,1509.33H59.8" stroke="#ff7f0e" stroke-width="1.3" stroke-dasharray="4.8 2.1"/><circle cx="49.9" cy="1509.33" r="2.0" fill="#ff7f0e"/><text x="67.6" y="1512.53" font-size="10" textLength="37.60" lengthAdjust="spacingAndGlyphs">ClipBKD</text><path d="M40,1523.36H59.8" stroke="#2ca02c" stroke-width="1.3" stroke-dasharray="4.8 2.1"/><circle cx="49.9" cy="1523.36" r="2.0" fill="#2ca02c"/><text x="67.6" y="1526.56" font-size="10" textLength="34.67" lengthAdjust="spacingAndGlyphs">Swap-X</text><path d="M40,1537.39H59.8" stroke="#d62728" stroke-width="1.3" stroke-dasharray="4.8 2.1"/><circle cx="49.9" cy="1537.39" r="2.0" fill="#d62728"/><text x="67.6" y="1540.59" font-size="10" textLength="45.03" lengthAdjust="spacingAndGlyphs">Poisoning</text><path d="M40,1551.42H59.8" stroke="#444444" stroke-width="1.3" stroke-dasharray="1.3 2.2"/><text x="67.6" y="1554.62" font-size="10" textLength="52.91" lengthAdjust="spacingAndGlyphs">Theoretical</text></g>
<g class="t" font-family='"Liberation Sans", sans-serif' fill="#000" text-rendering="geometricPrecision"><clipPath id="k51"><rect x="353.4" y="1482.4" width="269.5" height="188.02"/></clipPath><g clip-path="url(#k51)"><polyline points="353.4,1668.39 392.37,1668.08 421.85,1666.82 451.33,1663.67 480.81,1657.06 510.29,1626.66 539.77,1592.67 569.25,1541.67 617.71,1496.8" fill="none" stroke="#1f77b4" stroke-width="1.3" stroke-linejoin="round"/><circle cx="353.4" cy="1668.39" r="2.5" fill="#1f77b4"/><circle cx="392.37" cy="1668.08" r="2.5" fill="#1f77b4"/><circle cx="421.85" cy="1666.82" r="2.5" fill="#1f77b4"/><circle cx="451.33" cy="1663.67" r="2.5" fill="#1f77b4"/><circle cx="480.81" cy="1657.06" r="2.5" fill="#1f77b4"/><circle cx="510.29" cy="1626.66" r="2.5" fill="#1f77b4"/><circle cx="539.77" cy="1592.67" r="2.5" fill="#1f77b4"/><circle cx="569.25" cy="1541.67" r="2.5" fill="#1f77b4"/><circle cx="617.71" cy="1496.8" r="2.5" fill="#1f77b4"/><polyline points="353.4,1668.39 392.37,1668.39 421.85,1668.08 451.33,1666.5 480.81,1661.31 510.29,1660.52 539.77,1636.9 569.25,1597.93 617.71,1548.24" fill="none" stroke="#ff7f0e" stroke-width="1.3" stroke-dasharray="4.8 2.1" stroke-linejoin="round"/><circle cx="353.4" cy="1668.39" r="2.0" fill="#ff7f0e"/><circle cx="392.37" cy="1668.39" r="2.0" fill="#ff7f0e"/><circle cx="421.85" cy="1668.08" r="2.0" fill="#ff7f0e"/><circle cx="451.33" cy="1666.5" r="2.0" fill="#ff7f0e"/><circle cx="480.81" cy="1661.31" r="2.0" fill="#ff7f0e"/><circle cx="510.29" cy="1660.52" r="2.0" fill="#ff7f0e"/><circle cx="539.77" cy="1636.9" r="2.0" fill="#ff7f0e"/><circle cx="569.25" cy="1597.93" r="2.0" fill="#ff7f0e"/><circle cx="617.71" cy="1548.24" r="2.0" fill="#ff7f0e"/><polyline points="353.4,1668.39 392.37,1668.39 421.85,1668.39 451.33,1668.39 480.81,1668.39 510.29,1668.39 539.77,1668.39 569.25,1668.19 617.71,1627.04" fill="none" stroke="#2ca02c" stroke-width="1.3" stroke-dasharray="4.8 2.1" stroke-linejoin="round"/><circle cx="353.4" cy="1668.39" r="2.0" fill="#2ca02c"/><circle cx="392.37" cy="1668.39" r="2.0" fill="#2ca02c"/><circle cx="421.85" cy="1668.39" r="2.0" fill="#2ca02c"/><circle cx="451.33" cy="1668.39" r="2.0" fill="#2ca02c"/><circle cx="480.81" cy="1668.39" r="2.0" fill="#2ca02c"/><circle cx="510.29" cy="1668.39" r="2.0" fill="#2ca02c"/><circle cx="539.77" cy="1668.39" r="2.0" fill="#2ca02c"/><circle cx="569.25" cy="1668.19" r="2.0" fill="#2ca02c"/><circle cx="617.71" cy="1627.04" r="2.0" fill="#2ca02c"/><polyline points="353.4,1668.39 392.37,1668.39 421.85,1668.08 451.33,1666.03 480.81,1661.31 510.29,1659.73 539.77,1642.41 569.25,1615.44 617.71,1553.71" fill="none" stroke="#d62728" stroke-width="1.3" stroke-dasharray="4.8 2.1" stroke-linejoin="round"/><circle cx="353.4" cy="1668.39" r="2.0" fill="#d62728"/><circle cx="392.37" cy="1668.39" r="2.0" fill="#d62728"/><circle cx="421.85" cy="1668.08" r="2.0" fill="#d62728"/><circle cx="451.33" cy="1666.03" r="2.0" fill="#d62728"/><circle cx="480.81" cy="1661.31" r="2.0" fill="#d62728"/><circle cx="510.29" cy="1659.73" r="2.0" fill="#d62728"/><circle cx="539.77" cy="1642.41" r="2.0" fill="#d62728"/><circle cx="569.25" cy="1615.44" r="2.0" fill="#d62728"/><circle cx="617.71" cy="1553.71" r="2.0" fill="#d62728"/><polyline points="353.4,1654.72 392.37,1634.1 421.85,1603.2 451.33,1573.3 480.81,1543.2 510.29,1513.4 539.77,1487.4 569.25,1487.4 617.71,1487.4" fill="none" stroke="#444444" stroke-width="1.3" stroke-dasharray="1.3 2.2"/></g><path d="M353.4,1482.4V1670.42H622.9" fill="none" stroke="#000" stroke-width="1.05"/><path d="M349.8,1482.4H353.4M349.8,1513.4H353.4M349.8,1543.2H353.4M349.8,1573.3H353.4M349.8,1603.2H353.4M349.8,1634.1H353.4M349.8,1668.46H353.4M392.37,1670.42V1674.02M451.33,1670.42V1674.02M510.29,1670.42V1674.02M569.25,1670.42V1674.02" fill="none" stroke="#000" stroke-width="1"/><text x="346.8" y="1485.8" text-anchor="end" font-size="9" textLength="5.34" lengthAdjust="spacingAndGlyphs">8</text><text x="346.8" y="1516.8" text-anchor="end" font-size="9" textLength="5.34" lengthAdjust="spacingAndGlyphs">4</text><text x="346.8" y="1546.6" text-anchor="end" font-size="9" textLength="5.34" lengthAdjust="spacingAndGlyphs">2</text><text x="346.8" y="1576.7" text-anchor="end" font-size="9" textLength="5.34" lengthAdjust="spacingAndGlyphs">1</text><text x="346.8" y="1606.6" text-anchor="end" font-size="9" textLength="13.36" lengthAdjust="spacingAndGlyphs">0.5</text><text x="346.8" y="1637.5" text-anchor="end" font-size="9" textLength="18.70" lengthAdjust="spacingAndGlyphs">0.25</text><text x="346.8" y="1671.86" text-anchor="end" font-size="9" textLength="5.34" lengthAdjust="spacingAndGlyphs">0</text><text x="392.37" y="1683.72" text-anchor="middle" font-size="9" textLength="18.70" lengthAdjust="spacingAndGlyphs">0.25</text><text x="451.33" y="1683.72" text-anchor="middle" font-size="9" textLength="5.34" lengthAdjust="spacingAndGlyphs">1</text><text x="510.29" y="1683.72" text-anchor="middle" font-size="9" textLength="5.34" lengthAdjust="spacingAndGlyphs">4</text><text x="569.25" y="1683.72" text-anchor="middle" font-size="9" textLength="10.69" lengthAdjust="spacingAndGlyphs">16</text><text x="488.3" y="1477.9" text-anchor="middle" font-size="10.6" textLength="109.30" lengthAdjust="spacingAndGlyphs">Logistic reg. (output)</text><text x="487.4" y="1690.9" text-anchor="middle" font-size="10" textLength="57.50" lengthAdjust="spacingAndGlyphs">Specified <tspan font-style="italic">ε</tspan></text><text transform="translate(329,1577.2) rotate(-90)" text-anchor="middle" font-size="10.2" textLength="59.50" lengthAdjust="spacingAndGlyphs">Measured <tspan font-style="italic">ε</tspan></text><path d="M361,1495.3H380.8" stroke="#1f77b4" stroke-width="1.3"/><circle cx="370.9" cy="1495.3" r="2.5" fill="#1f77b4"/><text x="388.6" y="1498.5" font-size="10" textLength="41.11" lengthAdjust="spacingAndGlyphs">ML-Audit</text><path d="M361,1509.33H380.8" stroke="#ff7f0e" stroke-width="1.3" stroke-dasharray="4.8 2.1"/><circle cx="370.9" cy="1509.33" r="2.0" fill="#ff7f0e"/><text x="388.6" y="1512.53" font-size="10" textLength="37.60" lengthAdjust="spacingAndGlyphs">ClipBKD</text><path d="M361,1523.36H380.8" stroke="#2ca02c" stroke-width="1.3" stroke-dasharray="4.8 2.1"/><circle cx="370.9" cy="1523.36" r="2.0" fill="#2ca02c"/><text x="388.6" y="1526.56" font-size="10" textLength="34.67" lengthAdjust="spacingAndGlyphs">Swap-X</text><path d="M361,1537.39H380.8" stroke="#d62728" stroke-width="1.3" stroke-dasharray="4.8 2.1"/><circle cx="370.9" cy="1537.39" r="2.0" fill="#d62728"/><text x="388.6" y="1540.59" font-size="10" textLength="45.03" lengthAdjust="spacingAndGlyphs">Poisoning</text><path d="M361,1551.42H380.8" stroke="#444444" stroke-width="1.3" stroke-dasharray="1.3 2.2"/><text x="388.6" y="1554.62" font-size="10" textLength="52.91" lengthAdjust="spacingAndGlyphs">Theoretical</text></g>
<g class="t" font-family='"Liberation Sans", sans-serif' fill="#000" text-rendering="geometricPrecision"><clipPath id="k52"><rect x="675.4" y="1482.4" width="269.5" height="188.02"/></clipPath><g clip-path="url(#k52)"><polyline points="675.4,1668.08 714.37,1663.2 743.85,1668.08 773.33,1645.24 802.81,1629.02 832.29,1649.02 861.77,1621.46 891.25,1571.88 939.71,1529.19" fill="none" stroke="#1f77b4" stroke-width="1.3" stroke-linejoin="round"/><circle cx="675.4" cy="1668.08" r="2.5" fill="#1f77b4"/><circle cx="714.37" cy="1663.2" r="2.5" fill="#1f77b4"/><circle cx="743.85" cy="1668.08" r="2.5" fill="#1f77b4"/><circle cx="773.33" cy="1645.24" r="2.5" fill="#1f77b4"/><circle cx="802.81" cy="1629.02" r="2.5" fill="#1f77b4"/><circle cx="832.29" cy="1649.02" r="2.5" fill="#1f77b4"/><circle cx="861.77" cy="1621.46" r="2.5" fill="#1f77b4"/><circle cx="891.25" cy="1571.88" r="2.5" fill="#1f77b4"/><circle cx="939.71" cy="1529.19" r="2.5" fill="#1f77b4"/><polyline points="675.4,1668.08 714.37,1667.61 743.85,1665.72 773.33,1664.93 802.81,1663.98 832.29,1663.98 861.77,1662.88 891.25,1666 939.71,1652.21" fill="none" stroke="#ff7f0e" stroke-width="1.3" stroke-dasharray="4.8 2.1" stroke-linejoin="round"/><circle cx="675.4" cy="1668.08" r="2.0" fill="#ff7f0e"/><circle cx="714.37" cy="1667.61" r="2.0" fill="#ff7f0e"/><circle cx="743.85" cy="1665.72" r="2.0" fill="#ff7f0e"/><circle cx="773.33" cy="1664.93" r="2.0" fill="#ff7f0e"/><circle cx="802.81" cy="1663.98" r="2.0" fill="#ff7f0e"/><circle cx="832.29" cy="1663.98" r="2.0" fill="#ff7f0e"/><circle cx="861.77" cy="1662.88" r="2.0" fill="#ff7f0e"/><circle cx="891.25" cy="1666" r="2.0" fill="#ff7f0e"/><circle cx="939.71" cy="1652.21" r="2.0" fill="#ff7f0e"/><polyline points="675.4,1668.08 714.37,1668.39 743.85,1668.39 773.33,1668.39 802.81,1668.39 832.29,1666.35 861.77,1668.39 891.25,1586.11 939.71,1552.18" fill="none" stroke="#2ca02c" stroke-width="1.3" stroke-dasharray="4.8 2.1" stroke-linejoin="round"/><circle cx="675.4" cy="1668.08" r="2.0" fill="#2ca02c"/><circle cx="714.37" cy="1668.39" r="2.0" fill="#2ca02c"/><circle cx="743.85" cy="1668.39" r="2.0" fill="#2ca02c"/><circle cx="773.33" cy="1668.39" r="2.0" fill="#2ca02c"/><circle cx="802.81" cy="1668.39" r="2.0" fill="#2ca02c"/><circle cx="832.29" cy="1666.35" r="2.0" fill="#2ca02c"/><circle cx="861.77" cy="1668.39" r="2.0" fill="#2ca02c"/><circle cx="891.25" cy="1586.11" r="2.0" fill="#2ca02c"/><circle cx="939.71" cy="1552.18" r="2.0" fill="#2ca02c"/><polyline points="675.4,1654.72 714.37,1634.1 743.85,1603.2 773.33,1573.3 802.81,1543.2 832.29,1513.4 861.77,1487.4 891.25,1487.4 939.71,1487.4" fill="none" stroke="#444444" stroke-width="1.3" stroke-dasharray="1.3 2.2"/></g><path d="M675.4,1482.4V1670.42H944.9" fill="none" stroke="#000" stroke-width="1.05"/><path d="M671.8,1482.4H675.4M671.8,1513.4H675.4M671.8,1543.2H675.4M671.8,1573.3H675.4M671.8,1603.2H675.4M671.8,1634.1H675.4M671.8,1668.46H675.4M714.37,1670.42V1674.02M773.33,1670.42V1674.02M832.29,1670.42V1674.02M891.25,1670.42V1674.02" fill="none" stroke="#000" stroke-width="1"/><text x="668.8" y="1485.8" text-anchor="end" font-size="9" textLength="5.34" lengthAdjust="spacingAndGlyphs">8</text><text x="668.8" y="1516.8" text-anchor="end" font-size="9" textLength="5.34" lengthAdjust="spacingAndGlyphs">4</text><text x="668.8" y="1546.6" text-anchor="end" font-size="9" textLength="5.34" lengthAdjust="spacingAndGlyphs">2</text><text x="668.8" y="1576.7" text-anchor="end" font-size="9" textLength="5.34" lengthAdjust="spacingAndGlyphs">1</text><text x="668.8" y="1606.6" text-anchor="end" font-size="9" textLength="13.36" lengthAdjust="spacingAndGlyphs">0.5</text><text x="668.8" y="1637.5" text-anchor="end" font-size="9" textLength="18.70" lengthAdjust="spacingAndGlyphs">0.25</text><text x="668.8" y="1671.86" text-anchor="end" font-size="9" textLength="5.34" lengthAdjust="spacingAndGlyphs">0</text><text x="714.37" y="1683.72" text-anchor="middle" font-size="9" textLength="18.70" lengthAdjust="spacingAndGlyphs">0.25</text><text x="773.33" y="1683.72" text-anchor="middle" font-size="9" textLength="5.34" lengthAdjust="spacingAndGlyphs">1</text><text x="832.29" y="1683.72" text-anchor="middle" font-size="9" textLength="5.34" lengthAdjust="spacingAndGlyphs">4</text><text x="891.25" y="1683.72" text-anchor="middle" font-size="9" textLength="10.69" lengthAdjust="spacingAndGlyphs">16</text><text x="810.35" y="1477.9" text-anchor="middle" font-size="11.6" textLength="70.50" lengthAdjust="spacingAndGlyphs">Naive Bayes</text><text x="809.4" y="1690.9" text-anchor="middle" font-size="10" textLength="57.50" lengthAdjust="spacingAndGlyphs">Specified <tspan font-style="italic">ε</tspan></text><text transform="translate(651,1577.2) rotate(-90)" text-anchor="middle" font-size="10.2" textLength="59.50" lengthAdjust="spacingAndGlyphs">Measured <tspan font-style="italic">ε</tspan></text><path d="M683,1495.3H702.8" stroke="#1f77b4" stroke-width="1.3"/><circle cx="692.9" cy="1495.3" r="2.5" fill="#1f77b4"/><text x="710.6" y="1498.5" font-size="10" textLength="41.11" lengthAdjust="spacingAndGlyphs">ML-Audit</text><path d="M683,1509.33H702.8" stroke="#ff7f0e" stroke-width="1.3" stroke-dasharray="4.8 2.1"/><circle cx="692.9" cy="1509.33" r="2.0" fill="#ff7f0e"/><text x="710.6" y="1512.53" font-size="10" textLength="37.60" lengthAdjust="spacingAndGlyphs">ClipBKD</text><path d="M683,1523.36H702.8" stroke="#2ca02c" stroke-width="1.3" stroke-dasharray="4.8 2.1"/><circle cx="692.9" cy="1523.36" r="2.0" fill="#2ca02c"/><text x="710.6" y="1526.56" font-size="10" textLength="34.67" lengthAdjust="spacingAndGlyphs">Swap-X</text><path d="M683,1537.39H702.8" stroke="#444444" stroke-width="1.3" stroke-dasharray="1.3 2.2"/><text x="710.6" y="1540.59" font-size="10" textLength="52.91" lengthAdjust="spacingAndGlyphs">Theoretical</text></g>
<g class="t" font-family='"Liberation Sans", sans-serif' fill="#000" text-rendering="geometricPrecision"><clipPath id="k53"><rect x="997.5" y="1482.4" width="269.5" height="188.02"/></clipPath><g clip-path="url(#k53)"><polyline points="997.5,1662.09 1036.47,1636.58 1065.95,1614.5 1095.43,1588.98 1124.91,1570.44 1154.39,1554.52 1183.87,1554.08 1213.35,1557.14 1261.81,1556.26" fill="none" stroke="#1f77b4" stroke-width="1.3" stroke-linejoin="round"/><circle cx="997.5" cy="1662.09" r="2.5" fill="#1f77b4"/><circle cx="1036.47" cy="1636.58" r="2.5" fill="#1f77b4"/><circle cx="1065.95" cy="1614.5" r="2.5" fill="#1f77b4"/><circle cx="1095.43" cy="1588.98" r="2.5" fill="#1f77b4"/><circle cx="1124.91" cy="1570.44" r="2.5" fill="#1f77b4"/><circle cx="1154.39" cy="1554.52" r="2.5" fill="#1f77b4"/><circle cx="1183.87" cy="1554.08" r="2.5" fill="#1f77b4"/><circle cx="1213.35" cy="1557.14" r="2.5" fill="#1f77b4"/><circle cx="1261.81" cy="1556.26" r="2.5" fill="#1f77b4"/><polyline points="997.5,1668.39 1036.47,1668.39 1065.95,1668.39 1095.43,1668.39 1124.91,1668.39 1154.39,1668.39 1183.87,1668.39 1213.35,1667.94 1261.81,1667.94" fill="none" stroke="#ff7f0e" stroke-width="1.3" stroke-dasharray="4.8 2.1" stroke-linejoin="round"/><circle cx="997.5" cy="1668.39" r="2.0" fill="#ff7f0e"/><circle cx="1036.47" cy="1668.39" r="2.0" fill="#ff7f0e"/><circle cx="1065.95" cy="1668.39" r="2.0" fill="#ff7f0e"/><circle cx="1095.43" cy="1668.39" r="2.0" fill="#ff7f0e"/><circle cx="1124.91" cy="1668.39" r="2.0" fill="#ff7f0e"/><circle cx="1154.39" cy="1668.39" r="2.0" fill="#ff7f0e"/><circle cx="1183.87" cy="1668.39" r="2.0" fill="#ff7f0e"/><circle cx="1213.35" cy="1667.94" r="2.0" fill="#ff7f0e"/><circle cx="1261.81" cy="1667.94" r="2.0" fill="#ff7f0e"/><polyline points="997.5,1668.39 1036.47,1668.39 1065.95,1668.39 1095.43,1668.39 1124.91,1668.39 1154.39,1668.39 1183.87,1668.39 1213.35,1664.01 1261.81,1667.94" fill="none" stroke="#2ca02c" stroke-width="1.3" stroke-dasharray="4.8 2.1" stroke-linejoin="round"/><circle cx="997.5" cy="1668.39" r="2.0" fill="#2ca02c"/><circle cx="1036.47" cy="1668.39" r="2.0" fill="#2ca02c"/><circle cx="1065.95" cy="1668.39" r="2.0" fill="#2ca02c"/><circle cx="1095.43" cy="1668.39" r="2.0" fill="#2ca02c"/><circle cx="1124.91" cy="1668.39" r="2.0" fill="#2ca02c"/><circle cx="1154.39" cy="1668.39" r="2.0" fill="#2ca02c"/><circle cx="1183.87" cy="1668.39" r="2.0" fill="#2ca02c"/><circle cx="1213.35" cy="1664.01" r="2.0" fill="#2ca02c"/><circle cx="1261.81" cy="1667.94" r="2.0" fill="#2ca02c"/><polyline points="997.5,1654.72 1036.47,1634.1 1065.95,1603.2 1095.43,1573.3 1124.91,1543.2 1154.39,1513.4 1183.87,1487.4 1213.35,1487.4 1261.81,1487.4" fill="none" stroke="#444444" stroke-width="1.3" stroke-dasharray="1.3 2.2"/></g><path d="M997.5,1482.4V1670.42H1267" fill="none" stroke="#000" stroke-width="1.05"/><path d="M993.9,1482.4H997.5M993.9,1513.4H997.5M993.9,1543.2H997.5M993.9,1573.3H997.5M993.9,1603.2H997.5M993.9,1634.1H997.5M993.9,1668.46H997.5M1036.47,1670.42V1674.02M1095.43,1670.42V1674.02M1154.39,1670.42V1674.02M1213.35,1670.42V1674.02" fill="none" stroke="#000" stroke-width="1"/><text x="990.9" y="1485.8" text-anchor="end" font-size="9" textLength="5.34" lengthAdjust="spacingAndGlyphs">8</text><text x="990.9" y="1516.8" text-anchor="end" font-size="9" textLength="5.34" lengthAdjust="spacingAndGlyphs">4</text><text x="990.9" y="1546.6" text-anchor="end" font-size="9" textLength="5.34" lengthAdjust="spacingAndGlyphs">2</text><text x="990.9" y="1576.7" text-anchor="end" font-size="9" textLength="5.34" lengthAdjust="spacingAndGlyphs">1</text><text x="990.9" y="1606.6" text-anchor="end" font-size="9" textLength="13.36" lengthAdjust="spacingAndGlyphs">0.5</text><text x="990.9" y="1637.5" text-anchor="end" font-size="9" textLength="18.70" lengthAdjust="spacingAndGlyphs">0.25</text><text x="990.9" y="1671.86" text-anchor="end" font-size="9" textLength="5.34" lengthAdjust="spacingAndGlyphs">0</text><text x="1036.47" y="1683.72" text-anchor="middle" font-size="9" textLength="18.70" lengthAdjust="spacingAndGlyphs">0.25</text><text x="1095.43" y="1683.72" text-anchor="middle" font-size="9" textLength="5.34" lengthAdjust="spacingAndGlyphs">1</text><text x="1154.39" y="1683.72" text-anchor="middle" font-size="9" textLength="5.34" lengthAdjust="spacingAndGlyphs">4</text><text x="1213.35" y="1683.72" text-anchor="middle" font-size="9" textLength="10.69" lengthAdjust="spacingAndGlyphs">16</text><text x="1132" y="1477.9" text-anchor="middle" font-size="10.6" textLength="76.90" lengthAdjust="spacingAndGlyphs">Random forest</text><text x="1131.5" y="1690.9" text-anchor="middle" font-size="10" textLength="57.50" lengthAdjust="spacingAndGlyphs">Specified <tspan font-style="italic">ε</tspan></text><text transform="translate(973.1,1577.2) rotate(-90)" text-anchor="middle" font-size="10.2" textLength="59.50" lengthAdjust="spacingAndGlyphs">Measured <tspan font-style="italic">ε</tspan></text><path d="M1005.1,1495.3H1024.9" stroke="#1f77b4" stroke-width="1.3"/><circle cx="1015" cy="1495.3" r="2.5" fill="#1f77b4"/><text x="1032.7" y="1498.5" font-size="10" textLength="41.11" lengthAdjust="spacingAndGlyphs">ML-Audit</text><path d="M1005.1,1509.33H1024.9" stroke="#ff7f0e" stroke-width="1.3" stroke-dasharray="4.8 2.1"/><circle cx="1015" cy="1509.33" r="2.0" fill="#ff7f0e"/><text x="1032.7" y="1512.53" font-size="10" textLength="37.60" lengthAdjust="spacingAndGlyphs">ClipBKD</text><path d="M1005.1,1523.36H1024.9" stroke="#2ca02c" stroke-width="1.3" stroke-dasharray="4.8 2.1"/><circle cx="1015" cy="1523.36" r="2.0" fill="#2ca02c"/><text x="1032.7" y="1526.56" font-size="10" textLength="34.67" lengthAdjust="spacingAndGlyphs">Swap-X</text><path d="M1005.1,1537.39H1024.9" stroke="#444444" stroke-width="1.3" stroke-dasharray="1.3 2.2"/><text x="1032.7" y="1540.59" font-size="10" textLength="52.91" lengthAdjust="spacingAndGlyphs">Theoretical</text></g>
<text x="633.2" y="275.2" text-anchor="middle" font-family='"Liberation Serif", serif' font-size="29" textLength="197.96" lengthAdjust="spacingAndGlyphs" fill="#000">(a) adult dataset</text>
<text x="633.2" y="568.8" text-anchor="middle" font-family='"Liberation Serif", serif' font-size="29" textLength="208.28" lengthAdjust="spacingAndGlyphs" fill="#000">(b) credit dataset</text>
<text x="633.2" y="862.5" text-anchor="middle" font-family='"Liberation Serif", serif' font-size="29" textLength="175.59" lengthAdjust="spacingAndGlyphs" fill="#000">(c) iris dataset</text>
<text x="633.2" y="1156.5" text-anchor="middle" font-family='"Liberation Serif", serif' font-size="29" textLength="302.92" lengthAdjust="spacingAndGlyphs" fill="#000">(d) breast-cancer dataset</text>
<text x="633.2" y="1450" text-anchor="middle" font-family='"Liberation Serif", serif' font-size="29" textLength="249.60" lengthAdjust="spacingAndGlyphs" fill="#000">(e) banknote dataset</text>
<text x="633.2" y="1743.5" text-anchor="middle" font-family='"Liberation Serif", serif' font-size="29" textLength="232.36" lengthAdjust="spacingAndGlyphs" fill="#000">(f) thoracic dataset</text>
</svg></body></html>
